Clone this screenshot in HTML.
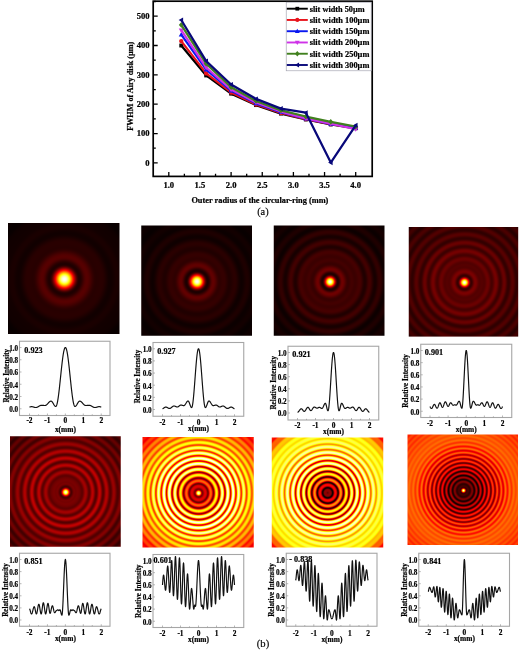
<!DOCTYPE html>
<html lang="en"><head><meta charset="utf-8"><title>Figure</title>
<style>html,body{margin:0;padding:0;background:#fff}svg{display:block}text{font-family:"Liberation Serif","DejaVu Serif",serif;fill:#000}.b{font-weight:bold}.s{stroke:#000;stroke-width:0.2px}.t{stroke:#000;stroke-width:0.22px}</style></head><body>
<svg width="520" height="650" viewBox="0 0 520 650">
<rect x="0" y="0" width="520" height="650" fill="#fff"/>
<defs>
<radialGradient id="g1" gradientUnits="userSpaceOnUse" cx="64.40" cy="279.10" r="81.21">
<stop offset="0.0000" stop-color="#fffffc"/><stop offset="0.0059" stop-color="#fffff9"/><stop offset="0.0118" stop-color="#fffff2"/><stop offset="0.0178" stop-color="#ffffe5"/><stop offset="0.0237" stop-color="#ffffd4"/><stop offset="0.0296" stop-color="#ffffbf"/><stop offset="0.0355" stop-color="#ffffa5"/><stop offset="0.0414" stop-color="#ffff87"/><stop offset="0.0473" stop-color="#ffff65"/><stop offset="0.0533" stop-color="#ffff40"/><stop offset="0.0592" stop-color="#ffff18"/><stop offset="0.0651" stop-color="#fff200"/><stop offset="0.0710" stop-color="#ffd400"/><stop offset="0.0769" stop-color="#ffb500"/><stop offset="0.0828" stop-color="#ff9500"/><stop offset="0.0888" stop-color="#ff7400"/><stop offset="0.0947" stop-color="#ff5400"/><stop offset="0.1006" stop-color="#ff3300"/><stop offset="0.1065" stop-color="#ff1300"/><stop offset="0.1124" stop-color="#f30000"/><stop offset="0.1183" stop-color="#d50000"/><stop offset="0.1243" stop-color="#b80000"/><stop offset="0.1302" stop-color="#9d0000"/><stop offset="0.1361" stop-color="#850000"/><stop offset="0.1420" stop-color="#6e0000"/><stop offset="0.1479" stop-color="#5a0000"/><stop offset="0.1538" stop-color="#480000"/><stop offset="0.1598" stop-color="#3a0000"/><stop offset="0.1657" stop-color="#2e0000"/><stop offset="0.1716" stop-color="#260000"/><stop offset="0.1775" stop-color="#210000"/><stop offset="0.1834" stop-color="#1f0000"/><stop offset="0.1893" stop-color="#1f0000"/><stop offset="0.1953" stop-color="#200000"/><stop offset="0.2012" stop-color="#230000"/><stop offset="0.2071" stop-color="#270000"/><stop offset="0.2130" stop-color="#2b0000"/><stop offset="0.2189" stop-color="#300000"/><stop offset="0.2249" stop-color="#360000"/><stop offset="0.2308" stop-color="#3c0000"/><stop offset="0.2367" stop-color="#420000"/><stop offset="0.2426" stop-color="#470000"/><stop offset="0.2485" stop-color="#4c0000"/><stop offset="0.2544" stop-color="#500000"/><stop offset="0.2604" stop-color="#530000"/><stop offset="0.2663" stop-color="#550000"/><stop offset="0.2722" stop-color="#560000"/><stop offset="0.2781" stop-color="#570000"/><stop offset="0.2840" stop-color="#560000"/><stop offset="0.2899" stop-color="#550000"/><stop offset="0.2959" stop-color="#530000"/><stop offset="0.3018" stop-color="#510000"/><stop offset="0.3077" stop-color="#4e0000"/><stop offset="0.3136" stop-color="#4b0000"/><stop offset="0.3195" stop-color="#470000"/><stop offset="0.3254" stop-color="#440000"/><stop offset="0.3314" stop-color="#400000"/><stop offset="0.3373" stop-color="#3c0000"/><stop offset="0.3432" stop-color="#380000"/><stop offset="0.3491" stop-color="#350000"/><stop offset="0.3550" stop-color="#310000"/><stop offset="0.3609" stop-color="#2f0000"/><stop offset="0.3669" stop-color="#2c0000"/><stop offset="0.3728" stop-color="#2a0000"/><stop offset="0.3787" stop-color="#290000"/><stop offset="0.3846" stop-color="#280000"/><stop offset="0.3905" stop-color="#270000"/><stop offset="0.3964" stop-color="#270000"/><stop offset="0.4024" stop-color="#270000"/><stop offset="0.4083" stop-color="#280000"/><stop offset="0.4142" stop-color="#280000"/><stop offset="0.4201" stop-color="#280000"/><stop offset="0.4260" stop-color="#280000"/><stop offset="0.4320" stop-color="#290000"/><stop offset="0.4379" stop-color="#290000"/><stop offset="0.4438" stop-color="#290000"/><stop offset="0.4497" stop-color="#290000"/><stop offset="0.4556" stop-color="#290000"/><stop offset="0.4615" stop-color="#290000"/><stop offset="0.4675" stop-color="#280000"/><stop offset="0.4734" stop-color="#280000"/><stop offset="0.4793" stop-color="#270000"/><stop offset="0.4852" stop-color="#250000"/><stop offset="0.4911" stop-color="#240000"/><stop offset="0.4970" stop-color="#220000"/><stop offset="0.5030" stop-color="#200000"/><stop offset="0.5089" stop-color="#1e0000"/><stop offset="0.5148" stop-color="#1c0000"/><stop offset="0.5207" stop-color="#1a0000"/><stop offset="0.5266" stop-color="#180000"/><stop offset="0.5325" stop-color="#160000"/><stop offset="0.5385" stop-color="#150000"/><stop offset="0.5444" stop-color="#130000"/><stop offset="0.5503" stop-color="#120000"/><stop offset="0.5562" stop-color="#120000"/><stop offset="0.5621" stop-color="#110000"/><stop offset="0.5680" stop-color="#110000"/><stop offset="0.5740" stop-color="#110000"/><stop offset="0.5799" stop-color="#120000"/><stop offset="0.5858" stop-color="#120000"/><stop offset="0.5917" stop-color="#130000"/><stop offset="0.5976" stop-color="#140000"/><stop offset="0.6036" stop-color="#150000"/><stop offset="0.6095" stop-color="#160000"/><stop offset="0.6154" stop-color="#170000"/><stop offset="0.6213" stop-color="#180000"/><stop offset="0.6272" stop-color="#190000"/><stop offset="0.6331" stop-color="#1a0000"/><stop offset="0.6391" stop-color="#1a0000"/><stop offset="0.6450" stop-color="#1a0000"/><stop offset="0.6509" stop-color="#1a0000"/><stop offset="0.6568" stop-color="#1a0000"/><stop offset="0.6627" stop-color="#190000"/><stop offset="0.6686" stop-color="#190000"/><stop offset="0.6746" stop-color="#180000"/><stop offset="0.6805" stop-color="#170000"/><stop offset="0.6864" stop-color="#160000"/><stop offset="0.6923" stop-color="#150000"/><stop offset="0.6982" stop-color="#140000"/><stop offset="0.7041" stop-color="#130000"/><stop offset="0.7101" stop-color="#130000"/><stop offset="0.7160" stop-color="#130000"/><stop offset="0.7219" stop-color="#120000"/><stop offset="0.7278" stop-color="#120000"/><stop offset="0.7337" stop-color="#120000"/><stop offset="0.7396" stop-color="#120000"/><stop offset="0.7456" stop-color="#120000"/><stop offset="0.7515" stop-color="#120000"/><stop offset="0.7574" stop-color="#120000"/><stop offset="0.7633" stop-color="#110000"/><stop offset="0.7692" stop-color="#110000"/><stop offset="0.7751" stop-color="#110000"/><stop offset="0.7811" stop-color="#110000"/><stop offset="0.7870" stop-color="#110000"/><stop offset="0.7929" stop-color="#110000"/><stop offset="0.7988" stop-color="#110000"/><stop offset="0.8047" stop-color="#110000"/><stop offset="0.8107" stop-color="#100000"/><stop offset="0.8166" stop-color="#100000"/><stop offset="0.8225" stop-color="#100000"/><stop offset="0.8284" stop-color="#0f0000"/><stop offset="0.8343" stop-color="#0f0000"/><stop offset="0.8402" stop-color="#0e0000"/><stop offset="0.8462" stop-color="#0d0000"/><stop offset="0.8521" stop-color="#0c0000"/><stop offset="0.8580" stop-color="#0b0000"/><stop offset="0.8639" stop-color="#0a0000"/><stop offset="0.8698" stop-color="#0a0000"/><stop offset="0.8757" stop-color="#090000"/><stop offset="0.8817" stop-color="#090000"/><stop offset="0.8876" stop-color="#080000"/><stop offset="0.8935" stop-color="#080000"/><stop offset="0.8994" stop-color="#080000"/><stop offset="0.9053" stop-color="#080000"/><stop offset="0.9112" stop-color="#090000"/><stop offset="0.9172" stop-color="#090000"/><stop offset="0.9231" stop-color="#090000"/><stop offset="0.9290" stop-color="#0a0000"/><stop offset="0.9349" stop-color="#0a0000"/><stop offset="0.9408" stop-color="#0b0000"/><stop offset="0.9467" stop-color="#0b0000"/><stop offset="0.9527" stop-color="#0c0000"/><stop offset="0.9586" stop-color="#0c0000"/><stop offset="0.9645" stop-color="#0c0000"/><stop offset="0.9704" stop-color="#0c0000"/><stop offset="0.9763" stop-color="#0c0000"/><stop offset="0.9822" stop-color="#0c0000"/><stop offset="0.9882" stop-color="#0c0000"/><stop offset="0.9941" stop-color="#0c0000"/><stop offset="1.0000" stop-color="#0c0000"/>
</radialGradient>
<radialGradient id="g2" gradientUnits="userSpaceOnUse" cx="197.00" cy="281.50" r="80.66">
<stop offset="0.0000" stop-color="#fffff8"/><stop offset="0.0059" stop-color="#fffff4"/><stop offset="0.0118" stop-color="#ffffe5"/><stop offset="0.0178" stop-color="#ffffcd"/><stop offset="0.0237" stop-color="#ffffad"/><stop offset="0.0296" stop-color="#ffff84"/><stop offset="0.0355" stop-color="#ffff54"/><stop offset="0.0414" stop-color="#ffff1e"/><stop offset="0.0473" stop-color="#ffeb00"/><stop offset="0.0533" stop-color="#ffc000"/><stop offset="0.0592" stop-color="#ff9400"/><stop offset="0.0651" stop-color="#ff6700"/><stop offset="0.0710" stop-color="#ff3900"/><stop offset="0.0769" stop-color="#ff0c00"/><stop offset="0.0828" stop-color="#e00000"/><stop offset="0.0888" stop-color="#b80000"/><stop offset="0.0947" stop-color="#920000"/><stop offset="0.1006" stop-color="#710000"/><stop offset="0.1065" stop-color="#550000"/><stop offset="0.1124" stop-color="#3e0000"/><stop offset="0.1183" stop-color="#2d0000"/><stop offset="0.1243" stop-color="#220000"/><stop offset="0.1302" stop-color="#1d0000"/><stop offset="0.1361" stop-color="#1c0000"/><stop offset="0.1420" stop-color="#1f0000"/><stop offset="0.1479" stop-color="#250000"/><stop offset="0.1538" stop-color="#2c0000"/><stop offset="0.1598" stop-color="#350000"/><stop offset="0.1657" stop-color="#3e0000"/><stop offset="0.1716" stop-color="#480000"/><stop offset="0.1775" stop-color="#500000"/><stop offset="0.1834" stop-color="#580000"/><stop offset="0.1893" stop-color="#5d0000"/><stop offset="0.1953" stop-color="#600000"/><stop offset="0.2012" stop-color="#610000"/><stop offset="0.2071" stop-color="#600000"/><stop offset="0.2130" stop-color="#5e0000"/><stop offset="0.2189" stop-color="#5a0000"/><stop offset="0.2249" stop-color="#560000"/><stop offset="0.2308" stop-color="#510000"/><stop offset="0.2367" stop-color="#4b0000"/><stop offset="0.2426" stop-color="#460000"/><stop offset="0.2485" stop-color="#400000"/><stop offset="0.2544" stop-color="#3b0000"/><stop offset="0.2604" stop-color="#370000"/><stop offset="0.2663" stop-color="#330000"/><stop offset="0.2722" stop-color="#310000"/><stop offset="0.2781" stop-color="#2f0000"/><stop offset="0.2840" stop-color="#2f0000"/><stop offset="0.2899" stop-color="#2f0000"/><stop offset="0.2959" stop-color="#300000"/><stop offset="0.3018" stop-color="#310000"/><stop offset="0.3077" stop-color="#320000"/><stop offset="0.3136" stop-color="#330000"/><stop offset="0.3195" stop-color="#340000"/><stop offset="0.3254" stop-color="#340000"/><stop offset="0.3314" stop-color="#340000"/><stop offset="0.3373" stop-color="#340000"/><stop offset="0.3432" stop-color="#340000"/><stop offset="0.3491" stop-color="#320000"/><stop offset="0.3550" stop-color="#300000"/><stop offset="0.3609" stop-color="#2e0000"/><stop offset="0.3669" stop-color="#2b0000"/><stop offset="0.3728" stop-color="#290000"/><stop offset="0.3787" stop-color="#260000"/><stop offset="0.3846" stop-color="#240000"/><stop offset="0.3905" stop-color="#220000"/><stop offset="0.3964" stop-color="#200000"/><stop offset="0.4024" stop-color="#200000"/><stop offset="0.4083" stop-color="#200000"/><stop offset="0.4142" stop-color="#200000"/><stop offset="0.4201" stop-color="#210000"/><stop offset="0.4260" stop-color="#220000"/><stop offset="0.4320" stop-color="#240000"/><stop offset="0.4379" stop-color="#250000"/><stop offset="0.4438" stop-color="#270000"/><stop offset="0.4497" stop-color="#280000"/><stop offset="0.4556" stop-color="#290000"/><stop offset="0.4615" stop-color="#2a0000"/><stop offset="0.4675" stop-color="#2a0000"/><stop offset="0.4734" stop-color="#2a0000"/><stop offset="0.4793" stop-color="#290000"/><stop offset="0.4852" stop-color="#270000"/><stop offset="0.4911" stop-color="#250000"/><stop offset="0.4970" stop-color="#230000"/><stop offset="0.5030" stop-color="#200000"/><stop offset="0.5089" stop-color="#1d0000"/><stop offset="0.5148" stop-color="#1a0000"/><stop offset="0.5207" stop-color="#180000"/><stop offset="0.5266" stop-color="#150000"/><stop offset="0.5325" stop-color="#130000"/><stop offset="0.5385" stop-color="#110000"/><stop offset="0.5444" stop-color="#100000"/><stop offset="0.5503" stop-color="#0f0000"/><stop offset="0.5562" stop-color="#0f0000"/><stop offset="0.5621" stop-color="#100000"/><stop offset="0.5680" stop-color="#110000"/><stop offset="0.5740" stop-color="#120000"/><stop offset="0.5799" stop-color="#140000"/><stop offset="0.5858" stop-color="#160000"/><stop offset="0.5917" stop-color="#180000"/><stop offset="0.5976" stop-color="#1a0000"/><stop offset="0.6036" stop-color="#1b0000"/><stop offset="0.6095" stop-color="#1d0000"/><stop offset="0.6154" stop-color="#1e0000"/><stop offset="0.6213" stop-color="#1e0000"/><stop offset="0.6272" stop-color="#1e0000"/><stop offset="0.6331" stop-color="#1d0000"/><stop offset="0.6391" stop-color="#1c0000"/><stop offset="0.6450" stop-color="#1a0000"/><stop offset="0.6509" stop-color="#180000"/><stop offset="0.6568" stop-color="#160000"/><stop offset="0.6627" stop-color="#130000"/><stop offset="0.6686" stop-color="#110000"/><stop offset="0.6746" stop-color="#0f0000"/><stop offset="0.6805" stop-color="#0d0000"/><stop offset="0.6864" stop-color="#0c0000"/><stop offset="0.6923" stop-color="#0c0000"/><stop offset="0.6982" stop-color="#0c0000"/><stop offset="0.7041" stop-color="#0c0000"/><stop offset="0.7101" stop-color="#0d0000"/><stop offset="0.7160" stop-color="#0d0000"/><stop offset="0.7219" stop-color="#0e0000"/><stop offset="0.7278" stop-color="#0f0000"/><stop offset="0.7337" stop-color="#100000"/><stop offset="0.7396" stop-color="#110000"/><stop offset="0.7456" stop-color="#120000"/><stop offset="0.7515" stop-color="#120000"/><stop offset="0.7574" stop-color="#130000"/><stop offset="0.7633" stop-color="#130000"/><stop offset="0.7692" stop-color="#130000"/><stop offset="0.7751" stop-color="#120000"/><stop offset="0.7811" stop-color="#120000"/><stop offset="0.7870" stop-color="#100000"/><stop offset="0.7929" stop-color="#0f0000"/><stop offset="0.7988" stop-color="#0e0000"/><stop offset="0.8047" stop-color="#0c0000"/><stop offset="0.8107" stop-color="#0b0000"/><stop offset="0.8166" stop-color="#0a0000"/><stop offset="0.8225" stop-color="#090000"/><stop offset="0.8284" stop-color="#080000"/><stop offset="0.8343" stop-color="#080000"/><stop offset="0.8402" stop-color="#080000"/><stop offset="0.8462" stop-color="#080000"/><stop offset="0.8521" stop-color="#080000"/><stop offset="0.8580" stop-color="#090000"/><stop offset="0.8639" stop-color="#090000"/><stop offset="0.8698" stop-color="#0a0000"/><stop offset="0.8757" stop-color="#0b0000"/><stop offset="0.8817" stop-color="#0c0000"/><stop offset="0.8876" stop-color="#0c0000"/><stop offset="0.8935" stop-color="#0d0000"/><stop offset="0.8994" stop-color="#0d0000"/><stop offset="0.9053" stop-color="#0e0000"/><stop offset="0.9112" stop-color="#0e0000"/><stop offset="0.9172" stop-color="#0e0000"/><stop offset="0.9231" stop-color="#0d0000"/><stop offset="0.9290" stop-color="#0d0000"/><stop offset="0.9349" stop-color="#0c0000"/><stop offset="0.9408" stop-color="#0b0000"/><stop offset="0.9467" stop-color="#0a0000"/><stop offset="0.9527" stop-color="#090000"/><stop offset="0.9586" stop-color="#080000"/><stop offset="0.9645" stop-color="#080000"/><stop offset="0.9704" stop-color="#070000"/><stop offset="0.9763" stop-color="#070000"/><stop offset="0.9822" stop-color="#070000"/><stop offset="0.9882" stop-color="#070000"/><stop offset="0.9941" stop-color="#070000"/><stop offset="1.0000" stop-color="#070000"/>
</radialGradient>
<radialGradient id="g3" gradientUnits="userSpaceOnUse" cx="330.10" cy="281.80" r="80.66">
<stop offset="0.0000" stop-color="#fffff3"/><stop offset="0.0059" stop-color="#ffffea"/><stop offset="0.0118" stop-color="#ffffcf"/><stop offset="0.0178" stop-color="#ffffa4"/><stop offset="0.0237" stop-color="#ffff6a"/><stop offset="0.0296" stop-color="#ffff23"/><stop offset="0.0355" stop-color="#ffe100"/><stop offset="0.0414" stop-color="#ffa600"/><stop offset="0.0473" stop-color="#ff6900"/><stop offset="0.0533" stop-color="#ff2b00"/><stop offset="0.0592" stop-color="#ef0000"/><stop offset="0.0651" stop-color="#b70000"/><stop offset="0.0710" stop-color="#860000"/><stop offset="0.0769" stop-color="#5d0000"/><stop offset="0.0828" stop-color="#3e0000"/><stop offset="0.0888" stop-color="#2a0000"/><stop offset="0.0947" stop-color="#1f0000"/><stop offset="0.1006" stop-color="#1e0000"/><stop offset="0.1065" stop-color="#230000"/><stop offset="0.1124" stop-color="#2c0000"/><stop offset="0.1183" stop-color="#380000"/><stop offset="0.1243" stop-color="#460000"/><stop offset="0.1302" stop-color="#530000"/><stop offset="0.1361" stop-color="#5f0000"/><stop offset="0.1420" stop-color="#680000"/><stop offset="0.1479" stop-color="#6d0000"/><stop offset="0.1538" stop-color="#6e0000"/><stop offset="0.1598" stop-color="#6d0000"/><stop offset="0.1657" stop-color="#690000"/><stop offset="0.1716" stop-color="#640000"/><stop offset="0.1775" stop-color="#5e0000"/><stop offset="0.1834" stop-color="#570000"/><stop offset="0.1893" stop-color="#500000"/><stop offset="0.1953" stop-color="#490000"/><stop offset="0.2012" stop-color="#430000"/><stop offset="0.2071" stop-color="#3e0000"/><stop offset="0.2130" stop-color="#3a0000"/><stop offset="0.2189" stop-color="#380000"/><stop offset="0.2249" stop-color="#380000"/><stop offset="0.2308" stop-color="#380000"/><stop offset="0.2367" stop-color="#3a0000"/><stop offset="0.2426" stop-color="#3c0000"/><stop offset="0.2485" stop-color="#3e0000"/><stop offset="0.2544" stop-color="#400000"/><stop offset="0.2604" stop-color="#420000"/><stop offset="0.2663" stop-color="#430000"/><stop offset="0.2722" stop-color="#430000"/><stop offset="0.2781" stop-color="#420000"/><stop offset="0.2840" stop-color="#410000"/><stop offset="0.2899" stop-color="#3f0000"/><stop offset="0.2959" stop-color="#3d0000"/><stop offset="0.3018" stop-color="#3c0000"/><stop offset="0.3077" stop-color="#3b0000"/><stop offset="0.3136" stop-color="#3b0000"/><stop offset="0.3195" stop-color="#3b0000"/><stop offset="0.3254" stop-color="#3c0000"/><stop offset="0.3314" stop-color="#3e0000"/><stop offset="0.3373" stop-color="#3f0000"/><stop offset="0.3432" stop-color="#410000"/><stop offset="0.3491" stop-color="#430000"/><stop offset="0.3550" stop-color="#450000"/><stop offset="0.3609" stop-color="#450000"/><stop offset="0.3669" stop-color="#460000"/><stop offset="0.3728" stop-color="#450000"/><stop offset="0.3787" stop-color="#430000"/><stop offset="0.3846" stop-color="#3f0000"/><stop offset="0.3905" stop-color="#3b0000"/><stop offset="0.3964" stop-color="#360000"/><stop offset="0.4024" stop-color="#310000"/><stop offset="0.4083" stop-color="#2b0000"/><stop offset="0.4142" stop-color="#270000"/><stop offset="0.4201" stop-color="#230000"/><stop offset="0.4260" stop-color="#210000"/><stop offset="0.4320" stop-color="#200000"/><stop offset="0.4379" stop-color="#210000"/><stop offset="0.4438" stop-color="#240000"/><stop offset="0.4497" stop-color="#280000"/><stop offset="0.4556" stop-color="#2d0000"/><stop offset="0.4615" stop-color="#330000"/><stop offset="0.4675" stop-color="#380000"/><stop offset="0.4734" stop-color="#3d0000"/><stop offset="0.4793" stop-color="#400000"/><stop offset="0.4852" stop-color="#420000"/><stop offset="0.4911" stop-color="#420000"/><stop offset="0.4970" stop-color="#410000"/><stop offset="0.5030" stop-color="#3e0000"/><stop offset="0.5089" stop-color="#390000"/><stop offset="0.5148" stop-color="#340000"/><stop offset="0.5207" stop-color="#2f0000"/><stop offset="0.5266" stop-color="#290000"/><stop offset="0.5325" stop-color="#240000"/><stop offset="0.5385" stop-color="#1f0000"/><stop offset="0.5444" stop-color="#1b0000"/><stop offset="0.5503" stop-color="#190000"/><stop offset="0.5562" stop-color="#170000"/><stop offset="0.5621" stop-color="#180000"/><stop offset="0.5680" stop-color="#190000"/><stop offset="0.5740" stop-color="#1c0000"/><stop offset="0.5799" stop-color="#200000"/><stop offset="0.5858" stop-color="#250000"/><stop offset="0.5917" stop-color="#290000"/><stop offset="0.5976" stop-color="#2d0000"/><stop offset="0.6036" stop-color="#300000"/><stop offset="0.6095" stop-color="#320000"/><stop offset="0.6154" stop-color="#320000"/><stop offset="0.6213" stop-color="#320000"/><stop offset="0.6272" stop-color="#300000"/><stop offset="0.6331" stop-color="#2d0000"/><stop offset="0.6391" stop-color="#290000"/><stop offset="0.6450" stop-color="#240000"/><stop offset="0.6509" stop-color="#1f0000"/><stop offset="0.6568" stop-color="#1b0000"/><stop offset="0.6627" stop-color="#160000"/><stop offset="0.6686" stop-color="#120000"/><stop offset="0.6746" stop-color="#100000"/><stop offset="0.6805" stop-color="#0e0000"/><stop offset="0.6864" stop-color="#0d0000"/><stop offset="0.6923" stop-color="#0d0000"/><stop offset="0.6982" stop-color="#0e0000"/><stop offset="0.7041" stop-color="#100000"/><stop offset="0.7101" stop-color="#120000"/><stop offset="0.7160" stop-color="#150000"/><stop offset="0.7219" stop-color="#180000"/><stop offset="0.7278" stop-color="#1a0000"/><stop offset="0.7337" stop-color="#1c0000"/><stop offset="0.7396" stop-color="#1e0000"/><stop offset="0.7456" stop-color="#1f0000"/><stop offset="0.7515" stop-color="#1f0000"/><stop offset="0.7574" stop-color="#1e0000"/><stop offset="0.7633" stop-color="#1d0000"/><stop offset="0.7692" stop-color="#1b0000"/><stop offset="0.7751" stop-color="#180000"/><stop offset="0.7811" stop-color="#160000"/><stop offset="0.7870" stop-color="#130000"/><stop offset="0.7929" stop-color="#100000"/><stop offset="0.7988" stop-color="#0e0000"/><stop offset="0.8047" stop-color="#0c0000"/><stop offset="0.8107" stop-color="#0b0000"/><stop offset="0.8166" stop-color="#0b0000"/><stop offset="0.8225" stop-color="#0c0000"/><stop offset="0.8284" stop-color="#0c0000"/><stop offset="0.8343" stop-color="#0e0000"/><stop offset="0.8402" stop-color="#0f0000"/><stop offset="0.8462" stop-color="#110000"/><stop offset="0.8521" stop-color="#120000"/><stop offset="0.8580" stop-color="#140000"/><stop offset="0.8639" stop-color="#150000"/><stop offset="0.8698" stop-color="#160000"/><stop offset="0.8757" stop-color="#160000"/><stop offset="0.8817" stop-color="#160000"/><stop offset="0.8876" stop-color="#150000"/><stop offset="0.8935" stop-color="#140000"/><stop offset="0.8994" stop-color="#130000"/><stop offset="0.9053" stop-color="#110000"/><stop offset="0.9112" stop-color="#0f0000"/><stop offset="0.9172" stop-color="#0d0000"/><stop offset="0.9231" stop-color="#0c0000"/><stop offset="0.9290" stop-color="#0b0000"/><stop offset="0.9349" stop-color="#0a0000"/><stop offset="0.9408" stop-color="#0a0000"/><stop offset="0.9467" stop-color="#0a0000"/><stop offset="0.9527" stop-color="#0a0000"/><stop offset="0.9586" stop-color="#0b0000"/><stop offset="0.9645" stop-color="#0c0000"/><stop offset="0.9704" stop-color="#0d0000"/><stop offset="0.9763" stop-color="#0e0000"/><stop offset="0.9822" stop-color="#0f0000"/><stop offset="0.9882" stop-color="#100000"/><stop offset="0.9941" stop-color="#110000"/><stop offset="1.0000" stop-color="#110000"/>
</radialGradient>
<radialGradient id="g4" gradientUnits="userSpaceOnUse" cx="464.50" cy="282.50" r="79.71">
<stop offset="0.0000" stop-color="#ffffef"/><stop offset="0.0059" stop-color="#ffffe4"/><stop offset="0.0118" stop-color="#ffffc3"/><stop offset="0.0178" stop-color="#ffff8d"/><stop offset="0.0237" stop-color="#ffff45"/><stop offset="0.0296" stop-color="#fff400"/><stop offset="0.0355" stop-color="#ffb400"/><stop offset="0.0414" stop-color="#ff7000"/><stop offset="0.0473" stop-color="#ff2d00"/><stop offset="0.0533" stop-color="#eb0000"/><stop offset="0.0592" stop-color="#b10000"/><stop offset="0.0651" stop-color="#810000"/><stop offset="0.0710" stop-color="#5b0000"/><stop offset="0.0769" stop-color="#430000"/><stop offset="0.0828" stop-color="#380000"/><stop offset="0.0888" stop-color="#360000"/><stop offset="0.0947" stop-color="#3c0000"/><stop offset="0.1006" stop-color="#460000"/><stop offset="0.1065" stop-color="#520000"/><stop offset="0.1124" stop-color="#5f0000"/><stop offset="0.1183" stop-color="#6a0000"/><stop offset="0.1243" stop-color="#730000"/><stop offset="0.1302" stop-color="#790000"/><stop offset="0.1361" stop-color="#7b0000"/><stop offset="0.1420" stop-color="#790000"/><stop offset="0.1479" stop-color="#760000"/><stop offset="0.1538" stop-color="#710000"/><stop offset="0.1598" stop-color="#6b0000"/><stop offset="0.1657" stop-color="#640000"/><stop offset="0.1716" stop-color="#5e0000"/><stop offset="0.1775" stop-color="#590000"/><stop offset="0.1834" stop-color="#550000"/><stop offset="0.1893" stop-color="#530000"/><stop offset="0.1953" stop-color="#520000"/><stop offset="0.2012" stop-color="#530000"/><stop offset="0.2071" stop-color="#540000"/><stop offset="0.2130" stop-color="#550000"/><stop offset="0.2189" stop-color="#550000"/><stop offset="0.2249" stop-color="#550000"/><stop offset="0.2308" stop-color="#540000"/><stop offset="0.2367" stop-color="#520000"/><stop offset="0.2426" stop-color="#510000"/><stop offset="0.2485" stop-color="#510000"/><stop offset="0.2544" stop-color="#530000"/><stop offset="0.2604" stop-color="#560000"/><stop offset="0.2663" stop-color="#5a0000"/><stop offset="0.2722" stop-color="#5f0000"/><stop offset="0.2781" stop-color="#640000"/><stop offset="0.2840" stop-color="#670000"/><stop offset="0.2899" stop-color="#6a0000"/><stop offset="0.2959" stop-color="#6a0000"/><stop offset="0.3018" stop-color="#690000"/><stop offset="0.3077" stop-color="#640000"/><stop offset="0.3136" stop-color="#5f0000"/><stop offset="0.3195" stop-color="#580000"/><stop offset="0.3254" stop-color="#510000"/><stop offset="0.3314" stop-color="#4b0000"/><stop offset="0.3373" stop-color="#470000"/><stop offset="0.3432" stop-color="#460000"/><stop offset="0.3491" stop-color="#480000"/><stop offset="0.3550" stop-color="#4c0000"/><stop offset="0.3609" stop-color="#520000"/><stop offset="0.3669" stop-color="#590000"/><stop offset="0.3728" stop-color="#610000"/><stop offset="0.3787" stop-color="#690000"/><stop offset="0.3846" stop-color="#6f0000"/><stop offset="0.3905" stop-color="#730000"/><stop offset="0.3964" stop-color="#740000"/><stop offset="0.4024" stop-color="#720000"/><stop offset="0.4083" stop-color="#6d0000"/><stop offset="0.4142" stop-color="#660000"/><stop offset="0.4201" stop-color="#5d0000"/><stop offset="0.4260" stop-color="#540000"/><stop offset="0.4320" stop-color="#4b0000"/><stop offset="0.4379" stop-color="#430000"/><stop offset="0.4438" stop-color="#3e0000"/><stop offset="0.4497" stop-color="#3c0000"/><stop offset="0.4556" stop-color="#3d0000"/><stop offset="0.4615" stop-color="#410000"/><stop offset="0.4675" stop-color="#480000"/><stop offset="0.4734" stop-color="#510000"/><stop offset="0.4793" stop-color="#5a0000"/><stop offset="0.4852" stop-color="#610000"/><stop offset="0.4911" stop-color="#670000"/><stop offset="0.4970" stop-color="#690000"/><stop offset="0.5030" stop-color="#690000"/><stop offset="0.5089" stop-color="#650000"/><stop offset="0.5148" stop-color="#5f0000"/><stop offset="0.5207" stop-color="#560000"/><stop offset="0.5266" stop-color="#4d0000"/><stop offset="0.5325" stop-color="#430000"/><stop offset="0.5385" stop-color="#3b0000"/><stop offset="0.5444" stop-color="#360000"/><stop offset="0.5503" stop-color="#330000"/><stop offset="0.5562" stop-color="#330000"/><stop offset="0.5621" stop-color="#350000"/><stop offset="0.5680" stop-color="#3a0000"/><stop offset="0.5740" stop-color="#400000"/><stop offset="0.5799" stop-color="#470000"/><stop offset="0.5858" stop-color="#4e0000"/><stop offset="0.5917" stop-color="#530000"/><stop offset="0.5976" stop-color="#570000"/><stop offset="0.6036" stop-color="#580000"/><stop offset="0.6095" stop-color="#570000"/><stop offset="0.6154" stop-color="#540000"/><stop offset="0.6213" stop-color="#4f0000"/><stop offset="0.6272" stop-color="#480000"/><stop offset="0.6331" stop-color="#410000"/><stop offset="0.6391" stop-color="#3a0000"/><stop offset="0.6450" stop-color="#350000"/><stop offset="0.6509" stop-color="#310000"/><stop offset="0.6568" stop-color="#2f0000"/><stop offset="0.6627" stop-color="#2f0000"/><stop offset="0.6686" stop-color="#320000"/><stop offset="0.6746" stop-color="#360000"/><stop offset="0.6805" stop-color="#3c0000"/><stop offset="0.6864" stop-color="#420000"/><stop offset="0.6923" stop-color="#480000"/><stop offset="0.6982" stop-color="#4d0000"/><stop offset="0.7041" stop-color="#500000"/><stop offset="0.7101" stop-color="#520000"/><stop offset="0.7160" stop-color="#510000"/><stop offset="0.7219" stop-color="#4e0000"/><stop offset="0.7278" stop-color="#4a0000"/><stop offset="0.7337" stop-color="#430000"/><stop offset="0.7396" stop-color="#3c0000"/><stop offset="0.7456" stop-color="#360000"/><stop offset="0.7515" stop-color="#300000"/><stop offset="0.7574" stop-color="#2c0000"/><stop offset="0.7633" stop-color="#2a0000"/><stop offset="0.7692" stop-color="#2b0000"/><stop offset="0.7751" stop-color="#2d0000"/><stop offset="0.7811" stop-color="#310000"/><stop offset="0.7870" stop-color="#360000"/><stop offset="0.7929" stop-color="#3c0000"/><stop offset="0.7988" stop-color="#410000"/><stop offset="0.8047" stop-color="#460000"/><stop offset="0.8107" stop-color="#490000"/><stop offset="0.8166" stop-color="#4a0000"/><stop offset="0.8225" stop-color="#4a0000"/><stop offset="0.8284" stop-color="#470000"/><stop offset="0.8343" stop-color="#420000"/><stop offset="0.8402" stop-color="#3d0000"/><stop offset="0.8462" stop-color="#370000"/><stop offset="0.8521" stop-color="#310000"/><stop offset="0.8580" stop-color="#2b0000"/><stop offset="0.8639" stop-color="#280000"/><stop offset="0.8698" stop-color="#260000"/><stop offset="0.8757" stop-color="#270000"/><stop offset="0.8817" stop-color="#290000"/><stop offset="0.8876" stop-color="#2c0000"/><stop offset="0.8935" stop-color="#310000"/><stop offset="0.8994" stop-color="#360000"/><stop offset="0.9053" stop-color="#3a0000"/><stop offset="0.9112" stop-color="#3e0000"/><stop offset="0.9172" stop-color="#410000"/><stop offset="0.9231" stop-color="#420000"/><stop offset="0.9290" stop-color="#420000"/><stop offset="0.9349" stop-color="#3f0000"/><stop offset="0.9408" stop-color="#3b0000"/><stop offset="0.9467" stop-color="#360000"/><stop offset="0.9527" stop-color="#310000"/><stop offset="0.9586" stop-color="#2b0000"/><stop offset="0.9645" stop-color="#270000"/><stop offset="0.9704" stop-color="#240000"/><stop offset="0.9763" stop-color="#220000"/><stop offset="0.9822" stop-color="#220000"/><stop offset="0.9882" stop-color="#240000"/><stop offset="0.9941" stop-color="#270000"/><stop offset="1.0000" stop-color="#2b0000"/>
</radialGradient>
<radialGradient id="g5" gradientUnits="userSpaceOnUse" cx="65.75" cy="492.20" r="80.66">
<stop offset="0.0000" stop-color="#ffffe7"/><stop offset="0.0059" stop-color="#ffffd7"/><stop offset="0.0118" stop-color="#ffffa5"/><stop offset="0.0178" stop-color="#ffff58"/><stop offset="0.0237" stop-color="#fff700"/><stop offset="0.0296" stop-color="#ffaa00"/><stop offset="0.0355" stop-color="#ff5900"/><stop offset="0.0414" stop-color="#ff0a00"/><stop offset="0.0473" stop-color="#c30000"/><stop offset="0.0533" stop-color="#8a0000"/><stop offset="0.0592" stop-color="#630000"/><stop offset="0.0651" stop-color="#4d0000"/><stop offset="0.0710" stop-color="#470000"/><stop offset="0.0769" stop-color="#4d0000"/><stop offset="0.0828" stop-color="#580000"/><stop offset="0.0888" stop-color="#640000"/><stop offset="0.0947" stop-color="#6f0000"/><stop offset="0.1006" stop-color="#760000"/><stop offset="0.1065" stop-color="#790000"/><stop offset="0.1124" stop-color="#780000"/><stop offset="0.1183" stop-color="#750000"/><stop offset="0.1243" stop-color="#740000"/><stop offset="0.1302" stop-color="#750000"/><stop offset="0.1361" stop-color="#770000"/><stop offset="0.1420" stop-color="#790000"/><stop offset="0.1479" stop-color="#790000"/><stop offset="0.1538" stop-color="#780000"/><stop offset="0.1598" stop-color="#760000"/><stop offset="0.1657" stop-color="#740000"/><stop offset="0.1716" stop-color="#710000"/><stop offset="0.1775" stop-color="#6e0000"/><stop offset="0.1834" stop-color="#6a0000"/><stop offset="0.1893" stop-color="#650000"/><stop offset="0.1953" stop-color="#600000"/><stop offset="0.2012" stop-color="#5e0000"/><stop offset="0.2071" stop-color="#5f0000"/><stop offset="0.2130" stop-color="#650000"/><stop offset="0.2189" stop-color="#700000"/><stop offset="0.2249" stop-color="#7d0000"/><stop offset="0.2308" stop-color="#8b0000"/><stop offset="0.2367" stop-color="#970000"/><stop offset="0.2426" stop-color="#a00000"/><stop offset="0.2485" stop-color="#a30000"/><stop offset="0.2544" stop-color="#a00000"/><stop offset="0.2604" stop-color="#970000"/><stop offset="0.2663" stop-color="#8a0000"/><stop offset="0.2722" stop-color="#7b0000"/><stop offset="0.2781" stop-color="#6c0000"/><stop offset="0.2840" stop-color="#600000"/><stop offset="0.2899" stop-color="#5a0000"/><stop offset="0.2959" stop-color="#5c0000"/><stop offset="0.3018" stop-color="#660000"/><stop offset="0.3077" stop-color="#780000"/><stop offset="0.3136" stop-color="#8d0000"/><stop offset="0.3195" stop-color="#a20000"/><stop offset="0.3254" stop-color="#b30000"/><stop offset="0.3314" stop-color="#bb0000"/><stop offset="0.3373" stop-color="#b90000"/><stop offset="0.3432" stop-color="#af0000"/><stop offset="0.3491" stop-color="#9e0000"/><stop offset="0.3550" stop-color="#890000"/><stop offset="0.3609" stop-color="#740000"/><stop offset="0.3669" stop-color="#620000"/><stop offset="0.3728" stop-color="#570000"/><stop offset="0.3787" stop-color="#540000"/><stop offset="0.3846" stop-color="#5b0000"/><stop offset="0.3905" stop-color="#6a0000"/><stop offset="0.3964" stop-color="#7f0000"/><stop offset="0.4024" stop-color="#960000"/><stop offset="0.4083" stop-color="#ab0000"/><stop offset="0.4142" stop-color="#bb0000"/><stop offset="0.4201" stop-color="#c10000"/><stop offset="0.4260" stop-color="#be0000"/><stop offset="0.4320" stop-color="#b10000"/><stop offset="0.4379" stop-color="#9d0000"/><stop offset="0.4438" stop-color="#860000"/><stop offset="0.4497" stop-color="#6f0000"/><stop offset="0.4556" stop-color="#5e0000"/><stop offset="0.4615" stop-color="#550000"/><stop offset="0.4675" stop-color="#550000"/><stop offset="0.4734" stop-color="#5e0000"/><stop offset="0.4793" stop-color="#6e0000"/><stop offset="0.4852" stop-color="#810000"/><stop offset="0.4911" stop-color="#940000"/><stop offset="0.4970" stop-color="#a50000"/><stop offset="0.5030" stop-color="#af0000"/><stop offset="0.5089" stop-color="#b20000"/><stop offset="0.5148" stop-color="#ae0000"/><stop offset="0.5207" stop-color="#a20000"/><stop offset="0.5266" stop-color="#910000"/><stop offset="0.5325" stop-color="#7e0000"/><stop offset="0.5385" stop-color="#6c0000"/><stop offset="0.5444" stop-color="#5d0000"/><stop offset="0.5503" stop-color="#550000"/><stop offset="0.5562" stop-color="#530000"/><stop offset="0.5621" stop-color="#580000"/><stop offset="0.5680" stop-color="#630000"/><stop offset="0.5740" stop-color="#720000"/><stop offset="0.5799" stop-color="#810000"/><stop offset="0.5858" stop-color="#8e0000"/><stop offset="0.5917" stop-color="#970000"/><stop offset="0.5976" stop-color="#990000"/><stop offset="0.6036" stop-color="#960000"/><stop offset="0.6095" stop-color="#8f0000"/><stop offset="0.6154" stop-color="#830000"/><stop offset="0.6213" stop-color="#770000"/><stop offset="0.6272" stop-color="#690000"/><stop offset="0.6331" stop-color="#5e0000"/><stop offset="0.6391" stop-color="#550000"/><stop offset="0.6450" stop-color="#510000"/><stop offset="0.6509" stop-color="#510000"/><stop offset="0.6568" stop-color="#560000"/><stop offset="0.6627" stop-color="#5f0000"/><stop offset="0.6686" stop-color="#6a0000"/><stop offset="0.6746" stop-color="#750000"/><stop offset="0.6805" stop-color="#7e0000"/><stop offset="0.6864" stop-color="#830000"/><stop offset="0.6923" stop-color="#840000"/><stop offset="0.6982" stop-color="#800000"/><stop offset="0.7041" stop-color="#770000"/><stop offset="0.7101" stop-color="#6b0000"/><stop offset="0.7160" stop-color="#5d0000"/><stop offset="0.7219" stop-color="#510000"/><stop offset="0.7278" stop-color="#470000"/><stop offset="0.7337" stop-color="#430000"/><stop offset="0.7396" stop-color="#440000"/><stop offset="0.7456" stop-color="#490000"/><stop offset="0.7515" stop-color="#520000"/><stop offset="0.7574" stop-color="#5c0000"/><stop offset="0.7633" stop-color="#660000"/><stop offset="0.7692" stop-color="#6f0000"/><stop offset="0.7751" stop-color="#730000"/><stop offset="0.7811" stop-color="#730000"/><stop offset="0.7870" stop-color="#6f0000"/><stop offset="0.7929" stop-color="#660000"/><stop offset="0.7988" stop-color="#5b0000"/><stop offset="0.8047" stop-color="#4f0000"/><stop offset="0.8107" stop-color="#440000"/><stop offset="0.8166" stop-color="#3d0000"/><stop offset="0.8225" stop-color="#3a0000"/><stop offset="0.8284" stop-color="#3c0000"/><stop offset="0.8343" stop-color="#410000"/><stop offset="0.8402" stop-color="#490000"/><stop offset="0.8462" stop-color="#520000"/><stop offset="0.8521" stop-color="#5b0000"/><stop offset="0.8580" stop-color="#610000"/><stop offset="0.8639" stop-color="#640000"/><stop offset="0.8698" stop-color="#630000"/><stop offset="0.8757" stop-color="#5f0000"/><stop offset="0.8817" stop-color="#560000"/><stop offset="0.8876" stop-color="#4c0000"/><stop offset="0.8935" stop-color="#420000"/><stop offset="0.8994" stop-color="#390000"/><stop offset="0.9053" stop-color="#340000"/><stop offset="0.9112" stop-color="#320000"/><stop offset="0.9172" stop-color="#340000"/><stop offset="0.9231" stop-color="#390000"/><stop offset="0.9290" stop-color="#400000"/><stop offset="0.9349" stop-color="#480000"/><stop offset="0.9408" stop-color="#4f0000"/><stop offset="0.9467" stop-color="#540000"/><stop offset="0.9527" stop-color="#560000"/><stop offset="0.9586" stop-color="#540000"/><stop offset="0.9645" stop-color="#4f0000"/><stop offset="0.9704" stop-color="#480000"/><stop offset="0.9763" stop-color="#3f0000"/><stop offset="0.9822" stop-color="#360000"/><stop offset="0.9882" stop-color="#2f0000"/><stop offset="0.9941" stop-color="#2b0000"/><stop offset="1.0000" stop-color="#2a0000"/>
</radialGradient>
<radialGradient id="g6" gradientUnits="userSpaceOnUse" cx="198.60" cy="493.10" r="81.03">
<stop offset="0.0000" stop-color="#ffffc2"/><stop offset="0.0059" stop-color="#ffffb5"/><stop offset="0.0118" stop-color="#ffff85"/><stop offset="0.0178" stop-color="#ffff24"/><stop offset="0.0237" stop-color="#ffb700"/><stop offset="0.0296" stop-color="#ff4600"/><stop offset="0.0355" stop-color="#db0000"/><stop offset="0.0414" stop-color="#940000"/><stop offset="0.0473" stop-color="#780000"/><stop offset="0.0533" stop-color="#7f0000"/><stop offset="0.0592" stop-color="#990000"/><stop offset="0.0651" stop-color="#b70000"/><stop offset="0.0710" stop-color="#d00000"/><stop offset="0.0769" stop-color="#df0000"/><stop offset="0.0828" stop-color="#e50000"/><stop offset="0.0888" stop-color="#e20000"/><stop offset="0.0947" stop-color="#d30000"/><stop offset="0.1006" stop-color="#b40000"/><stop offset="0.1065" stop-color="#8d0000"/><stop offset="0.1124" stop-color="#700000"/><stop offset="0.1183" stop-color="#730000"/><stop offset="0.1243" stop-color="#9b0000"/><stop offset="0.1302" stop-color="#dd0000"/><stop offset="0.1361" stop-color="#ff2100"/><stop offset="0.1420" stop-color="#ff4f00"/><stop offset="0.1479" stop-color="#ff6300"/><stop offset="0.1538" stop-color="#ff6300"/><stop offset="0.1598" stop-color="#ff4f00"/><stop offset="0.1657" stop-color="#ff2100"/><stop offset="0.1716" stop-color="#dc0000"/><stop offset="0.1775" stop-color="#990000"/><stop offset="0.1834" stop-color="#750000"/><stop offset="0.1893" stop-color="#850000"/><stop offset="0.1953" stop-color="#cb0000"/><stop offset="0.2012" stop-color="#ff3200"/><stop offset="0.2071" stop-color="#ff9400"/><stop offset="0.2130" stop-color="#ffd900"/><stop offset="0.2189" stop-color="#fff900"/><stop offset="0.2249" stop-color="#fffd00"/><stop offset="0.2308" stop-color="#ffe400"/><stop offset="0.2367" stop-color="#ffa600"/><stop offset="0.2426" stop-color="#ff4400"/><stop offset="0.2485" stop-color="#da0000"/><stop offset="0.2544" stop-color="#970000"/><stop offset="0.2604" stop-color="#9c0000"/><stop offset="0.2663" stop-color="#ee0000"/><stop offset="0.2722" stop-color="#ff7000"/><stop offset="0.2781" stop-color="#ffef00"/><stop offset="0.2840" stop-color="#ffff6a"/><stop offset="0.2899" stop-color="#ffffa3"/><stop offset="0.2959" stop-color="#ffffa4"/><stop offset="0.3018" stop-color="#ffff6c"/><stop offset="0.3077" stop-color="#fff000"/><stop offset="0.3136" stop-color="#ff7100"/><stop offset="0.3195" stop-color="#f40000"/><stop offset="0.3254" stop-color="#b00000"/><stop offset="0.3314" stop-color="#c30000"/><stop offset="0.3373" stop-color="#ff2600"/><stop offset="0.3432" stop-color="#ffaf00"/><stop offset="0.3491" stop-color="#ffff44"/><stop offset="0.3550" stop-color="#ffffba"/><stop offset="0.3609" stop-color="#ffffea"/><stop offset="0.3669" stop-color="#ffffe1"/><stop offset="0.3728" stop-color="#ffff9a"/><stop offset="0.3787" stop-color="#ffff06"/><stop offset="0.3846" stop-color="#ff7e00"/><stop offset="0.3905" stop-color="#ff0a00"/><stop offset="0.3964" stop-color="#dd0000"/><stop offset="0.4024" stop-color="#ff1600"/><stop offset="0.4083" stop-color="#ff9700"/><stop offset="0.4142" stop-color="#ffff35"/><stop offset="0.4201" stop-color="#ffffc1"/><stop offset="0.4260" stop-color="#fffff7"/><stop offset="0.4320" stop-color="#ffffed"/><stop offset="0.4379" stop-color="#ffffa5"/><stop offset="0.4438" stop-color="#ffff17"/><stop offset="0.4497" stop-color="#ff9400"/><stop offset="0.4556" stop-color="#ff2a00"/><stop offset="0.4615" stop-color="#fd0000"/><stop offset="0.4675" stop-color="#ff2500"/><stop offset="0.4734" stop-color="#ff8a00"/><stop offset="0.4793" stop-color="#fffd00"/><stop offset="0.4852" stop-color="#ffff7b"/><stop offset="0.4911" stop-color="#ffffb6"/><stop offset="0.4970" stop-color="#ffffb9"/><stop offset="0.5030" stop-color="#ffff88"/><stop offset="0.5089" stop-color="#ffff1a"/><stop offset="0.5148" stop-color="#ffa900"/><stop offset="0.5207" stop-color="#ff4b00"/><stop offset="0.5266" stop-color="#ff2100"/><stop offset="0.5325" stop-color="#ff3c00"/><stop offset="0.5385" stop-color="#ff8a00"/><stop offset="0.5444" stop-color="#ffe500"/><stop offset="0.5503" stop-color="#ffff3d"/><stop offset="0.5562" stop-color="#ffff6c"/><stop offset="0.5621" stop-color="#ffff6f"/><stop offset="0.5680" stop-color="#ffff4c"/><stop offset="0.5740" stop-color="#fffc00"/><stop offset="0.5799" stop-color="#ffad00"/><stop offset="0.5858" stop-color="#ff6200"/><stop offset="0.5917" stop-color="#ff3c00"/><stop offset="0.5976" stop-color="#ff4900"/><stop offset="0.6036" stop-color="#ff7e00"/><stop offset="0.6095" stop-color="#ffbf00"/><stop offset="0.6154" stop-color="#fff100"/><stop offset="0.6213" stop-color="#ffff0e"/><stop offset="0.6272" stop-color="#ffff12"/><stop offset="0.6331" stop-color="#fffb00"/><stop offset="0.6391" stop-color="#ffd600"/><stop offset="0.6450" stop-color="#ff9f00"/><stop offset="0.6509" stop-color="#ff6b00"/><stop offset="0.6568" stop-color="#ff5000"/><stop offset="0.6627" stop-color="#ff5900"/><stop offset="0.6686" stop-color="#ff7f00"/><stop offset="0.6746" stop-color="#ffae00"/><stop offset="0.6805" stop-color="#ffd200"/><stop offset="0.6864" stop-color="#ffe400"/><stop offset="0.6923" stop-color="#ffe500"/><stop offset="0.6982" stop-color="#ffd800"/><stop offset="0.7041" stop-color="#ffb800"/><stop offset="0.7101" stop-color="#ff8a00"/><stop offset="0.7160" stop-color="#ff5d00"/><stop offset="0.7219" stop-color="#ff4400"/><stop offset="0.7278" stop-color="#ff4900"/><stop offset="0.7337" stop-color="#ff6500"/><stop offset="0.7396" stop-color="#ff8a00"/><stop offset="0.7456" stop-color="#ffa700"/><stop offset="0.7515" stop-color="#ffb700"/><stop offset="0.7574" stop-color="#ffbb00"/><stop offset="0.7633" stop-color="#ffb300"/><stop offset="0.7692" stop-color="#ff9d00"/><stop offset="0.7751" stop-color="#ff7700"/><stop offset="0.7811" stop-color="#ff4f00"/><stop offset="0.7870" stop-color="#ff3500"/><stop offset="0.7929" stop-color="#ff3100"/><stop offset="0.7988" stop-color="#ff4200"/><stop offset="0.8047" stop-color="#ff5c00"/><stop offset="0.8107" stop-color="#ff7300"/><stop offset="0.8166" stop-color="#ff8100"/><stop offset="0.8225" stop-color="#ff8600"/><stop offset="0.8284" stop-color="#ff8100"/><stop offset="0.8343" stop-color="#ff7100"/><stop offset="0.8402" stop-color="#ff5400"/><stop offset="0.8462" stop-color="#ff3100"/><stop offset="0.8521" stop-color="#ff1600"/><stop offset="0.8580" stop-color="#ff0c00"/><stop offset="0.8639" stop-color="#ff1400"/><stop offset="0.8698" stop-color="#ff2400"/><stop offset="0.8757" stop-color="#ff3400"/><stop offset="0.8817" stop-color="#ff3f00"/><stop offset="0.8876" stop-color="#ff4300"/><stop offset="0.8935" stop-color="#ff4200"/><stop offset="0.8994" stop-color="#ff3900"/><stop offset="0.9053" stop-color="#ff2600"/><stop offset="0.9112" stop-color="#ff0d00"/><stop offset="0.9172" stop-color="#f70000"/><stop offset="0.9231" stop-color="#ed0000"/><stop offset="0.9290" stop-color="#f10000"/><stop offset="0.9349" stop-color="#fd0000"/><stop offset="0.9408" stop-color="#ff0b00"/><stop offset="0.9467" stop-color="#ff1500"/><stop offset="0.9527" stop-color="#ff1a00"/><stop offset="0.9586" stop-color="#ff1a00"/><stop offset="0.9645" stop-color="#ff1500"/><stop offset="0.9704" stop-color="#ff0800"/><stop offset="0.9763" stop-color="#f40000"/><stop offset="0.9822" stop-color="#e10000"/><stop offset="0.9882" stop-color="#d70000"/><stop offset="0.9941" stop-color="#d90000"/><stop offset="1.0000" stop-color="#e40000"/>
</radialGradient>
<radialGradient id="g7" gradientUnits="userSpaceOnUse" cx="327.70" cy="492.80" r="81.21">
<stop offset="0.0000" stop-color="#600000"/><stop offset="0.0059" stop-color="#6a0000"/><stop offset="0.0118" stop-color="#7c0000"/><stop offset="0.0178" stop-color="#880000"/><stop offset="0.0237" stop-color="#8e0000"/><stop offset="0.0296" stop-color="#910000"/><stop offset="0.0355" stop-color="#900000"/><stop offset="0.0414" stop-color="#860000"/><stop offset="0.0473" stop-color="#650000"/><stop offset="0.0533" stop-color="#330000"/><stop offset="0.0592" stop-color="#0d0000"/><stop offset="0.0651" stop-color="#130000"/><stop offset="0.0710" stop-color="#470000"/><stop offset="0.0769" stop-color="#940000"/><stop offset="0.0828" stop-color="#d60000"/><stop offset="0.0888" stop-color="#fc0000"/><stop offset="0.0947" stop-color="#ff0800"/><stop offset="0.1006" stop-color="#ff0400"/><stop offset="0.1065" stop-color="#ea0000"/><stop offset="0.1124" stop-color="#b10000"/><stop offset="0.1183" stop-color="#650000"/><stop offset="0.1243" stop-color="#280000"/><stop offset="0.1302" stop-color="#1f0000"/><stop offset="0.1361" stop-color="#5e0000"/><stop offset="0.1420" stop-color="#ce0000"/><stop offset="0.1479" stop-color="#ff3b00"/><stop offset="0.1538" stop-color="#ff7c00"/><stop offset="0.1598" stop-color="#ff9100"/><stop offset="0.1657" stop-color="#ff8e00"/><stop offset="0.1716" stop-color="#ff7000"/><stop offset="0.1775" stop-color="#ff2800"/><stop offset="0.1834" stop-color="#be0000"/><stop offset="0.1893" stop-color="#5e0000"/><stop offset="0.1953" stop-color="#340000"/><stop offset="0.2012" stop-color="#5c0000"/><stop offset="0.2071" stop-color="#c90000"/><stop offset="0.2130" stop-color="#ff4e00"/><stop offset="0.2189" stop-color="#ffb600"/><stop offset="0.2249" stop-color="#ffed00"/><stop offset="0.2308" stop-color="#fffc00"/><stop offset="0.2367" stop-color="#fff100"/><stop offset="0.2426" stop-color="#ffba00"/><stop offset="0.2485" stop-color="#ff4a00"/><stop offset="0.2544" stop-color="#c20000"/><stop offset="0.2604" stop-color="#6b0000"/><stop offset="0.2663" stop-color="#780000"/><stop offset="0.2722" stop-color="#e30000"/><stop offset="0.2781" stop-color="#ff7a00"/><stop offset="0.2840" stop-color="#fff900"/><stop offset="0.2899" stop-color="#ffff5d"/><stop offset="0.2959" stop-color="#ffff7b"/><stop offset="0.3018" stop-color="#ffff6d"/><stop offset="0.3077" stop-color="#ffff23"/><stop offset="0.3136" stop-color="#ffab00"/><stop offset="0.3195" stop-color="#ff1f00"/><stop offset="0.3254" stop-color="#b10000"/><stop offset="0.3314" stop-color="#9d0000"/><stop offset="0.3373" stop-color="#f10000"/><stop offset="0.3432" stop-color="#ff8300"/><stop offset="0.3491" stop-color="#ffff18"/><stop offset="0.3550" stop-color="#ffff9a"/><stop offset="0.3609" stop-color="#ffffc7"/><stop offset="0.3669" stop-color="#ffffc5"/><stop offset="0.3728" stop-color="#ffff8f"/><stop offset="0.3787" stop-color="#ffff06"/><stop offset="0.3846" stop-color="#ff7c00"/><stop offset="0.3905" stop-color="#ff0000"/><stop offset="0.3964" stop-color="#cc0000"/><stop offset="0.4024" stop-color="#ff0000"/><stop offset="0.4083" stop-color="#ff7e00"/><stop offset="0.4142" stop-color="#ffff0d"/><stop offset="0.4201" stop-color="#ffff98"/><stop offset="0.4260" stop-color="#ffffce"/><stop offset="0.4320" stop-color="#ffffd3"/><stop offset="0.4379" stop-color="#ffffb2"/><stop offset="0.4438" stop-color="#ffff53"/><stop offset="0.4497" stop-color="#ffd000"/><stop offset="0.4556" stop-color="#ff6600"/><stop offset="0.4615" stop-color="#ff2900"/><stop offset="0.4675" stop-color="#ff3b00"/><stop offset="0.4734" stop-color="#ff9300"/><stop offset="0.4793" stop-color="#ffff05"/><stop offset="0.4852" stop-color="#ffff82"/><stop offset="0.4911" stop-color="#ffffb9"/><stop offset="0.4970" stop-color="#ffffc1"/><stop offset="0.5030" stop-color="#ffffb1"/><stop offset="0.5089" stop-color="#ffff7a"/><stop offset="0.5148" stop-color="#ffff15"/><stop offset="0.5207" stop-color="#ffbb00"/><stop offset="0.5266" stop-color="#ff7900"/><stop offset="0.5325" stop-color="#ff6300"/><stop offset="0.5385" stop-color="#ff8700"/><stop offset="0.5444" stop-color="#ffd300"/><stop offset="0.5503" stop-color="#ffff33"/><stop offset="0.5562" stop-color="#ffff7e"/><stop offset="0.5621" stop-color="#ffff98"/><stop offset="0.5680" stop-color="#ffff98"/><stop offset="0.5740" stop-color="#ffff82"/><stop offset="0.5799" stop-color="#ffff47"/><stop offset="0.5858" stop-color="#fff200"/><stop offset="0.5917" stop-color="#ffb600"/><stop offset="0.5976" stop-color="#ff9600"/><stop offset="0.6036" stop-color="#ffa000"/><stop offset="0.6095" stop-color="#ffca00"/><stop offset="0.6154" stop-color="#ffff01"/><stop offset="0.6213" stop-color="#ffff41"/><stop offset="0.6272" stop-color="#ffff62"/><stop offset="0.6331" stop-color="#ffff6a"/><stop offset="0.6391" stop-color="#ffff65"/><stop offset="0.6450" stop-color="#ffff4f"/><stop offset="0.6509" stop-color="#ffff23"/><stop offset="0.6568" stop-color="#fff200"/><stop offset="0.6627" stop-color="#ffd700"/><stop offset="0.6686" stop-color="#ffd100"/><stop offset="0.6746" stop-color="#ffe100"/><stop offset="0.6805" stop-color="#fffd00"/><stop offset="0.6864" stop-color="#ffff23"/><stop offset="0.6923" stop-color="#ffff39"/><stop offset="0.6982" stop-color="#ffff40"/><stop offset="0.7041" stop-color="#ffff3e"/><stop offset="0.7101" stop-color="#ffff33"/><stop offset="0.7160" stop-color="#ffff19"/><stop offset="0.7219" stop-color="#fff700"/><stop offset="0.7278" stop-color="#ffe100"/><stop offset="0.7337" stop-color="#ffd900"/><stop offset="0.7396" stop-color="#ffe100"/><stop offset="0.7456" stop-color="#fff200"/><stop offset="0.7515" stop-color="#ffff08"/><stop offset="0.7574" stop-color="#ffff1a"/><stop offset="0.7633" stop-color="#ffff21"/><stop offset="0.7692" stop-color="#ffff21"/><stop offset="0.7751" stop-color="#ffff17"/><stop offset="0.7811" stop-color="#fffd00"/><stop offset="0.7870" stop-color="#ffe200"/><stop offset="0.7929" stop-color="#ffc700"/><stop offset="0.7988" stop-color="#ffb900"/><stop offset="0.8047" stop-color="#ffb800"/><stop offset="0.8107" stop-color="#ffbd00"/><stop offset="0.8166" stop-color="#ffc400"/><stop offset="0.8225" stop-color="#ffc800"/><stop offset="0.8284" stop-color="#ffca00"/><stop offset="0.8343" stop-color="#ffca00"/><stop offset="0.8402" stop-color="#ffc500"/><stop offset="0.8462" stop-color="#ffb500"/><stop offset="0.8521" stop-color="#ff9800"/><stop offset="0.8580" stop-color="#ff7700"/><stop offset="0.8639" stop-color="#ff6200"/><stop offset="0.8698" stop-color="#ff5c00"/><stop offset="0.8757" stop-color="#ff5e00"/><stop offset="0.8817" stop-color="#ff6000"/><stop offset="0.8876" stop-color="#ff6200"/><stop offset="0.8935" stop-color="#ff6300"/><stop offset="0.8994" stop-color="#ff6400"/><stop offset="0.9053" stop-color="#ff6100"/><stop offset="0.9112" stop-color="#ff5500"/><stop offset="0.9172" stop-color="#ff3d00"/><stop offset="0.9231" stop-color="#ff1f00"/><stop offset="0.9290" stop-color="#ff0800"/><stop offset="0.9349" stop-color="#ff0100"/><stop offset="0.9408" stop-color="#ff0700"/><stop offset="0.9467" stop-color="#ff1100"/><stop offset="0.9527" stop-color="#ff1a00"/><stop offset="0.9586" stop-color="#ff2000"/><stop offset="0.9645" stop-color="#ff2200"/><stop offset="0.9704" stop-color="#ff2100"/><stop offset="0.9763" stop-color="#ff1c00"/><stop offset="0.9822" stop-color="#ff1100"/><stop offset="0.9882" stop-color="#ff0200"/><stop offset="0.9941" stop-color="#f30000"/><stop offset="1.0000" stop-color="#ee0000"/>
</radialGradient>
<radialGradient id="g8" gradientUnits="userSpaceOnUse" cx="463.50" cy="490.50" r="80.48">
<stop offset="0.0000" stop-color="#ffffdd"/><stop offset="0.0059" stop-color="#ffffa9"/><stop offset="0.0118" stop-color="#ffff18"/><stop offset="0.0178" stop-color="#ff8800"/><stop offset="0.0237" stop-color="#fa0000"/><stop offset="0.0296" stop-color="#870000"/><stop offset="0.0355" stop-color="#480000"/><stop offset="0.0414" stop-color="#370000"/><stop offset="0.0473" stop-color="#3f0000"/><stop offset="0.0533" stop-color="#470000"/><stop offset="0.0592" stop-color="#460000"/><stop offset="0.0651" stop-color="#3e0000"/><stop offset="0.0710" stop-color="#340000"/><stop offset="0.0769" stop-color="#2d0000"/><stop offset="0.0828" stop-color="#2f0000"/><stop offset="0.0888" stop-color="#3d0000"/><stop offset="0.0947" stop-color="#560000"/><stop offset="0.1006" stop-color="#6f0000"/><stop offset="0.1065" stop-color="#7f0000"/><stop offset="0.1124" stop-color="#7d0000"/><stop offset="0.1183" stop-color="#650000"/><stop offset="0.1243" stop-color="#410000"/><stop offset="0.1302" stop-color="#210000"/><stop offset="0.1361" stop-color="#190000"/><stop offset="0.1420" stop-color="#300000"/><stop offset="0.1479" stop-color="#5f0000"/><stop offset="0.1538" stop-color="#910000"/><stop offset="0.1598" stop-color="#ac0000"/><stop offset="0.1657" stop-color="#a20000"/><stop offset="0.1716" stop-color="#770000"/><stop offset="0.1775" stop-color="#3f0000"/><stop offset="0.1834" stop-color="#170000"/><stop offset="0.1893" stop-color="#160000"/><stop offset="0.1953" stop-color="#400000"/><stop offset="0.2012" stop-color="#840000"/><stop offset="0.2071" stop-color="#c00000"/><stop offset="0.2130" stop-color="#d80000"/><stop offset="0.2189" stop-color="#c00000"/><stop offset="0.2249" stop-color="#870000"/><stop offset="0.2308" stop-color="#480000"/><stop offset="0.2367" stop-color="#250000"/><stop offset="0.2426" stop-color="#320000"/><stop offset="0.2485" stop-color="#6d0000"/><stop offset="0.2544" stop-color="#ba0000"/><stop offset="0.2604" stop-color="#f40000"/><stop offset="0.2663" stop-color="#ff0000"/><stop offset="0.2722" stop-color="#d90000"/><stop offset="0.2781" stop-color="#960000"/><stop offset="0.2840" stop-color="#590000"/><stop offset="0.2899" stop-color="#410000"/><stop offset="0.2959" stop-color="#5d0000"/><stop offset="0.3018" stop-color="#a20000"/><stop offset="0.3077" stop-color="#ef0000"/><stop offset="0.3136" stop-color="#ff1f00"/><stop offset="0.3195" stop-color="#ff1a00"/><stop offset="0.3254" stop-color="#e60000"/><stop offset="0.3314" stop-color="#9f0000"/><stop offset="0.3373" stop-color="#690000"/><stop offset="0.3432" stop-color="#5f0000"/><stop offset="0.3491" stop-color="#8a0000"/><stop offset="0.3550" stop-color="#d50000"/><stop offset="0.3609" stop-color="#ff1d00"/><stop offset="0.3669" stop-color="#ff3d00"/><stop offset="0.3728" stop-color="#ff2900"/><stop offset="0.3787" stop-color="#ed0000"/><stop offset="0.3846" stop-color="#a90000"/><stop offset="0.3905" stop-color="#7f0000"/><stop offset="0.3964" stop-color="#840000"/><stop offset="0.4024" stop-color="#ba0000"/><stop offset="0.4083" stop-color="#ff0600"/><stop offset="0.4142" stop-color="#ff4300"/><stop offset="0.4201" stop-color="#ff5400"/><stop offset="0.4260" stop-color="#ff3600"/><stop offset="0.4320" stop-color="#fa0000"/><stop offset="0.4379" stop-color="#c10000"/><stop offset="0.4438" stop-color="#a60000"/><stop offset="0.4497" stop-color="#b80000"/><stop offset="0.4556" stop-color="#ef0000"/><stop offset="0.4615" stop-color="#ff3100"/><stop offset="0.4675" stop-color="#ff5c00"/><stop offset="0.4734" stop-color="#ff5f00"/><stop offset="0.4793" stop-color="#ff3f00"/><stop offset="0.4852" stop-color="#ff0e00"/><stop offset="0.4911" stop-color="#e60000"/><stop offset="0.4970" stop-color="#db0000"/><stop offset="0.5030" stop-color="#f30000"/><stop offset="0.5089" stop-color="#ff2400"/><stop offset="0.5148" stop-color="#ff5500"/><stop offset="0.5207" stop-color="#ff6e00"/><stop offset="0.5266" stop-color="#ff6800"/><stop offset="0.5325" stop-color="#ff4a00"/><stop offset="0.5385" stop-color="#ff2500"/><stop offset="0.5444" stop-color="#ff0c00"/><stop offset="0.5503" stop-color="#ff0b00"/><stop offset="0.5562" stop-color="#ff2200"/><stop offset="0.5621" stop-color="#ff4600"/><stop offset="0.5680" stop-color="#ff6500"/><stop offset="0.5740" stop-color="#ff7000"/><stop offset="0.5799" stop-color="#ff6700"/><stop offset="0.5858" stop-color="#ff5200"/><stop offset="0.5917" stop-color="#ff3c00"/><stop offset="0.5976" stop-color="#ff3000"/><stop offset="0.6036" stop-color="#ff3400"/><stop offset="0.6095" stop-color="#ff4600"/><stop offset="0.6154" stop-color="#ff5c00"/><stop offset="0.6213" stop-color="#ff6b00"/><stop offset="0.6272" stop-color="#ff6f00"/><stop offset="0.6331" stop-color="#ff6600"/><stop offset="0.6391" stop-color="#ff5700"/><stop offset="0.6450" stop-color="#ff4a00"/><stop offset="0.6509" stop-color="#ff4600"/><stop offset="0.6568" stop-color="#ff4b00"/><stop offset="0.6627" stop-color="#ff5700"/><stop offset="0.6686" stop-color="#ff6400"/><stop offset="0.6746" stop-color="#ff6b00"/><stop offset="0.6805" stop-color="#ff6a00"/><stop offset="0.6864" stop-color="#ff6100"/><stop offset="0.6923" stop-color="#ff5700"/><stop offset="0.6982" stop-color="#ff4f00"/><stop offset="0.7041" stop-color="#ff4d00"/><stop offset="0.7101" stop-color="#ff5200"/><stop offset="0.7160" stop-color="#ff5b00"/><stop offset="0.7219" stop-color="#ff6200"/><stop offset="0.7278" stop-color="#ff6500"/><stop offset="0.7337" stop-color="#ff6000"/><stop offset="0.7396" stop-color="#ff5500"/><stop offset="0.7456" stop-color="#ff4900"/><stop offset="0.7515" stop-color="#ff4200"/><stop offset="0.7574" stop-color="#ff4200"/><stop offset="0.7633" stop-color="#ff4a00"/><stop offset="0.7692" stop-color="#ff5400"/><stop offset="0.7751" stop-color="#ff5c00"/><stop offset="0.7811" stop-color="#ff5c00"/><stop offset="0.7870" stop-color="#ff5400"/><stop offset="0.7929" stop-color="#ff4700"/><stop offset="0.7988" stop-color="#ff3b00"/><stop offset="0.8047" stop-color="#ff3500"/><stop offset="0.8107" stop-color="#ff3900"/><stop offset="0.8166" stop-color="#ff4300"/><stop offset="0.8225" stop-color="#ff4e00"/><stop offset="0.8284" stop-color="#ff5500"/><stop offset="0.8343" stop-color="#ff5300"/><stop offset="0.8402" stop-color="#ff4800"/><stop offset="0.8462" stop-color="#ff3900"/><stop offset="0.8521" stop-color="#ff2d00"/><stop offset="0.8580" stop-color="#ff2a00"/><stop offset="0.8639" stop-color="#ff3000"/><stop offset="0.8698" stop-color="#ff3d00"/><stop offset="0.8757" stop-color="#ff4900"/><stop offset="0.8817" stop-color="#ff4e00"/><stop offset="0.8876" stop-color="#ff4900"/><stop offset="0.8935" stop-color="#ff3c00"/><stop offset="0.8994" stop-color="#ff2d00"/><stop offset="0.9053" stop-color="#ff2300"/><stop offset="0.9112" stop-color="#ff2300"/><stop offset="0.9172" stop-color="#ff2c00"/><stop offset="0.9231" stop-color="#ff3a00"/><stop offset="0.9290" stop-color="#ff4400"/><stop offset="0.9349" stop-color="#ff4600"/><stop offset="0.9408" stop-color="#ff3f00"/><stop offset="0.9467" stop-color="#ff3000"/><stop offset="0.9527" stop-color="#ff2200"/><stop offset="0.9586" stop-color="#ff1b00"/><stop offset="0.9645" stop-color="#ff1e00"/><stop offset="0.9704" stop-color="#ff2900"/><stop offset="0.9763" stop-color="#ff3600"/><stop offset="0.9822" stop-color="#ff3f00"/><stop offset="0.9882" stop-color="#ff3e00"/><stop offset="0.9941" stop-color="#ff3300"/><stop offset="1.0000" stop-color="#ff2400"/>
</radialGradient>
</defs>
<rect x="8" y="223" width="111.50" height="111.00" fill="url(#g1)"/>
<rect x="141.25" y="225.5" width="110.75" height="110.25" fill="url(#g2)"/>
<rect x="273.75" y="225.5" width="110.75" height="110.25" fill="url(#g3)"/>
<rect x="408.75" y="227" width="109.45" height="109.60" fill="url(#g4)"/>
<rect x="10" y="436.25" width="110.75" height="110.50" fill="url(#g5)"/>
<rect x="142.5" y="437" width="111.25" height="110.50" fill="url(#g6)"/>
<rect x="271.75" y="437.5" width="111.50" height="110.00" fill="url(#g7)"/>
<rect x="407.5" y="434.5" width="110.50" height="110.50" fill="url(#g8)"/>
<g id="plot1">
<rect x="19.5" y="341.25" width="90.5" height="74.25" fill="#fff" stroke="#a6a6a6" stroke-width="1.1"/>
<path d="M29.50 415.5v-2 M47.44 415.5v-2 M65.38 415.5v-2 M83.31 415.5v-2 M101.25 415.5v-2 M38.47 415.5v-1.2 M56.41 415.5v-1.2 M74.34 415.5v-1.2 M92.28 415.5v-1.2 M19.5 408.75h2 M19.5 396.50h2 M19.5 384.25h2 M19.5 372.00h2 M19.5 359.75h2 M19.5 347.50h2" stroke="#999" stroke-width="0.7" fill="none"/>
<text class="b s" x="18.20" y="412.05" font-size="7.2" text-anchor="end">0.0</text>
<text class="b s" x="18.20" y="399.80" font-size="7.2" text-anchor="end">0.2</text>
<text class="b s" x="18.20" y="387.55" font-size="7.2" text-anchor="end">0.4</text>
<text class="b s" x="18.20" y="375.30" font-size="7.2" text-anchor="end">0.6</text>
<text class="b s" x="18.20" y="363.05" font-size="7.2" text-anchor="end">0.8</text>
<text class="b s" x="18.20" y="350.80" font-size="7.2" text-anchor="end">1.0</text>
<text class="b s" x="29.50" y="422.90" font-size="7.4" text-anchor="middle">-2</text>
<text class="b s" x="47.44" y="422.90" font-size="7.4" text-anchor="middle">-1</text>
<text class="b s" x="65.38" y="422.90" font-size="7.4" text-anchor="middle">0</text>
<text class="b s" x="83.31" y="422.90" font-size="7.4" text-anchor="middle">1</text>
<text class="b s" x="101.25" y="422.90" font-size="7.4" text-anchor="middle">2</text>
<text class="b s" x="65.38" y="431.90" font-size="7.4" text-anchor="middle">x(mm)</text>
<text class="b s" transform="translate(8.60 402.53) rotate(-90)" x="0" y="0" font-size="7.7" textLength="53.6" lengthAdjust="spacingAndGlyphs">Relative Intensity</text>
<path d="M29.50 407.09 L29.60 407.06 L29.70 407.03 L29.80 407.00 L29.90 406.97 L30.00 406.94 L30.10 406.91 L30.20 406.89 L30.30 406.86 L30.40 406.84 L30.50 406.81 L30.60 406.79 L30.70 406.77 L30.80 406.75 L30.90 406.73 L30.99 406.72 L31.09 406.70 L31.19 406.69 L31.29 406.68 L31.39 406.68 L31.49 406.67 L31.59 406.67 L31.69 406.67 L31.79 406.67 L31.89 406.67 L31.99 406.68 L32.09 406.69 L32.19 406.70 L32.29 406.72 L32.39 406.73 L32.49 406.75 L32.59 406.77 L32.69 406.79 L32.79 406.82 L32.89 406.84 L32.99 406.87 L33.09 406.90 L33.19 406.93 L33.29 406.96 L33.39 406.99 L33.49 407.02 L33.59 407.05 L33.69 407.09 L33.79 407.12 L33.88 407.15 L33.98 407.18 L34.08 407.22 L34.18 407.25 L34.28 407.28 L34.38 407.30 L34.48 407.33 L34.58 407.36 L34.68 407.38 L34.78 407.41 L34.88 407.43 L34.98 407.45 L35.08 407.47 L35.18 407.48 L35.28 407.49 L35.38 407.51 L35.48 407.51 L35.58 407.52 L35.68 407.52 L35.78 407.52 L35.88 407.52 L35.98 407.52 L36.08 407.51 L36.18 407.50 L36.28 407.48 L36.38 407.47 L36.48 407.45 L36.58 407.42 L36.67 407.39 L36.77 407.37 L36.87 407.33 L36.97 407.30 L37.07 407.26 L37.17 407.22 L37.27 407.18 L37.37 407.13 L37.47 407.08 L37.57 407.04 L37.67 406.98 L37.77 406.93 L37.87 406.88 L37.97 406.82 L38.07 406.77 L38.17 406.71 L38.27 406.65 L38.37 406.59 L38.47 406.53 L38.57 406.47 L38.67 406.41 L38.77 406.35 L38.87 406.29 L38.97 406.23 L39.07 406.17 L39.17 406.11 L39.27 406.06 L39.37 406.00 L39.47 405.95 L39.56 405.89 L39.66 405.84 L39.76 405.79 L39.86 405.74 L39.96 405.70 L40.06 405.65 L40.16 405.61 L40.26 405.57 L40.36 405.53 L40.46 405.50 L40.56 405.47 L40.66 405.44 L40.76 405.41 L40.86 405.39 L40.96 405.37 L41.06 405.35 L41.16 405.34 L41.26 405.33 L41.36 405.32 L41.46 405.32 L41.56 405.32 L41.66 405.32 L41.76 405.32 L41.86 405.32 L41.96 405.33 L42.06 405.33 L42.16 405.33 L42.26 405.34 L42.36 405.34 L42.45 405.35 L42.55 405.36 L42.65 405.36 L42.75 405.37 L42.85 405.38 L42.95 405.39 L43.05 405.39 L43.15 405.40 L43.25 405.41 L43.35 405.42 L43.45 405.43 L43.55 405.44 L43.65 405.44 L43.75 405.45 L43.85 405.46 L43.95 405.46 L44.05 405.47 L44.15 405.48 L44.25 405.48 L44.35 405.49 L44.45 405.49 L44.55 405.50 L44.65 405.50 L44.75 405.50 L44.85 405.50 L44.95 405.50 L45.05 405.50 L45.15 405.50 L45.25 405.49 L45.34 405.47 L45.44 405.45 L45.54 405.42 L45.64 405.39 L45.74 405.35 L45.84 405.30 L45.94 405.25 L46.04 405.20 L46.14 405.14 L46.24 405.07 L46.34 405.00 L46.44 404.93 L46.54 404.85 L46.64 404.77 L46.74 404.68 L46.84 404.59 L46.94 404.49 L47.04 404.40 L47.14 404.30 L47.24 404.19 L47.34 404.09 L47.44 403.98 L47.54 403.87 L47.64 403.76 L47.74 403.65 L47.84 403.54 L47.94 403.43 L48.04 403.31 L48.14 403.20 L48.23 403.09 L48.33 402.97 L48.43 402.86 L48.53 402.75 L48.63 402.64 L48.73 402.54 L48.83 402.43 L48.93 402.33 L49.03 402.23 L49.13 402.14 L49.23 402.04 L49.33 401.95 L49.43 401.87 L49.53 401.79 L49.63 401.71 L49.73 401.63 L49.83 401.57 L49.93 401.50 L50.03 401.44 L50.13 401.39 L50.23 401.34 L50.33 401.30 L50.43 401.26 L50.53 401.23 L50.63 401.20 L50.73 401.18 L50.83 401.17 L50.93 401.16 L51.02 401.15 L51.12 401.16 L51.22 401.18 L51.32 401.21 L51.42 401.25 L51.52 401.30 L51.62 401.36 L51.72 401.43 L51.82 401.51 L51.92 401.60 L52.02 401.71 L52.12 401.82 L52.22 401.94 L52.32 402.06 L52.42 402.20 L52.52 402.34 L52.62 402.49 L52.72 402.64 L52.82 402.80 L52.92 402.96 L53.02 403.13 L53.12 403.30 L53.22 403.47 L53.32 403.64 L53.42 403.81 L53.52 403.99 L53.62 404.16 L53.72 404.33 L53.82 404.50 L53.91 404.67 L54.01 404.83 L54.11 404.98 L54.21 405.14 L54.31 405.28 L54.41 405.42 L54.51 405.55 L54.61 405.68 L54.71 405.80 L54.81 405.90 L54.91 406.00 L55.01 406.09 L55.11 406.17 L55.21 406.24 L55.31 406.30 L55.41 406.34 L55.51 406.38 L55.61 406.41 L55.71 406.42 L55.81 406.42 L55.91 406.40 L56.01 406.34 L56.11 406.25 L56.21 406.13 L56.31 405.98 L56.41 405.80 L56.51 405.59 L56.61 405.35 L56.71 405.08 L56.80 404.77 L56.90 404.44 L57.00 404.08 L57.10 403.69 L57.20 403.27 L57.30 402.83 L57.40 402.35 L57.50 401.85 L57.60 401.33 L57.70 400.77 L57.80 400.19 L57.90 399.59 L58.00 398.96 L58.10 398.31 L58.20 397.64 L58.30 396.94 L58.40 396.23 L58.50 395.49 L58.60 394.73 L58.70 393.96 L58.80 393.16 L58.90 392.35 L59.00 391.53 L59.10 390.68 L59.20 389.82 L59.30 388.95 L59.40 388.07 L59.50 387.17 L59.60 386.27 L59.69 385.35 L59.79 384.42 L59.89 383.49 L59.99 382.55 L60.09 381.60 L60.19 380.65 L60.29 379.70 L60.39 378.74 L60.49 377.78 L60.59 376.82 L60.69 375.86 L60.79 374.90 L60.89 373.94 L60.99 372.98 L61.09 372.03 L61.19 371.09 L61.29 370.15 L61.39 369.22 L61.49 368.30 L61.59 367.38 L61.69 366.48 L61.79 365.59 L61.89 364.71 L61.99 363.84 L62.09 362.99 L62.19 362.15 L62.29 361.32 L62.39 360.52 L62.49 359.73 L62.58 358.96 L62.68 358.21 L62.78 357.48 L62.88 356.77 L62.98 356.08 L63.08 355.41 L63.18 354.77 L63.28 354.15 L63.38 353.55 L63.48 352.98 L63.58 352.44 L63.68 351.92 L63.78 351.42 L63.88 350.96 L63.98 350.52 L64.08 350.11 L64.18 349.73 L64.28 349.38 L64.38 349.05 L64.48 348.76 L64.58 348.50 L64.68 348.26 L64.78 348.06 L64.88 347.89 L64.98 347.75 L65.08 347.64 L65.18 347.56 L65.28 347.52 L65.38 347.50 L65.47 347.52 L65.57 347.56 L65.67 347.64 L65.77 347.75 L65.87 347.89 L65.97 348.06 L66.07 348.26 L66.17 348.50 L66.27 348.76 L66.37 349.05 L66.47 349.38 L66.57 349.73 L66.67 350.11 L66.77 350.52 L66.87 350.96 L66.97 351.42 L67.07 351.92 L67.17 352.44 L67.27 352.98 L67.37 353.55 L67.47 354.15 L67.57 354.77 L67.67 355.41 L67.77 356.08 L67.87 356.77 L67.97 357.48 L68.07 358.21 L68.17 358.96 L68.26 359.73 L68.36 360.52 L68.46 361.32 L68.56 362.15 L68.66 362.99 L68.76 363.84 L68.86 364.71 L68.96 365.59 L69.06 366.48 L69.16 367.38 L69.26 368.30 L69.36 369.22 L69.46 370.15 L69.56 371.09 L69.66 372.03 L69.76 372.98 L69.86 373.94 L69.96 374.90 L70.06 375.86 L70.16 376.82 L70.26 377.78 L70.36 378.74 L70.46 379.70 L70.56 380.65 L70.66 381.60 L70.76 382.55 L70.86 383.49 L70.96 384.42 L71.06 385.35 L71.15 386.27 L71.25 387.17 L71.35 388.07 L71.45 388.95 L71.55 389.82 L71.65 390.68 L71.75 391.53 L71.85 392.35 L71.95 393.16 L72.05 393.96 L72.15 394.73 L72.25 395.49 L72.35 396.23 L72.45 396.94 L72.55 397.64 L72.65 398.31 L72.75 398.96 L72.85 399.59 L72.95 400.19 L73.05 400.77 L73.15 401.33 L73.25 401.85 L73.35 402.35 L73.45 402.83 L73.55 403.27 L73.65 403.69 L73.75 404.08 L73.85 404.44 L73.95 404.77 L74.04 405.08 L74.14 405.35 L74.24 405.59 L74.34 405.80 L74.44 405.98 L74.54 406.13 L74.64 406.25 L74.74 406.34 L74.84 406.40 L74.94 406.42 L75.04 406.42 L75.14 406.41 L75.24 406.38 L75.34 406.34 L75.44 406.30 L75.54 406.24 L75.64 406.17 L75.74 406.09 L75.84 406.00 L75.94 405.90 L76.04 405.80 L76.14 405.68 L76.24 405.55 L76.34 405.42 L76.44 405.28 L76.54 405.14 L76.64 404.98 L76.74 404.83 L76.84 404.67 L76.93 404.50 L77.03 404.33 L77.13 404.16 L77.23 403.99 L77.33 403.81 L77.43 403.64 L77.53 403.47 L77.63 403.30 L77.73 403.13 L77.83 402.96 L77.93 402.80 L78.03 402.64 L78.13 402.49 L78.23 402.34 L78.33 402.20 L78.43 402.06 L78.53 401.94 L78.63 401.82 L78.73 401.71 L78.83 401.60 L78.93 401.51 L79.03 401.43 L79.13 401.36 L79.23 401.30 L79.33 401.25 L79.43 401.21 L79.53 401.18 L79.63 401.16 L79.73 401.15 L79.82 401.16 L79.92 401.17 L80.02 401.18 L80.12 401.20 L80.22 401.23 L80.32 401.26 L80.42 401.30 L80.52 401.34 L80.62 401.39 L80.72 401.44 L80.82 401.50 L80.92 401.57 L81.02 401.63 L81.12 401.71 L81.22 401.79 L81.32 401.87 L81.42 401.95 L81.52 402.04 L81.62 402.14 L81.72 402.23 L81.82 402.33 L81.92 402.43 L82.02 402.54 L82.12 402.64 L82.22 402.75 L82.32 402.86 L82.42 402.97 L82.52 403.09 L82.61 403.20 L82.71 403.31 L82.81 403.43 L82.91 403.54 L83.01 403.65 L83.11 403.76 L83.21 403.87 L83.31 403.98 L83.41 404.09 L83.51 404.19 L83.61 404.30 L83.71 404.40 L83.81 404.49 L83.91 404.59 L84.01 404.68 L84.11 404.77 L84.21 404.85 L84.31 404.93 L84.41 405.00 L84.51 405.07 L84.61 405.14 L84.71 405.20 L84.81 405.25 L84.91 405.30 L85.01 405.35 L85.11 405.39 L85.21 405.42 L85.31 405.45 L85.41 405.47 L85.50 405.49 L85.60 405.50 L85.70 405.50 L85.80 405.50 L85.90 405.50 L86.00 405.50 L86.10 405.50 L86.20 405.50 L86.30 405.49 L86.40 405.49 L86.50 405.48 L86.60 405.48 L86.70 405.47 L86.80 405.46 L86.90 405.46 L87.00 405.45 L87.10 405.44 L87.20 405.44 L87.30 405.43 L87.40 405.42 L87.50 405.41 L87.60 405.40 L87.70 405.39 L87.80 405.39 L87.90 405.38 L88.00 405.37 L88.10 405.36 L88.20 405.36 L88.30 405.35 L88.39 405.34 L88.49 405.34 L88.59 405.33 L88.69 405.33 L88.79 405.33 L88.89 405.32 L88.99 405.32 L89.09 405.32 L89.19 405.32 L89.29 405.32 L89.39 405.32 L89.49 405.33 L89.59 405.34 L89.69 405.35 L89.79 405.37 L89.89 405.39 L89.99 405.41 L90.09 405.44 L90.19 405.47 L90.29 405.50 L90.39 405.53 L90.49 405.57 L90.59 405.61 L90.69 405.65 L90.79 405.70 L90.89 405.74 L90.99 405.79 L91.09 405.84 L91.19 405.89 L91.28 405.95 L91.38 406.00 L91.48 406.06 L91.58 406.11 L91.68 406.17 L91.78 406.23 L91.88 406.29 L91.98 406.35 L92.08 406.41 L92.18 406.47 L92.28 406.53 L92.38 406.59 L92.48 406.65 L92.58 406.71 L92.68 406.77 L92.78 406.82 L92.88 406.88 L92.98 406.93 L93.08 406.98 L93.18 407.04 L93.28 407.08 L93.38 407.13 L93.48 407.18 L93.58 407.22 L93.68 407.26 L93.78 407.30 L93.88 407.33 L93.98 407.37 L94.08 407.39 L94.17 407.42 L94.27 407.45 L94.37 407.47 L94.47 407.48 L94.57 407.50 L94.67 407.51 L94.77 407.52 L94.87 407.52 L94.97 407.52 L95.07 407.52 L95.17 407.52 L95.27 407.51 L95.37 407.51 L95.47 407.49 L95.57 407.48 L95.67 407.47 L95.77 407.45 L95.87 407.43 L95.97 407.41 L96.07 407.38 L96.17 407.36 L96.27 407.33 L96.37 407.30 L96.47 407.28 L96.57 407.25 L96.67 407.22 L96.77 407.18 L96.87 407.15 L96.96 407.12 L97.06 407.09 L97.16 407.05 L97.26 407.02 L97.36 406.99 L97.46 406.96 L97.56 406.93 L97.66 406.90 L97.76 406.87 L97.86 406.84 L97.96 406.82 L98.06 406.79 L98.16 406.77 L98.26 406.75 L98.36 406.73 L98.46 406.72 L98.56 406.70 L98.66 406.69 L98.76 406.68 L98.86 406.67 L98.96 406.67 L99.06 406.67 L99.16 406.67 L99.26 406.67 L99.36 406.68 L99.46 406.68 L99.56 406.69 L99.66 406.70 L99.76 406.72 L99.85 406.73 L99.95 406.75 L100.05 406.77 L100.15 406.79 L100.25 406.81 L100.35 406.84 L100.45 406.86 L100.55 406.89 L100.65 406.91 L100.75 406.94 L100.85 406.97 L100.95 407.00 L101.05 407.03 L101.15 407.06 L101.25 407.09" stroke="#111" stroke-width="1.18" fill="none" stroke-linejoin="round"/>
<text class="b s" x="24.25" y="353.30" font-size="8.2">0.923</text>
</g>
<g id="plot2">
<rect x="153" y="342.5" width="90.75" height="73.75" fill="#fff" stroke="#a6a6a6" stroke-width="1.1"/>
<path d="M162.50 416.25v-2 M180.50 416.25v-2 M198.50 416.25v-2 M216.50 416.25v-2 M234.50 416.25v-2 M171.50 416.25v-1.2 M189.50 416.25v-1.2 M207.50 416.25v-1.2 M225.50 416.25v-1.2 M153 409.50h2 M153 397.35h2 M153 385.20h2 M153 373.05h2 M153 360.90h2 M153 348.75h2" stroke="#999" stroke-width="0.7" fill="none"/>
<text class="b s" x="151.70" y="412.80" font-size="7.2" text-anchor="end">0.0</text>
<text class="b s" x="151.70" y="400.65" font-size="7.2" text-anchor="end">0.2</text>
<text class="b s" x="151.70" y="388.50" font-size="7.2" text-anchor="end">0.4</text>
<text class="b s" x="151.70" y="376.35" font-size="7.2" text-anchor="end">0.6</text>
<text class="b s" x="151.70" y="364.20" font-size="7.2" text-anchor="end">0.8</text>
<text class="b s" x="151.70" y="352.05" font-size="7.2" text-anchor="end">1.0</text>
<text class="b s" x="162.50" y="424.65" font-size="7.4" text-anchor="middle">-2</text>
<text class="b s" x="180.50" y="424.65" font-size="7.4" text-anchor="middle">-1</text>
<text class="b s" x="198.50" y="424.65" font-size="7.4" text-anchor="middle">0</text>
<text class="b s" x="216.50" y="424.65" font-size="7.4" text-anchor="middle">1</text>
<text class="b s" x="234.50" y="424.65" font-size="7.4" text-anchor="middle">2</text>
<text class="b s" x="198.50" y="430.90" font-size="7.4" text-anchor="middle">x(mm)</text>
<text class="b s" transform="translate(140.10 403.32) rotate(-90)" x="0" y="0" font-size="7.7" textLength="53.6" lengthAdjust="spacingAndGlyphs">Relative Intensity</text>
<path d="M162.50 408.73 L162.60 408.71 L162.70 408.68 L162.80 408.64 L162.90 408.60 L163.00 408.55 L163.10 408.50 L163.20 408.44 L163.30 408.39 L163.40 408.32 L163.50 408.26 L163.60 408.19 L163.70 408.12 L163.80 408.05 L163.90 407.98 L164.00 407.90 L164.10 407.83 L164.20 407.76 L164.30 407.69 L164.40 407.62 L164.50 407.55 L164.60 407.49 L164.70 407.43 L164.80 407.37 L164.90 407.32 L165.00 407.27 L165.10 407.22 L165.20 407.18 L165.30 407.15 L165.40 407.12 L165.50 407.10 L165.60 407.08 L165.70 407.07 L165.80 407.07 L165.90 407.07 L166.00 407.08 L166.10 407.09 L166.20 407.11 L166.30 407.13 L166.40 407.15 L166.50 407.19 L166.60 407.22 L166.70 407.26 L166.80 407.30 L166.90 407.35 L167.00 407.40 L167.10 407.45 L167.20 407.50 L167.30 407.56 L167.40 407.61 L167.50 407.67 L167.60 407.73 L167.70 407.79 L167.80 407.85 L167.90 407.91 L168.00 407.96 L168.10 408.02 L168.20 408.07 L168.30 408.13 L168.40 408.18 L168.50 408.22 L168.60 408.27 L168.70 408.31 L168.80 408.34 L168.90 408.37 L169.00 408.40 L169.10 408.42 L169.20 408.44 L169.30 408.46 L169.40 408.46 L169.50 408.47 L169.60 408.47 L169.70 408.46 L169.80 408.44 L169.90 408.42 L170.00 408.40 L170.10 408.37 L170.20 408.33 L170.30 408.29 L170.40 408.24 L170.50 408.19 L170.60 408.13 L170.70 408.07 L170.80 408.00 L170.90 407.93 L171.00 407.86 L171.10 407.78 L171.20 407.70 L171.30 407.62 L171.40 407.54 L171.50 407.46 L171.60 407.37 L171.70 407.28 L171.80 407.20 L171.90 407.11 L172.00 407.02 L172.10 406.94 L172.20 406.85 L172.30 406.77 L172.40 406.69 L172.50 406.61 L172.60 406.54 L172.70 406.47 L172.80 406.40 L172.90 406.34 L173.00 406.28 L173.10 406.22 L173.20 406.18 L173.30 406.13 L173.40 406.09 L173.50 406.06 L173.60 406.03 L173.70 406.01 L173.80 405.99 L173.90 405.98 L174.00 405.98 L174.10 405.98 L174.20 405.98 L174.30 406.00 L174.40 406.01 L174.50 406.03 L174.60 406.06 L174.70 406.08 L174.80 406.12 L174.90 406.15 L175.00 406.19 L175.10 406.23 L175.20 406.28 L175.30 406.33 L175.40 406.37 L175.50 406.42 L175.60 406.47 L175.70 406.52 L175.80 406.57 L175.90 406.62 L176.00 406.67 L176.10 406.72 L176.20 406.76 L176.30 406.80 L176.40 406.84 L176.50 406.88 L176.60 406.91 L176.70 406.93 L176.80 406.96 L176.90 406.98 L177.00 406.99 L177.10 407.00 L177.20 407.01 L177.30 407.01 L177.40 407.00 L177.50 406.99 L177.60 406.97 L177.70 406.94 L177.80 406.91 L177.90 406.87 L178.00 406.82 L178.10 406.77 L178.20 406.71 L178.30 406.65 L178.40 406.58 L178.50 406.51 L178.60 406.44 L178.70 406.36 L178.80 406.28 L178.90 406.20 L179.00 406.12 L179.10 406.03 L179.20 405.95 L179.30 405.87 L179.40 405.79 L179.50 405.71 L179.60 405.63 L179.70 405.56 L179.80 405.49 L179.90 405.42 L180.00 405.36 L180.10 405.30 L180.20 405.25 L180.30 405.20 L180.40 405.16 L180.50 405.13 L180.60 405.10 L180.70 405.08 L180.80 405.07 L180.90 405.07 L181.00 405.07 L181.10 405.07 L181.20 405.08 L181.30 405.09 L181.40 405.10 L181.50 405.12 L181.60 405.13 L181.70 405.16 L181.80 405.18 L181.90 405.20 L182.00 405.23 L182.10 405.26 L182.20 405.29 L182.30 405.32 L182.40 405.35 L182.50 405.38 L182.60 405.41 L182.70 405.43 L182.80 405.46 L182.90 405.49 L183.00 405.51 L183.10 405.53 L183.20 405.55 L183.30 405.57 L183.40 405.58 L183.50 405.60 L183.60 405.60 L183.70 405.61 L183.80 405.61 L183.90 405.61 L184.00 405.59 L184.10 405.56 L184.20 405.52 L184.30 405.46 L184.40 405.40 L184.50 405.32 L184.60 405.23 L184.70 405.13 L184.80 405.02 L184.90 404.90 L185.00 404.78 L185.10 404.64 L185.20 404.50 L185.30 404.35 L185.40 404.19 L185.50 404.04 L185.60 403.87 L185.70 403.70 L185.80 403.54 L185.90 403.36 L186.00 403.19 L186.10 403.02 L186.20 402.86 L186.30 402.69 L186.40 402.53 L186.50 402.37 L186.60 402.21 L186.70 402.07 L186.80 401.93 L186.90 401.79 L187.00 401.67 L187.10 401.55 L187.20 401.45 L187.30 401.35 L187.40 401.26 L187.50 401.19 L187.60 401.13 L187.70 401.08 L187.80 401.04 L187.90 401.01 L188.00 401.00 L188.10 401.00 L188.20 401.02 L188.30 401.07 L188.40 401.14 L188.50 401.24 L188.60 401.36 L188.70 401.51 L188.80 401.68 L188.90 401.86 L189.00 402.07 L189.10 402.29 L189.20 402.53 L189.30 402.78 L189.40 403.05 L189.50 403.32 L189.60 403.60 L189.70 403.89 L189.80 404.18 L189.90 404.47 L190.00 404.76 L190.10 405.04 L190.20 405.32 L190.30 405.59 L190.40 405.85 L190.50 406.10 L190.60 406.34 L190.70 406.55 L190.80 406.75 L190.90 406.93 L191.00 407.09 L191.10 407.23 L191.20 407.35 L191.30 407.44 L191.40 407.50 L191.50 407.54 L191.60 407.56 L191.70 407.53 L191.80 407.44 L191.90 407.29 L192.00 407.08 L192.10 406.81 L192.20 406.49 L192.30 406.10 L192.40 405.65 L192.50 405.15 L192.60 404.59 L192.70 403.98 L192.80 403.31 L192.90 402.59 L193.00 401.82 L193.10 401.00 L193.20 400.13 L193.30 399.22 L193.40 398.27 L193.50 397.27 L193.60 396.23 L193.70 395.15 L193.80 394.04 L193.90 392.90 L194.00 391.73 L194.10 390.52 L194.20 389.30 L194.30 388.05 L194.40 386.77 L194.50 385.48 L194.60 384.18 L194.70 382.86 L194.80 381.54 L194.90 380.20 L195.00 378.86 L195.10 377.52 L195.20 376.18 L195.30 374.85 L195.40 373.52 L195.50 372.21 L195.60 370.90 L195.70 369.61 L195.80 368.34 L195.90 367.08 L196.00 365.85 L196.10 364.65 L196.20 363.47 L196.30 362.33 L196.40 361.22 L196.50 360.14 L196.60 359.10 L196.70 358.10 L196.80 357.14 L196.90 356.23 L197.00 355.36 L197.10 354.53 L197.20 353.76 L197.30 353.04 L197.40 352.37 L197.50 351.75 L197.60 351.19 L197.70 350.68 L197.80 350.23 L197.90 349.84 L198.00 349.51 L198.10 349.24 L198.20 349.02 L198.30 348.87 L198.40 348.78 L198.50 348.75 L198.60 348.78 L198.70 348.87 L198.80 349.02 L198.90 349.24 L199.00 349.51 L199.10 349.84 L199.20 350.23 L199.30 350.68 L199.40 351.19 L199.50 351.75 L199.60 352.37 L199.70 353.04 L199.80 353.76 L199.90 354.53 L200.00 355.36 L200.10 356.23 L200.20 357.14 L200.30 358.10 L200.40 359.10 L200.50 360.14 L200.60 361.22 L200.70 362.33 L200.80 363.47 L200.90 364.65 L201.00 365.85 L201.10 367.08 L201.20 368.34 L201.30 369.61 L201.40 370.90 L201.50 372.21 L201.60 373.52 L201.70 374.85 L201.80 376.18 L201.90 377.52 L202.00 378.86 L202.10 380.20 L202.20 381.54 L202.30 382.86 L202.40 384.18 L202.50 385.48 L202.60 386.77 L202.70 388.05 L202.80 389.30 L202.90 390.52 L203.00 391.73 L203.10 392.90 L203.20 394.04 L203.30 395.15 L203.40 396.23 L203.50 397.27 L203.60 398.27 L203.70 399.22 L203.80 400.13 L203.90 401.00 L204.00 401.82 L204.10 402.59 L204.20 403.31 L204.30 403.98 L204.40 404.59 L204.50 405.15 L204.60 405.65 L204.70 406.10 L204.80 406.49 L204.90 406.81 L205.00 407.08 L205.10 407.29 L205.20 407.44 L205.30 407.53 L205.40 407.56 L205.50 407.54 L205.60 407.50 L205.70 407.44 L205.80 407.35 L205.90 407.23 L206.00 407.09 L206.10 406.93 L206.20 406.75 L206.30 406.55 L206.40 406.34 L206.50 406.10 L206.60 405.85 L206.70 405.59 L206.80 405.32 L206.90 405.04 L207.00 404.76 L207.10 404.47 L207.20 404.18 L207.30 403.89 L207.40 403.60 L207.50 403.32 L207.60 403.05 L207.70 402.78 L207.80 402.53 L207.90 402.29 L208.00 402.07 L208.10 401.86 L208.20 401.68 L208.30 401.51 L208.40 401.36 L208.50 401.24 L208.60 401.14 L208.70 401.07 L208.80 401.02 L208.90 401.00 L209.00 401.00 L209.10 401.01 L209.20 401.04 L209.30 401.08 L209.40 401.13 L209.50 401.19 L209.60 401.26 L209.70 401.35 L209.80 401.45 L209.90 401.55 L210.00 401.67 L210.10 401.79 L210.20 401.93 L210.30 402.07 L210.40 402.21 L210.50 402.37 L210.60 402.53 L210.70 402.69 L210.80 402.86 L210.90 403.02 L211.00 403.19 L211.10 403.36 L211.20 403.54 L211.30 403.70 L211.40 403.87 L211.50 404.04 L211.60 404.19 L211.70 404.35 L211.80 404.50 L211.90 404.64 L212.00 404.78 L212.10 404.90 L212.20 405.02 L212.30 405.13 L212.40 405.23 L212.50 405.32 L212.60 405.40 L212.70 405.46 L212.80 405.52 L212.90 405.56 L213.00 405.59 L213.10 405.61 L213.20 405.61 L213.30 405.61 L213.40 405.60 L213.50 405.60 L213.60 405.58 L213.70 405.57 L213.80 405.55 L213.90 405.53 L214.00 405.51 L214.10 405.49 L214.20 405.46 L214.30 405.43 L214.40 405.41 L214.50 405.38 L214.60 405.35 L214.70 405.32 L214.80 405.29 L214.90 405.26 L215.00 405.23 L215.10 405.20 L215.20 405.18 L215.30 405.16 L215.40 405.13 L215.50 405.12 L215.60 405.10 L215.70 405.09 L215.80 405.08 L215.90 405.07 L216.00 405.07 L216.10 405.07 L216.20 405.07 L216.30 405.08 L216.40 405.10 L216.50 405.13 L216.60 405.16 L216.70 405.20 L216.80 405.25 L216.90 405.30 L217.00 405.36 L217.10 405.42 L217.20 405.49 L217.30 405.56 L217.40 405.63 L217.50 405.71 L217.60 405.79 L217.70 405.87 L217.80 405.95 L217.90 406.03 L218.00 406.12 L218.10 406.20 L218.20 406.28 L218.30 406.36 L218.40 406.44 L218.50 406.51 L218.60 406.58 L218.70 406.65 L218.80 406.71 L218.90 406.77 L219.00 406.82 L219.10 406.87 L219.20 406.91 L219.30 406.94 L219.40 406.97 L219.50 406.99 L219.60 407.00 L219.70 407.01 L219.80 407.01 L219.90 407.00 L220.00 406.99 L220.10 406.98 L220.20 406.96 L220.30 406.93 L220.40 406.91 L220.50 406.88 L220.60 406.84 L220.70 406.80 L220.80 406.76 L220.90 406.72 L221.00 406.67 L221.10 406.62 L221.20 406.57 L221.30 406.52 L221.40 406.47 L221.50 406.42 L221.60 406.37 L221.70 406.33 L221.80 406.28 L221.90 406.23 L222.00 406.19 L222.10 406.15 L222.20 406.12 L222.30 406.08 L222.40 406.06 L222.50 406.03 L222.60 406.01 L222.70 406.00 L222.80 405.98 L222.90 405.98 L223.00 405.98 L223.10 405.98 L223.20 405.99 L223.30 406.01 L223.40 406.03 L223.50 406.06 L223.60 406.09 L223.70 406.13 L223.80 406.18 L223.90 406.22 L224.00 406.28 L224.10 406.34 L224.20 406.40 L224.30 406.47 L224.40 406.54 L224.50 406.61 L224.60 406.69 L224.70 406.77 L224.80 406.85 L224.90 406.94 L225.00 407.02 L225.10 407.11 L225.20 407.20 L225.30 407.28 L225.40 407.37 L225.50 407.46 L225.60 407.54 L225.70 407.62 L225.80 407.70 L225.90 407.78 L226.00 407.86 L226.10 407.93 L226.20 408.00 L226.30 408.07 L226.40 408.13 L226.50 408.19 L226.60 408.24 L226.70 408.29 L226.80 408.33 L226.90 408.37 L227.00 408.40 L227.10 408.42 L227.20 408.44 L227.30 408.46 L227.40 408.47 L227.50 408.47 L227.60 408.46 L227.70 408.46 L227.80 408.44 L227.90 408.42 L228.00 408.40 L228.10 408.37 L228.20 408.34 L228.30 408.31 L228.40 408.27 L228.50 408.22 L228.60 408.18 L228.70 408.13 L228.80 408.07 L228.90 408.02 L229.00 407.96 L229.10 407.91 L229.20 407.85 L229.30 407.79 L229.40 407.73 L229.50 407.67 L229.60 407.61 L229.70 407.56 L229.80 407.50 L229.90 407.45 L230.00 407.40 L230.10 407.35 L230.20 407.30 L230.30 407.26 L230.40 407.22 L230.50 407.19 L230.60 407.15 L230.70 407.13 L230.80 407.11 L230.90 407.09 L231.00 407.08 L231.10 407.07 L231.20 407.07 L231.30 407.07 L231.40 407.08 L231.50 407.10 L231.60 407.12 L231.70 407.15 L231.80 407.18 L231.90 407.22 L232.00 407.27 L232.10 407.32 L232.20 407.37 L232.30 407.43 L232.40 407.49 L232.50 407.55 L232.60 407.62 L232.70 407.69 L232.80 407.76 L232.90 407.83 L233.00 407.90 L233.10 407.98 L233.20 408.05 L233.30 408.12 L233.40 408.19 L233.50 408.26 L233.60 408.32 L233.70 408.39 L233.80 408.44 L233.90 408.50 L234.00 408.55 L234.10 408.60 L234.20 408.64 L234.30 408.68 L234.40 408.71 L234.50 408.73" stroke="#111" stroke-width="1.18" fill="none" stroke-linejoin="round"/>
<text class="b s" x="157.25" y="354.05" font-size="8.2">0.927</text>
</g>
<g id="plot3">
<rect x="288" y="346.25" width="90.75" height="73.75" fill="#fff" stroke="#a6a6a6" stroke-width="1.1"/>
<path d="M297.50 420v-2 M315.50 420v-2 M333.50 420v-2 M351.50 420v-2 M369.50 420v-2 M306.50 420v-1.2 M324.50 420v-1.2 M342.50 420v-1.2 M360.50 420v-1.2 M288 413.00h2 M288 400.90h2 M288 388.80h2 M288 376.70h2 M288 364.60h2 M288 352.50h2" stroke="#999" stroke-width="0.7" fill="none"/>
<text class="b s" x="286.70" y="416.30" font-size="7.2" text-anchor="end">0.0</text>
<text class="b s" x="286.70" y="404.20" font-size="7.2" text-anchor="end">0.2</text>
<text class="b s" x="286.70" y="392.10" font-size="7.2" text-anchor="end">0.4</text>
<text class="b s" x="286.70" y="380.00" font-size="7.2" text-anchor="end">0.6</text>
<text class="b s" x="286.70" y="367.90" font-size="7.2" text-anchor="end">0.8</text>
<text class="b s" x="286.70" y="355.80" font-size="7.2" text-anchor="end">1.0</text>
<text class="b s" x="297.50" y="427.90" font-size="7.4" text-anchor="middle">-2</text>
<text class="b s" x="315.50" y="427.90" font-size="7.4" text-anchor="middle">-1</text>
<text class="b s" x="333.50" y="427.90" font-size="7.4" text-anchor="middle">0</text>
<text class="b s" x="351.50" y="427.90" font-size="7.4" text-anchor="middle">1</text>
<text class="b s" x="369.50" y="427.90" font-size="7.4" text-anchor="middle">2</text>
<text class="b s" x="333.50" y="433.90" font-size="7.4" text-anchor="middle">x(mm)</text>
<text class="b s" transform="translate(275.70 409.55) rotate(-90)" x="0" y="0" font-size="7.7" textLength="53.6" lengthAdjust="spacingAndGlyphs">Relative Intensity</text>
<path d="M297.50 412.27 L297.60 412.27 L297.70 412.25 L297.80 412.22 L297.90 412.18 L298.00 412.12 L298.10 412.06 L298.20 411.99 L298.30 411.90 L298.40 411.81 L298.50 411.70 L298.60 411.59 L298.70 411.47 L298.80 411.35 L298.90 411.21 L299.00 411.08 L299.10 410.94 L299.20 410.80 L299.30 410.65 L299.40 410.50 L299.50 410.36 L299.60 410.21 L299.70 410.07 L299.80 409.93 L299.90 409.80 L300.00 409.67 L300.10 409.54 L300.20 409.43 L300.30 409.32 L300.40 409.21 L300.50 409.12 L300.60 409.04 L300.70 408.96 L300.80 408.90 L300.90 408.85 L301.00 408.81 L301.10 408.78 L301.20 408.77 L301.30 408.77 L301.40 408.78 L301.50 408.80 L301.60 408.84 L301.70 408.89 L301.80 408.96 L301.90 409.03 L302.00 409.12 L302.10 409.22 L302.20 409.33 L302.30 409.45 L302.40 409.58 L302.50 409.71 L302.60 409.84 L302.70 409.98 L302.80 410.11 L302.90 410.25 L303.00 410.39 L303.10 410.52 L303.20 410.64 L303.30 410.76 L303.40 410.88 L303.50 410.98 L303.60 411.07 L303.70 411.15 L303.80 411.22 L303.90 411.28 L304.00 411.32 L304.10 411.35 L304.20 411.36 L304.30 411.36 L304.40 411.35 L304.50 411.32 L304.60 411.28 L304.70 411.22 L304.80 411.15 L304.90 411.06 L305.00 410.97 L305.10 410.86 L305.20 410.74 L305.30 410.61 L305.40 410.47 L305.50 410.32 L305.60 410.17 L305.70 410.01 L305.80 409.84 L305.90 409.67 L306.00 409.50 L306.10 409.33 L306.20 409.16 L306.30 408.99 L306.40 408.82 L306.50 408.65 L306.60 408.49 L306.70 408.34 L306.80 408.19 L306.90 408.06 L307.00 407.93 L307.10 407.81 L307.20 407.70 L307.30 407.61 L307.40 407.52 L307.50 407.45 L307.60 407.40 L307.70 407.36 L307.80 407.33 L307.90 407.31 L308.00 407.32 L308.10 407.34 L308.20 407.38 L308.30 407.44 L308.40 407.51 L308.50 407.61 L308.60 407.72 L308.70 407.84 L308.80 407.98 L308.90 408.13 L309.00 408.29 L309.10 408.46 L309.20 408.63 L309.30 408.80 L309.40 408.98 L309.50 409.16 L309.60 409.33 L309.70 409.51 L309.80 409.67 L309.90 409.82 L310.00 409.97 L310.10 410.10 L310.20 410.22 L310.30 410.32 L310.40 410.41 L310.50 410.48 L310.60 410.53 L310.70 410.57 L310.80 410.58 L310.90 410.58 L311.00 410.56 L311.10 410.52 L311.20 410.47 L311.30 410.41 L311.40 410.34 L311.50 410.25 L311.60 410.15 L311.70 410.04 L311.80 409.92 L311.90 409.79 L312.00 409.65 L312.10 409.50 L312.20 409.35 L312.30 409.19 L312.40 409.03 L312.50 408.87 L312.60 408.71 L312.70 408.55 L312.80 408.39 L312.90 408.24 L313.00 408.09 L313.10 407.95 L313.20 407.81 L313.30 407.69 L313.40 407.57 L313.50 407.46 L313.60 407.37 L313.70 407.28 L313.80 407.21 L313.90 407.16 L314.00 407.11 L314.10 407.09 L314.20 407.07 L314.30 407.07 L314.40 407.08 L314.50 407.09 L314.60 407.11 L314.70 407.14 L314.80 407.17 L314.90 407.21 L315.00 407.25 L315.10 407.29 L315.20 407.34 L315.30 407.40 L315.40 407.45 L315.50 407.51 L315.60 407.57 L315.70 407.63 L315.80 407.69 L315.90 407.74 L316.00 407.80 L316.10 407.86 L316.20 407.91 L316.30 407.96 L316.40 408.00 L316.50 408.04 L316.60 408.07 L316.70 408.10 L316.80 408.13 L316.90 408.14 L317.00 408.16 L317.10 408.16 L317.20 408.16 L317.30 408.15 L317.40 408.13 L317.50 408.10 L317.60 408.07 L317.70 408.03 L317.80 407.98 L317.90 407.93 L318.00 407.88 L318.10 407.82 L318.20 407.76 L318.30 407.70 L318.40 407.65 L318.50 407.59 L318.60 407.54 L318.70 407.49 L318.80 407.44 L318.90 407.40 L319.00 407.37 L319.10 407.34 L319.20 407.32 L319.30 407.32 L319.40 407.31 L319.50 407.32 L319.60 407.34 L319.70 407.36 L319.80 407.39 L319.90 407.43 L320.00 407.48 L320.10 407.54 L320.20 407.59 L320.30 407.66 L320.40 407.73 L320.50 407.80 L320.60 407.87 L320.70 407.94 L320.80 408.01 L320.90 408.08 L321.00 408.14 L321.10 408.21 L321.20 408.26 L321.30 408.31 L321.40 408.36 L321.50 408.40 L321.60 408.43 L321.70 408.45 L321.80 408.46 L321.90 408.46 L322.00 408.45 L322.10 408.42 L322.20 408.36 L322.30 408.29 L322.40 408.19 L322.50 408.08 L322.60 407.95 L322.70 407.80 L322.80 407.63 L322.90 407.45 L323.00 407.26 L323.10 407.06 L323.20 406.84 L323.30 406.62 L323.40 406.40 L323.50 406.17 L323.60 405.93 L323.70 405.70 L323.80 405.47 L323.90 405.24 L324.00 405.02 L324.10 404.80 L324.20 404.59 L324.30 404.40 L324.40 404.21 L324.50 404.04 L324.60 403.89 L324.70 403.75 L324.80 403.63 L324.90 403.53 L325.00 403.45 L325.10 403.38 L325.20 403.34 L325.30 403.32 L325.40 403.33 L325.50 403.38 L325.60 403.49 L325.70 403.65 L325.80 403.85 L325.90 404.11 L326.00 404.40 L326.10 404.73 L326.20 405.10 L326.30 405.49 L326.40 405.90 L326.50 406.33 L326.60 406.77 L326.70 407.22 L326.80 407.66 L326.90 408.09 L327.00 408.51 L327.10 408.91 L327.20 409.28 L327.30 409.62 L327.40 409.92 L327.50 410.18 L327.60 410.40 L327.70 410.56 L327.80 410.68 L327.90 410.75 L328.00 410.76 L328.10 410.69 L328.20 410.52 L328.30 410.26 L328.40 409.91 L328.50 409.47 L328.60 408.94 L328.70 408.32 L328.80 407.61 L328.90 406.82 L329.00 405.94 L329.10 404.99 L329.20 403.97 L329.30 402.87 L329.40 401.70 L329.50 400.47 L329.60 399.18 L329.70 397.83 L329.80 396.42 L329.90 394.98 L330.00 393.48 L330.10 391.95 L330.20 390.39 L330.30 388.79 L330.40 387.18 L330.50 385.54 L330.60 383.90 L330.70 382.24 L330.80 380.59 L330.90 378.94 L331.00 377.29 L331.10 375.66 L331.20 374.05 L331.30 372.47 L331.40 370.91 L331.50 369.39 L331.60 367.90 L331.70 366.47 L331.80 365.08 L331.90 363.74 L332.00 362.47 L332.10 361.25 L332.20 360.10 L332.30 359.02 L332.40 358.01 L332.50 357.08 L332.60 356.23 L332.70 355.46 L332.80 354.78 L332.90 354.18 L333.00 353.67 L333.10 353.25 L333.20 352.92 L333.30 352.69 L333.40 352.55 L333.50 352.50 L333.60 352.55 L333.70 352.69 L333.80 352.92 L333.90 353.25 L334.00 353.67 L334.10 354.18 L334.20 354.78 L334.30 355.46 L334.40 356.23 L334.50 357.08 L334.60 358.01 L334.70 359.02 L334.80 360.10 L334.90 361.25 L335.00 362.47 L335.10 363.74 L335.20 365.08 L335.30 366.47 L335.40 367.90 L335.50 369.39 L335.60 370.91 L335.70 372.47 L335.80 374.05 L335.90 375.66 L336.00 377.29 L336.10 378.94 L336.20 380.59 L336.30 382.24 L336.40 383.90 L336.50 385.54 L336.60 387.18 L336.70 388.79 L336.80 390.39 L336.90 391.95 L337.00 393.48 L337.10 394.98 L337.20 396.42 L337.30 397.83 L337.40 399.18 L337.50 400.47 L337.60 401.70 L337.70 402.87 L337.80 403.97 L337.90 404.99 L338.00 405.94 L338.10 406.82 L338.20 407.61 L338.30 408.32 L338.40 408.94 L338.50 409.47 L338.60 409.91 L338.70 410.26 L338.80 410.52 L338.90 410.69 L339.00 410.76 L339.10 410.75 L339.20 410.68 L339.30 410.56 L339.40 410.40 L339.50 410.18 L339.60 409.92 L339.70 409.62 L339.80 409.28 L339.90 408.91 L340.00 408.51 L340.10 408.09 L340.20 407.66 L340.30 407.22 L340.40 406.77 L340.50 406.33 L340.60 405.90 L340.70 405.49 L340.80 405.10 L340.90 404.73 L341.00 404.40 L341.10 404.11 L341.20 403.85 L341.30 403.65 L341.40 403.49 L341.50 403.38 L341.60 403.33 L341.70 403.32 L341.80 403.34 L341.90 403.38 L342.00 403.45 L342.10 403.53 L342.20 403.63 L342.30 403.75 L342.40 403.89 L342.50 404.04 L342.60 404.21 L342.70 404.40 L342.80 404.59 L342.90 404.80 L343.00 405.02 L343.10 405.24 L343.20 405.47 L343.30 405.70 L343.40 405.93 L343.50 406.17 L343.60 406.40 L343.70 406.62 L343.80 406.84 L343.90 407.06 L344.00 407.26 L344.10 407.45 L344.20 407.63 L344.30 407.80 L344.40 407.95 L344.50 408.08 L344.60 408.19 L344.70 408.29 L344.80 408.36 L344.90 408.42 L345.00 408.45 L345.10 408.46 L345.20 408.46 L345.30 408.45 L345.40 408.43 L345.50 408.40 L345.60 408.36 L345.70 408.31 L345.80 408.26 L345.90 408.21 L346.00 408.14 L346.10 408.08 L346.20 408.01 L346.30 407.94 L346.40 407.87 L346.50 407.80 L346.60 407.73 L346.70 407.66 L346.80 407.59 L346.90 407.54 L347.00 407.48 L347.10 407.43 L347.20 407.39 L347.30 407.36 L347.40 407.34 L347.50 407.32 L347.60 407.31 L347.70 407.32 L347.80 407.32 L347.90 407.34 L348.00 407.37 L348.10 407.40 L348.20 407.44 L348.30 407.49 L348.40 407.54 L348.50 407.59 L348.60 407.65 L348.70 407.70 L348.80 407.76 L348.90 407.82 L349.00 407.88 L349.10 407.93 L349.20 407.98 L349.30 408.03 L349.40 408.07 L349.50 408.10 L349.60 408.13 L349.70 408.15 L349.80 408.16 L349.90 408.16 L350.00 408.16 L350.10 408.14 L350.20 408.13 L350.30 408.10 L350.40 408.07 L350.50 408.04 L350.60 408.00 L350.70 407.96 L350.80 407.91 L350.90 407.86 L351.00 407.80 L351.10 407.74 L351.20 407.69 L351.30 407.63 L351.40 407.57 L351.50 407.51 L351.60 407.45 L351.70 407.40 L351.80 407.34 L351.90 407.29 L352.00 407.25 L352.10 407.21 L352.20 407.17 L352.30 407.14 L352.40 407.11 L352.50 407.09 L352.60 407.08 L352.70 407.07 L352.80 407.07 L352.90 407.09 L353.00 407.11 L353.10 407.16 L353.20 407.21 L353.30 407.28 L353.40 407.37 L353.50 407.46 L353.60 407.57 L353.70 407.69 L353.80 407.81 L353.90 407.95 L354.00 408.09 L354.10 408.24 L354.20 408.39 L354.30 408.55 L354.40 408.71 L354.50 408.87 L354.60 409.03 L354.70 409.19 L354.80 409.35 L354.90 409.50 L355.00 409.65 L355.10 409.79 L355.20 409.92 L355.30 410.04 L355.40 410.15 L355.50 410.25 L355.60 410.34 L355.70 410.41 L355.80 410.47 L355.90 410.52 L356.00 410.56 L356.10 410.58 L356.20 410.58 L356.30 410.57 L356.40 410.53 L356.50 410.48 L356.60 410.41 L356.70 410.32 L356.80 410.22 L356.90 410.10 L357.00 409.97 L357.10 409.82 L357.20 409.67 L357.30 409.51 L357.40 409.33 L357.50 409.16 L357.60 408.98 L357.70 408.80 L357.80 408.63 L357.90 408.46 L358.00 408.29 L358.10 408.13 L358.20 407.98 L358.30 407.84 L358.40 407.72 L358.50 407.61 L358.60 407.51 L358.70 407.44 L358.80 407.38 L358.90 407.34 L359.00 407.32 L359.10 407.31 L359.20 407.33 L359.30 407.36 L359.40 407.40 L359.50 407.45 L359.60 407.52 L359.70 407.61 L359.80 407.70 L359.90 407.81 L360.00 407.93 L360.10 408.06 L360.20 408.19 L360.30 408.34 L360.40 408.49 L360.50 408.65 L360.60 408.82 L360.70 408.99 L360.80 409.16 L360.90 409.33 L361.00 409.50 L361.10 409.67 L361.20 409.84 L361.30 410.01 L361.40 410.17 L361.50 410.32 L361.60 410.47 L361.70 410.61 L361.80 410.74 L361.90 410.86 L362.00 410.97 L362.10 411.06 L362.20 411.15 L362.30 411.22 L362.40 411.28 L362.50 411.32 L362.60 411.35 L362.70 411.36 L362.80 411.36 L362.90 411.35 L363.00 411.32 L363.10 411.28 L363.20 411.22 L363.30 411.15 L363.40 411.07 L363.50 410.98 L363.60 410.88 L363.70 410.76 L363.80 410.64 L363.90 410.52 L364.00 410.39 L364.10 410.25 L364.20 410.11 L364.30 409.98 L364.40 409.84 L364.50 409.71 L364.60 409.58 L364.70 409.45 L364.80 409.33 L364.90 409.22 L365.00 409.12 L365.10 409.03 L365.20 408.96 L365.30 408.89 L365.40 408.84 L365.50 408.80 L365.60 408.78 L365.70 408.77 L365.80 408.77 L365.90 408.78 L366.00 408.81 L366.10 408.85 L366.20 408.90 L366.30 408.96 L366.40 409.04 L366.50 409.12 L366.60 409.21 L366.70 409.32 L366.80 409.43 L366.90 409.54 L367.00 409.67 L367.10 409.80 L367.20 409.93 L367.30 410.07 L367.40 410.21 L367.50 410.36 L367.60 410.50 L367.70 410.65 L367.80 410.80 L367.90 410.94 L368.00 411.08 L368.10 411.21 L368.20 411.35 L368.30 411.47 L368.40 411.59 L368.50 411.70 L368.60 411.81 L368.70 411.90 L368.80 411.99 L368.90 412.06 L369.00 412.12 L369.10 412.18 L369.20 412.22 L369.30 412.25 L369.40 412.27 L369.50 412.27" stroke="#111" stroke-width="1.18" fill="none" stroke-linejoin="round"/>
<text class="b s" x="292.25" y="356.55" font-size="8.2">0.921</text>
</g>
<g id="plot4">
<rect x="420.75" y="344.25" width="91.0" height="73.25" fill="#fff" stroke="#a6a6a6" stroke-width="1.1"/>
<path d="M430.00 417.5v-2 M448.12 417.5v-2 M466.25 417.5v-2 M484.38 417.5v-2 M502.50 417.5v-2 M439.06 417.5v-1.2 M457.19 417.5v-1.2 M475.31 417.5v-1.2 M493.44 417.5v-1.2 M420.75 411.25h2 M420.75 399.10h2 M420.75 386.95h2 M420.75 374.80h2 M420.75 362.65h2 M420.75 350.50h2" stroke="#999" stroke-width="0.7" fill="none"/>
<text class="b s" x="419.45" y="414.55" font-size="7.2" text-anchor="end">0.0</text>
<text class="b s" x="419.45" y="402.40" font-size="7.2" text-anchor="end">0.2</text>
<text class="b s" x="419.45" y="390.25" font-size="7.2" text-anchor="end">0.4</text>
<text class="b s" x="419.45" y="378.10" font-size="7.2" text-anchor="end">0.6</text>
<text class="b s" x="419.45" y="365.95" font-size="7.2" text-anchor="end">0.8</text>
<text class="b s" x="419.45" y="353.80" font-size="7.2" text-anchor="end">1.0</text>
<text class="b s" x="430.00" y="425.90" font-size="7.4" text-anchor="middle">-2</text>
<text class="b s" x="448.12" y="425.90" font-size="7.4" text-anchor="middle">-1</text>
<text class="b s" x="466.25" y="425.90" font-size="7.4" text-anchor="middle">0</text>
<text class="b s" x="484.38" y="425.90" font-size="7.4" text-anchor="middle">1</text>
<text class="b s" x="502.50" y="425.90" font-size="7.4" text-anchor="middle">2</text>
<text class="b s" x="466.25" y="431.90" font-size="7.4" text-anchor="middle">x(mm)</text>
<text class="b s" transform="translate(408.35 407.68) rotate(-90)" x="0" y="0" font-size="7.7" textLength="53.6" lengthAdjust="spacingAndGlyphs">Relative Intensity</text>
<path d="M430.00 406.58 L430.10 406.78 L430.20 406.98 L430.30 407.18 L430.40 407.37 L430.50 407.55 L430.60 407.72 L430.70 407.88 L430.81 408.03 L430.91 408.16 L431.01 408.27 L431.11 408.36 L431.21 408.43 L431.31 408.48 L431.41 408.51 L431.51 408.52 L431.61 408.50 L431.71 408.45 L431.81 408.39 L431.91 408.29 L432.01 408.18 L432.11 408.04 L432.22 407.89 L432.32 407.72 L432.42 407.53 L432.52 407.33 L432.62 407.12 L432.72 406.90 L432.82 406.67 L432.92 406.45 L433.02 406.22 L433.12 405.99 L433.22 405.77 L433.32 405.56 L433.42 405.36 L433.52 405.18 L433.62 405.00 L433.73 404.85 L433.83 404.72 L433.93 404.60 L434.03 404.51 L434.13 404.45 L434.23 404.40 L434.33 404.39 L434.43 404.39 L434.53 404.43 L434.63 404.49 L434.73 404.57 L434.83 404.68 L434.93 404.80 L435.03 404.95 L435.14 405.12 L435.24 405.30 L435.34 405.50 L435.44 405.71 L435.54 405.92 L435.64 406.14 L435.74 406.37 L435.84 406.59 L435.94 406.80 L436.04 407.02 L436.14 407.22 L436.24 407.41 L436.34 407.58 L436.44 407.74 L436.55 407.87 L436.65 407.99 L436.75 408.08 L436.85 408.15 L436.95 408.19 L437.05 408.21 L437.15 408.20 L437.25 408.16 L437.35 408.08 L437.45 407.97 L437.55 407.83 L437.65 407.66 L437.75 407.47 L437.85 407.25 L437.95 407.01 L438.06 406.74 L438.16 406.47 L438.26 406.18 L438.36 405.88 L438.46 405.58 L438.56 405.28 L438.66 404.97 L438.76 404.68 L438.86 404.39 L438.96 404.12 L439.06 403.87 L439.16 403.63 L439.26 403.42 L439.36 403.23 L439.47 403.07 L439.57 402.94 L439.67 402.85 L439.77 402.78 L439.87 402.75 L439.97 402.75 L440.07 402.79 L440.17 402.86 L440.27 402.97 L440.37 403.10 L440.47 403.27 L440.57 403.47 L440.67 403.69 L440.77 403.93 L440.88 404.19 L440.98 404.47 L441.08 404.75 L441.18 405.04 L441.28 405.32 L441.38 405.61 L441.48 405.88 L441.58 406.14 L441.68 406.39 L441.78 406.61 L441.88 406.81 L441.98 406.98 L442.08 407.13 L442.18 407.24 L442.28 407.31 L442.39 407.35 L442.49 407.36 L442.59 407.33 L442.69 407.27 L442.79 407.18 L442.89 407.05 L442.99 406.90 L443.09 406.72 L443.19 406.51 L443.29 406.28 L443.39 406.03 L443.49 405.76 L443.59 405.48 L443.69 405.19 L443.80 404.89 L443.90 404.59 L444.00 404.29 L444.10 403.99 L444.20 403.70 L444.30 403.41 L444.40 403.15 L444.50 402.90 L444.60 402.67 L444.70 402.46 L444.80 402.29 L444.90 402.13 L445.00 402.01 L445.10 401.92 L445.20 401.86 L445.31 401.84 L445.41 401.84 L445.51 401.88 L445.61 401.94 L445.71 402.03 L445.81 402.15 L445.91 402.30 L446.01 402.46 L446.11 402.65 L446.21 402.86 L446.31 403.08 L446.41 403.32 L446.51 403.56 L446.61 403.82 L446.72 404.08 L446.82 404.33 L446.92 404.59 L447.02 404.84 L447.12 405.08 L447.22 405.30 L447.32 405.52 L447.42 405.71 L447.52 405.88 L447.62 406.03 L447.72 406.16 L447.82 406.26 L447.92 406.33 L448.02 406.38 L448.12 406.39 L448.23 406.38 L448.33 406.33 L448.43 406.26 L448.53 406.17 L448.63 406.05 L448.73 405.90 L448.83 405.74 L448.93 405.56 L449.03 405.36 L449.13 405.15 L449.23 404.93 L449.33 404.70 L449.43 404.48 L449.53 404.25 L449.64 404.03 L449.74 403.82 L449.84 403.62 L449.94 403.43 L450.04 403.26 L450.14 403.11 L450.24 402.99 L450.34 402.89 L450.44 402.81 L450.54 402.77 L450.64 402.75 L450.74 402.75 L450.84 402.78 L450.94 402.82 L451.05 402.89 L451.15 402.97 L451.25 403.06 L451.35 403.18 L451.45 403.30 L451.55 403.44 L451.65 403.58 L451.75 403.74 L451.85 403.89 L451.95 404.05 L452.05 404.21 L452.15 404.37 L452.25 404.52 L452.35 404.66 L452.45 404.79 L452.56 404.91 L452.66 405.02 L452.76 405.11 L452.86 405.18 L452.96 405.24 L453.06 405.28 L453.16 405.29 L453.26 405.29 L453.36 405.28 L453.46 405.25 L453.56 405.22 L453.66 405.17 L453.76 405.12 L453.86 405.06 L453.97 405.00 L454.07 404.94 L454.17 404.89 L454.27 404.84 L454.37 404.80 L454.47 404.77 L454.57 404.75 L454.67 404.75 L454.77 404.76 L454.87 404.77 L454.97 404.80 L455.07 404.83 L455.17 404.87 L455.27 404.92 L455.38 404.96 L455.48 405.01 L455.58 405.05 L455.68 405.09 L455.78 405.13 L455.88 405.15 L455.98 405.17 L456.08 405.17 L456.18 405.17 L456.28 405.14 L456.38 405.09 L456.48 405.03 L456.58 404.94 L456.68 404.84 L456.78 404.71 L456.89 404.58 L456.99 404.42 L457.09 404.26 L457.19 404.08 L457.29 403.89 L457.39 403.70 L457.49 403.50 L457.59 403.30 L457.69 403.10 L457.79 402.90 L457.89 402.70 L457.99 402.51 L458.09 402.32 L458.19 402.14 L458.30 401.98 L458.40 401.83 L458.50 401.69 L458.60 401.57 L458.70 401.46 L458.80 401.37 L458.90 401.31 L459.00 401.26 L459.10 401.23 L459.20 401.23 L459.30 401.26 L459.40 401.34 L459.50 401.48 L459.60 401.65 L459.70 401.87 L459.81 402.13 L459.91 402.43 L460.01 402.76 L460.11 403.11 L460.21 403.49 L460.31 403.89 L460.41 404.29 L460.51 404.71 L460.61 405.12 L460.71 405.53 L460.81 405.93 L460.91 406.31 L461.01 406.66 L461.11 406.99 L461.22 407.29 L461.32 407.55 L461.42 407.78 L461.52 407.95 L461.62 408.09 L461.72 408.17 L461.82 408.21 L461.92 408.17 L462.02 407.99 L462.12 407.66 L462.22 407.18 L462.32 406.56 L462.42 405.79 L462.52 404.90 L462.62 403.87 L462.73 402.71 L462.83 401.43 L462.93 400.04 L463.03 398.55 L463.13 396.95 L463.23 395.26 L463.33 393.50 L463.43 391.65 L463.53 389.75 L463.63 387.79 L463.73 385.79 L463.83 383.75 L463.93 381.70 L464.03 379.63 L464.14 377.55 L464.24 375.49 L464.34 373.45 L464.44 371.44 L464.54 369.47 L464.64 367.55 L464.74 365.69 L464.84 363.90 L464.94 362.19 L465.04 360.57 L465.14 359.05 L465.24 357.63 L465.34 356.32 L465.44 355.13 L465.55 354.07 L465.65 353.14 L465.75 352.34 L465.85 351.68 L465.95 351.17 L466.05 350.80 L466.15 350.57 L466.25 350.50 L466.35 350.57 L466.45 350.80 L466.55 351.17 L466.65 351.68 L466.75 352.34 L466.85 353.14 L466.95 354.07 L467.06 355.13 L467.16 356.32 L467.26 357.63 L467.36 359.05 L467.46 360.57 L467.56 362.19 L467.66 363.90 L467.76 365.69 L467.86 367.55 L467.96 369.47 L468.06 371.44 L468.16 373.45 L468.26 375.49 L468.36 377.55 L468.47 379.63 L468.57 381.70 L468.67 383.75 L468.77 385.79 L468.87 387.79 L468.97 389.75 L469.07 391.65 L469.17 393.50 L469.27 395.26 L469.37 396.95 L469.47 398.55 L469.57 400.04 L469.67 401.43 L469.77 402.71 L469.88 403.87 L469.98 404.90 L470.08 405.79 L470.18 406.56 L470.28 407.18 L470.38 407.66 L470.48 407.99 L470.58 408.17 L470.68 408.21 L470.78 408.17 L470.88 408.09 L470.98 407.95 L471.08 407.78 L471.18 407.55 L471.28 407.29 L471.39 406.99 L471.49 406.66 L471.59 406.31 L471.69 405.93 L471.79 405.53 L471.89 405.12 L471.99 404.71 L472.09 404.29 L472.19 403.89 L472.29 403.49 L472.39 403.11 L472.49 402.76 L472.59 402.43 L472.69 402.13 L472.80 401.87 L472.90 401.65 L473.00 401.48 L473.10 401.34 L473.20 401.26 L473.30 401.23 L473.40 401.23 L473.50 401.26 L473.60 401.31 L473.70 401.37 L473.80 401.46 L473.90 401.57 L474.00 401.69 L474.10 401.83 L474.20 401.98 L474.31 402.14 L474.41 402.32 L474.51 402.51 L474.61 402.70 L474.71 402.90 L474.81 403.10 L474.91 403.30 L475.01 403.50 L475.11 403.70 L475.21 403.89 L475.31 404.08 L475.41 404.26 L475.51 404.42 L475.61 404.58 L475.72 404.71 L475.82 404.84 L475.92 404.94 L476.02 405.03 L476.12 405.09 L476.22 405.14 L476.32 405.17 L476.42 405.17 L476.52 405.17 L476.62 405.15 L476.72 405.13 L476.82 405.09 L476.92 405.05 L477.02 405.01 L477.12 404.96 L477.23 404.92 L477.33 404.87 L477.43 404.83 L477.53 404.80 L477.63 404.77 L477.73 404.76 L477.83 404.75 L477.93 404.75 L478.03 404.77 L478.13 404.80 L478.23 404.84 L478.33 404.89 L478.43 404.94 L478.53 405.00 L478.64 405.06 L478.74 405.12 L478.84 405.17 L478.94 405.22 L479.04 405.25 L479.14 405.28 L479.24 405.29 L479.34 405.29 L479.44 405.28 L479.54 405.24 L479.64 405.18 L479.74 405.11 L479.84 405.02 L479.94 404.91 L480.05 404.79 L480.15 404.66 L480.25 404.52 L480.35 404.37 L480.45 404.21 L480.55 404.05 L480.65 403.89 L480.75 403.74 L480.85 403.58 L480.95 403.44 L481.05 403.30 L481.15 403.18 L481.25 403.06 L481.35 402.97 L481.45 402.89 L481.56 402.82 L481.66 402.78 L481.76 402.75 L481.86 402.75 L481.96 402.77 L482.06 402.81 L482.16 402.89 L482.26 402.99 L482.36 403.11 L482.46 403.26 L482.56 403.43 L482.66 403.62 L482.76 403.82 L482.86 404.03 L482.97 404.25 L483.07 404.48 L483.17 404.70 L483.27 404.93 L483.37 405.15 L483.47 405.36 L483.57 405.56 L483.67 405.74 L483.77 405.90 L483.87 406.05 L483.97 406.17 L484.07 406.26 L484.17 406.33 L484.27 406.38 L484.38 406.39 L484.48 406.38 L484.58 406.33 L484.68 406.26 L484.78 406.16 L484.88 406.03 L484.98 405.88 L485.08 405.71 L485.18 405.52 L485.28 405.30 L485.38 405.08 L485.48 404.84 L485.58 404.59 L485.68 404.33 L485.78 404.08 L485.89 403.82 L485.99 403.56 L486.09 403.32 L486.19 403.08 L486.29 402.86 L486.39 402.65 L486.49 402.46 L486.59 402.30 L486.69 402.15 L486.79 402.03 L486.89 401.94 L486.99 401.88 L487.09 401.84 L487.19 401.84 L487.30 401.86 L487.40 401.92 L487.50 402.01 L487.60 402.13 L487.70 402.29 L487.80 402.46 L487.90 402.67 L488.00 402.90 L488.10 403.15 L488.20 403.41 L488.30 403.70 L488.40 403.99 L488.50 404.29 L488.60 404.59 L488.70 404.89 L488.81 405.19 L488.91 405.48 L489.01 405.76 L489.11 406.03 L489.21 406.28 L489.31 406.51 L489.41 406.72 L489.51 406.90 L489.61 407.05 L489.71 407.18 L489.81 407.27 L489.91 407.33 L490.01 407.36 L490.11 407.35 L490.22 407.31 L490.32 407.24 L490.42 407.13 L490.52 406.98 L490.62 406.81 L490.72 406.61 L490.82 406.39 L490.92 406.14 L491.02 405.88 L491.12 405.61 L491.22 405.32 L491.32 405.04 L491.42 404.75 L491.52 404.47 L491.62 404.19 L491.73 403.93 L491.83 403.69 L491.93 403.47 L492.03 403.27 L492.13 403.10 L492.23 402.97 L492.33 402.86 L492.43 402.79 L492.53 402.75 L492.63 402.75 L492.73 402.78 L492.83 402.85 L492.93 402.94 L493.03 403.07 L493.14 403.23 L493.24 403.42 L493.34 403.63 L493.44 403.87 L493.54 404.12 L493.64 404.39 L493.74 404.68 L493.84 404.97 L493.94 405.28 L494.04 405.58 L494.14 405.88 L494.24 406.18 L494.34 406.47 L494.44 406.74 L494.55 407.01 L494.65 407.25 L494.75 407.47 L494.85 407.66 L494.95 407.83 L495.05 407.97 L495.15 408.08 L495.25 408.16 L495.35 408.20 L495.45 408.21 L495.55 408.19 L495.65 408.15 L495.75 408.08 L495.85 407.99 L495.95 407.87 L496.06 407.74 L496.16 407.58 L496.26 407.41 L496.36 407.22 L496.46 407.02 L496.56 406.80 L496.66 406.59 L496.76 406.37 L496.86 406.14 L496.96 405.92 L497.06 405.71 L497.16 405.50 L497.26 405.30 L497.36 405.12 L497.47 404.95 L497.57 404.80 L497.67 404.68 L497.77 404.57 L497.87 404.49 L497.97 404.43 L498.07 404.39 L498.17 404.39 L498.27 404.40 L498.37 404.45 L498.47 404.51 L498.57 404.60 L498.67 404.72 L498.77 404.85 L498.88 405.00 L498.98 405.18 L499.08 405.36 L499.18 405.56 L499.28 405.77 L499.38 405.99 L499.48 406.22 L499.58 406.45 L499.68 406.67 L499.78 406.90 L499.88 407.12 L499.98 407.33 L500.08 407.53 L500.18 407.72 L500.28 407.89 L500.39 408.04 L500.49 408.18 L500.59 408.29 L500.69 408.39 L500.79 408.45 L500.89 408.50 L500.99 408.52 L501.09 408.51 L501.19 408.48 L501.29 408.43 L501.39 408.36 L501.49 408.27 L501.59 408.16 L501.69 408.03 L501.80 407.88 L501.90 407.72 L502.00 407.55 L502.10 407.37 L502.20 407.18 L502.30 406.98 L502.40 406.78 L502.50 406.58" stroke="#111" stroke-width="1.18" fill="none" stroke-linejoin="round"/>
<text class="b s" x="424.75" y="354.80" font-size="8.2">0.901</text>
</g>
<g id="plot5">
<rect x="19.5" y="553.25" width="90.5" height="73.0" fill="#fff" stroke="#a6a6a6" stroke-width="1.1"/>
<path d="M29.50 626.25v-2 M47.44 626.25v-2 M65.38 626.25v-2 M83.31 626.25v-2 M101.25 626.25v-2 M38.47 626.25v-1.2 M56.41 626.25v-1.2 M74.34 626.25v-1.2 M92.28 626.25v-1.2 M19.5 620.00h2 M19.5 607.90h2 M19.5 595.80h2 M19.5 583.70h2 M19.5 571.60h2 M19.5 559.50h2" stroke="#999" stroke-width="0.7" fill="none"/>
<text class="b s" x="18.20" y="623.30" font-size="7.2" text-anchor="end">0.0</text>
<text class="b s" x="18.20" y="611.20" font-size="7.2" text-anchor="end">0.2</text>
<text class="b s" x="18.20" y="599.10" font-size="7.2" text-anchor="end">0.4</text>
<text class="b s" x="18.20" y="587.00" font-size="7.2" text-anchor="end">0.6</text>
<text class="b s" x="18.20" y="574.90" font-size="7.2" text-anchor="end">0.8</text>
<text class="b s" x="18.20" y="562.80" font-size="7.2" text-anchor="end">1.0</text>
<text class="b s" x="29.50" y="634.65" font-size="7.4" text-anchor="middle">-2</text>
<text class="b s" x="47.44" y="634.65" font-size="7.4" text-anchor="middle">-1</text>
<text class="b s" x="65.38" y="634.65" font-size="7.4" text-anchor="middle">0</text>
<text class="b s" x="83.31" y="634.65" font-size="7.4" text-anchor="middle">1</text>
<text class="b s" x="101.25" y="634.65" font-size="7.4" text-anchor="middle">2</text>
<text class="b s" x="65.38" y="641.15" font-size="7.4" text-anchor="middle">x(mm)</text>
<text class="b s" transform="translate(7.60 616.80) rotate(-90)" x="0" y="0" font-size="7.7" textLength="53.6" lengthAdjust="spacingAndGlyphs">Relative Intensity</text>
<path d="M29.50 608.73 L29.60 608.88 L29.70 609.06 L29.80 609.29 L29.90 609.56 L30.00 609.86 L30.10 610.18 L30.20 610.53 L30.30 610.89 L30.40 611.25 L30.50 611.62 L30.60 611.98 L30.70 612.32 L30.80 612.65 L30.90 612.95 L30.99 613.22 L31.09 613.45 L31.19 613.64 L31.29 613.79 L31.39 613.89 L31.49 613.94 L31.59 613.94 L31.69 613.90 L31.79 613.80 L31.89 613.65 L31.99 613.46 L32.09 613.23 L32.19 612.95 L32.29 612.64 L32.39 612.30 L32.49 611.93 L32.59 611.54 L32.69 611.13 L32.79 610.71 L32.89 610.29 L32.99 609.87 L33.09 609.45 L33.19 609.04 L33.29 608.65 L33.39 608.29 L33.49 607.95 L33.59 607.65 L33.69 607.38 L33.79 607.15 L33.88 606.96 L33.98 606.83 L34.08 606.73 L34.18 606.69 L34.28 606.71 L34.38 606.79 L34.48 606.95 L34.58 607.18 L34.68 607.47 L34.78 607.82 L34.88 608.22 L34.98 608.66 L35.08 609.14 L35.18 609.64 L35.28 610.15 L35.38 610.67 L35.48 611.18 L35.58 611.68 L35.68 612.14 L35.78 612.57 L35.88 612.96 L35.98 613.28 L36.08 613.55 L36.18 613.76 L36.28 613.89 L36.38 613.95 L36.48 613.93 L36.58 613.83 L36.67 613.66 L36.77 613.41 L36.87 613.08 L36.97 612.69 L37.07 612.24 L37.17 611.74 L37.27 611.20 L37.37 610.62 L37.47 610.01 L37.57 609.39 L37.67 608.77 L37.77 608.15 L37.87 607.54 L37.97 606.97 L38.07 606.42 L38.17 605.93 L38.27 605.48 L38.37 605.10 L38.47 604.78 L38.57 604.54 L38.67 604.37 L38.77 604.28 L38.87 604.28 L38.97 604.36 L39.07 604.52 L39.17 604.77 L39.27 605.09 L39.37 605.49 L39.47 605.95 L39.56 606.47 L39.66 607.04 L39.76 607.64 L39.86 608.27 L39.96 608.92 L40.06 609.56 L40.16 610.21 L40.26 610.83 L40.36 611.42 L40.46 611.97 L40.56 612.46 L40.66 612.90 L40.76 613.27 L40.86 613.56 L40.96 613.78 L41.06 613.91 L41.16 613.95 L41.26 613.89 L41.36 613.72 L41.46 613.44 L41.56 613.06 L41.66 612.58 L41.76 612.01 L41.86 611.37 L41.96 610.67 L42.06 609.92 L42.16 609.14 L42.26 608.34 L42.36 607.54 L42.45 606.76 L42.55 606.01 L42.65 605.31 L42.75 604.67 L42.85 604.11 L42.95 603.63 L43.05 603.25 L43.15 602.98 L43.25 602.81 L43.35 602.76 L43.45 602.81 L43.55 602.97 L43.65 603.23 L43.75 603.59 L43.85 604.03 L43.95 604.55 L44.05 605.14 L44.15 605.80 L44.25 606.50 L44.35 607.23 L44.45 607.99 L44.55 608.75 L44.65 609.51 L44.75 610.24 L44.85 610.94 L44.95 611.59 L45.05 612.18 L45.15 612.70 L45.25 613.14 L45.34 613.49 L45.44 613.74 L45.54 613.90 L45.64 613.95 L45.74 613.90 L45.84 613.76 L45.94 613.53 L46.04 613.20 L46.14 612.80 L46.24 612.32 L46.34 611.78 L46.44 611.18 L46.54 610.53 L46.64 609.85 L46.74 609.15 L46.84 608.44 L46.94 607.74 L47.04 607.05 L47.14 606.39 L47.24 605.77 L47.34 605.20 L47.44 604.69 L47.54 604.26 L47.64 603.90 L47.74 603.63 L47.84 603.46 L47.94 603.37 L48.04 603.38 L48.14 603.51 L48.23 603.74 L48.33 604.08 L48.43 604.51 L48.53 605.03 L48.63 605.63 L48.73 606.29 L48.83 606.99 L48.93 607.72 L49.03 608.47 L49.13 609.22 L49.23 609.95 L49.33 610.64 L49.43 611.28 L49.53 611.85 L49.63 612.35 L49.73 612.75 L49.83 613.05 L49.93 613.25 L50.03 613.34 L50.13 613.33 L50.23 613.24 L50.33 613.09 L50.43 612.88 L50.53 612.60 L50.63 612.27 L50.73 611.89 L50.83 611.46 L50.93 611.00 L51.02 610.52 L51.12 610.02 L51.22 609.51 L51.32 609.00 L51.42 608.50 L51.52 608.02 L51.62 607.57 L51.72 607.15 L51.82 606.78 L51.92 606.46 L52.02 606.20 L52.12 606.00 L52.22 605.86 L52.32 605.79 L52.42 605.79 L52.52 605.85 L52.62 605.98 L52.72 606.16 L52.82 606.40 L52.92 606.69 L53.02 607.03 L53.12 607.40 L53.22 607.81 L53.32 608.25 L53.42 608.70 L53.52 609.17 L53.62 609.63 L53.72 610.09 L53.82 610.54 L53.91 610.96 L54.01 611.35 L54.11 611.70 L54.21 612.01 L54.31 612.27 L54.41 612.48 L54.51 612.63 L54.61 612.71 L54.71 612.74 L54.81 612.72 L54.91 612.66 L55.01 612.57 L55.11 612.45 L55.21 612.31 L55.31 612.14 L55.41 611.96 L55.51 611.77 L55.61 611.57 L55.71 611.38 L55.81 611.20 L55.91 611.04 L56.01 610.90 L56.11 610.78 L56.21 610.69 L56.31 610.64 L56.41 610.62 L56.51 610.61 L56.61 610.59 L56.71 610.54 L56.80 610.48 L56.90 610.41 L57.00 610.33 L57.10 610.25 L57.20 610.16 L57.30 610.08 L57.40 610.00 L57.50 609.94 L57.60 609.89 L57.70 609.85 L57.80 609.84 L57.90 609.84 L58.00 609.88 L58.10 609.94 L58.20 610.03 L58.30 610.14 L58.40 610.25 L58.50 610.36 L58.60 610.46 L58.70 610.54 L58.80 610.60 L58.90 610.62 L59.00 610.61 L59.10 610.55 L59.20 610.45 L59.30 610.33 L59.40 610.19 L59.50 610.05 L59.60 609.92 L59.69 609.81 L59.79 609.74 L59.89 609.72 L59.99 609.74 L60.09 609.84 L60.19 610.00 L60.29 610.22 L60.39 610.50 L60.49 610.82 L60.59 611.19 L60.69 611.59 L60.79 612.01 L60.89 612.44 L60.99 612.87 L61.09 613.29 L61.19 613.69 L61.29 614.05 L61.39 614.38 L61.49 614.66 L61.59 614.88 L61.69 615.04 L61.79 615.13 L61.89 615.16 L61.99 615.03 L62.09 614.67 L62.19 614.10 L62.29 613.31 L62.39 612.31 L62.49 611.11 L62.58 609.73 L62.68 608.16 L62.78 606.43 L62.88 604.54 L62.98 602.52 L63.08 600.37 L63.18 598.12 L63.28 595.79 L63.38 593.38 L63.48 590.93 L63.58 588.45 L63.68 585.96 L63.78 583.48 L63.88 581.03 L63.98 578.64 L64.08 576.31 L64.18 574.07 L64.28 571.93 L64.38 569.92 L64.48 568.05 L64.58 566.33 L64.68 564.79 L64.78 563.42 L64.88 562.24 L64.98 561.26 L65.08 560.50 L65.18 559.94 L65.28 559.61 L65.38 559.50 L65.47 559.61 L65.57 559.94 L65.67 560.50 L65.77 561.26 L65.87 562.24 L65.97 563.42 L66.07 564.79 L66.17 566.33 L66.27 568.05 L66.37 569.92 L66.47 571.93 L66.57 574.07 L66.67 576.31 L66.77 578.64 L66.87 581.03 L66.97 583.48 L67.07 585.96 L67.17 588.45 L67.27 590.93 L67.37 593.38 L67.47 595.79 L67.57 598.12 L67.67 600.37 L67.77 602.52 L67.87 604.54 L67.97 606.43 L68.07 608.16 L68.17 609.73 L68.26 611.11 L68.36 612.31 L68.46 613.31 L68.56 614.10 L68.66 614.67 L68.76 615.03 L68.86 615.16 L68.96 615.13 L69.06 615.04 L69.16 614.88 L69.26 614.66 L69.36 614.38 L69.46 614.05 L69.56 613.69 L69.66 613.29 L69.76 612.87 L69.86 612.44 L69.96 612.01 L70.06 611.59 L70.16 611.19 L70.26 610.82 L70.36 610.50 L70.46 610.22 L70.56 610.00 L70.66 609.84 L70.76 609.74 L70.86 609.72 L70.96 609.74 L71.06 609.81 L71.15 609.92 L71.25 610.05 L71.35 610.19 L71.45 610.33 L71.55 610.45 L71.65 610.55 L71.75 610.61 L71.85 610.62 L71.95 610.60 L72.05 610.54 L72.15 610.46 L72.25 610.36 L72.35 610.25 L72.45 610.14 L72.55 610.03 L72.65 609.94 L72.75 609.88 L72.85 609.84 L72.95 609.84 L73.05 609.85 L73.15 609.89 L73.25 609.94 L73.35 610.00 L73.45 610.08 L73.55 610.16 L73.65 610.25 L73.75 610.33 L73.85 610.41 L73.95 610.48 L74.04 610.54 L74.14 610.59 L74.24 610.61 L74.34 610.62 L74.44 610.64 L74.54 610.69 L74.64 610.78 L74.74 610.90 L74.84 611.04 L74.94 611.20 L75.04 611.38 L75.14 611.57 L75.24 611.77 L75.34 611.96 L75.44 612.14 L75.54 612.31 L75.64 612.45 L75.74 612.57 L75.84 612.66 L75.94 612.72 L76.04 612.74 L76.14 612.71 L76.24 612.63 L76.34 612.48 L76.44 612.27 L76.54 612.01 L76.64 611.70 L76.74 611.35 L76.84 610.96 L76.93 610.54 L77.03 610.09 L77.13 609.63 L77.23 609.17 L77.33 608.70 L77.43 608.25 L77.53 607.81 L77.63 607.40 L77.73 607.03 L77.83 606.69 L77.93 606.40 L78.03 606.16 L78.13 605.98 L78.23 605.85 L78.33 605.79 L78.43 605.79 L78.53 605.86 L78.63 606.00 L78.73 606.20 L78.83 606.46 L78.93 606.78 L79.03 607.15 L79.13 607.57 L79.23 608.02 L79.33 608.50 L79.43 609.00 L79.53 609.51 L79.63 610.02 L79.73 610.52 L79.82 611.00 L79.92 611.46 L80.02 611.89 L80.12 612.27 L80.22 612.60 L80.32 612.88 L80.42 613.09 L80.52 613.24 L80.62 613.33 L80.72 613.34 L80.82 613.25 L80.92 613.05 L81.02 612.75 L81.12 612.35 L81.22 611.85 L81.32 611.28 L81.42 610.64 L81.52 609.95 L81.62 609.22 L81.72 608.47 L81.82 607.72 L81.92 606.99 L82.02 606.29 L82.12 605.63 L82.22 605.03 L82.32 604.51 L82.42 604.08 L82.52 603.74 L82.61 603.51 L82.71 603.38 L82.81 603.37 L82.91 603.46 L83.01 603.63 L83.11 603.90 L83.21 604.26 L83.31 604.69 L83.41 605.20 L83.51 605.77 L83.61 606.39 L83.71 607.05 L83.81 607.74 L83.91 608.44 L84.01 609.15 L84.11 609.85 L84.21 610.53 L84.31 611.18 L84.41 611.78 L84.51 612.32 L84.61 612.80 L84.71 613.20 L84.81 613.53 L84.91 613.76 L85.01 613.90 L85.11 613.95 L85.21 613.90 L85.31 613.74 L85.41 613.49 L85.50 613.14 L85.60 612.70 L85.70 612.18 L85.80 611.59 L85.90 610.94 L86.00 610.24 L86.10 609.51 L86.20 608.75 L86.30 607.99 L86.40 607.23 L86.50 606.50 L86.60 605.80 L86.70 605.14 L86.80 604.55 L86.90 604.03 L87.00 603.59 L87.10 603.23 L87.20 602.97 L87.30 602.81 L87.40 602.76 L87.50 602.81 L87.60 602.98 L87.70 603.25 L87.80 603.63 L87.90 604.11 L88.00 604.67 L88.10 605.31 L88.20 606.01 L88.30 606.76 L88.39 607.54 L88.49 608.34 L88.59 609.14 L88.69 609.92 L88.79 610.67 L88.89 611.37 L88.99 612.01 L89.09 612.58 L89.19 613.06 L89.29 613.44 L89.39 613.72 L89.49 613.89 L89.59 613.95 L89.69 613.91 L89.79 613.78 L89.89 613.56 L89.99 613.27 L90.09 612.90 L90.19 612.46 L90.29 611.97 L90.39 611.42 L90.49 610.83 L90.59 610.21 L90.69 609.56 L90.79 608.92 L90.89 608.27 L90.99 607.64 L91.09 607.04 L91.19 606.47 L91.28 605.95 L91.38 605.49 L91.48 605.09 L91.58 604.77 L91.68 604.52 L91.78 604.36 L91.88 604.28 L91.98 604.28 L92.08 604.37 L92.18 604.54 L92.28 604.78 L92.38 605.10 L92.48 605.48 L92.58 605.93 L92.68 606.42 L92.78 606.97 L92.88 607.54 L92.98 608.15 L93.08 608.77 L93.18 609.39 L93.28 610.01 L93.38 610.62 L93.48 611.20 L93.58 611.74 L93.68 612.24 L93.78 612.69 L93.88 613.08 L93.98 613.41 L94.08 613.66 L94.17 613.83 L94.27 613.93 L94.37 613.95 L94.47 613.89 L94.57 613.76 L94.67 613.55 L94.77 613.28 L94.87 612.96 L94.97 612.57 L95.07 612.14 L95.17 611.68 L95.27 611.18 L95.37 610.67 L95.47 610.15 L95.57 609.64 L95.67 609.14 L95.77 608.66 L95.87 608.22 L95.97 607.82 L96.07 607.47 L96.17 607.18 L96.27 606.95 L96.37 606.79 L96.47 606.71 L96.57 606.69 L96.67 606.73 L96.77 606.83 L96.87 606.96 L96.96 607.15 L97.06 607.38 L97.16 607.65 L97.26 607.95 L97.36 608.29 L97.46 608.65 L97.56 609.04 L97.66 609.45 L97.76 609.87 L97.86 610.29 L97.96 610.71 L98.06 611.13 L98.16 611.54 L98.26 611.93 L98.36 612.30 L98.46 612.64 L98.56 612.95 L98.66 613.23 L98.76 613.46 L98.86 613.65 L98.96 613.80 L99.06 613.90 L99.16 613.94 L99.26 613.94 L99.36 613.89 L99.46 613.79 L99.56 613.64 L99.66 613.45 L99.76 613.22 L99.85 612.95 L99.95 612.65 L100.05 612.32 L100.15 611.98 L100.25 611.62 L100.35 611.25 L100.45 610.89 L100.55 610.53 L100.65 610.18 L100.75 609.86 L100.85 609.56 L100.95 609.29 L101.05 609.06 L101.15 608.88 L101.25 608.73" stroke="#111" stroke-width="1.18" fill="none" stroke-linejoin="round"/>
<text class="b s" x="24.25" y="564.05" font-size="8.2">0.851</text>
</g>
<g id="plot6">
<rect x="153" y="554.5" width="90.75" height="73.0" fill="#fff" stroke="#a6a6a6" stroke-width="1.1"/>
<path d="M162.50 627.5v-2 M180.50 627.5v-2 M198.50 627.5v-2 M216.50 627.5v-2 M234.50 627.5v-2 M171.50 627.5v-1.2 M189.50 627.5v-1.2 M207.50 627.5v-1.2 M225.50 627.5v-1.2 M153 621.25h2 M153 609.10h2 M153 596.95h2 M153 584.80h2 M153 572.65h2 M153 560.50h2" stroke="#999" stroke-width="0.7" fill="none"/>
<text class="b s" x="151.70" y="624.55" font-size="7.2" text-anchor="end">0.0</text>
<text class="b s" x="151.70" y="612.40" font-size="7.2" text-anchor="end">0.2</text>
<text class="b s" x="151.70" y="600.25" font-size="7.2" text-anchor="end">0.4</text>
<text class="b s" x="151.70" y="588.10" font-size="7.2" text-anchor="end">0.6</text>
<text class="b s" x="151.70" y="575.95" font-size="7.2" text-anchor="end">0.8</text>
<text class="b s" x="151.70" y="563.80" font-size="7.2" text-anchor="end">1.0</text>
<text class="b s" x="162.50" y="635.90" font-size="7.4" text-anchor="middle">-2</text>
<text class="b s" x="180.50" y="635.90" font-size="7.4" text-anchor="middle">-1</text>
<text class="b s" x="198.50" y="635.90" font-size="7.4" text-anchor="middle">0</text>
<text class="b s" x="216.50" y="635.90" font-size="7.4" text-anchor="middle">1</text>
<text class="b s" x="234.50" y="635.90" font-size="7.4" text-anchor="middle">2</text>
<text class="b s" x="198.50" y="641.90" font-size="7.4" text-anchor="middle">x(mm)</text>
<text class="b s" transform="translate(140.80 617.92) rotate(-90)" x="0" y="0" font-size="7.7" textLength="53.6" lengthAdjust="spacingAndGlyphs">Relative Intensity</text>
<path d="M162.50 585.01 L162.60 583.63 L162.70 582.26 L162.80 580.92 L162.90 579.66 L163.00 578.50 L163.10 577.47 L163.20 576.61 L163.30 575.92 L163.40 575.43 L163.50 575.15 L163.60 575.08 L163.70 575.22 L163.80 575.54 L163.90 576.04 L164.00 576.70 L164.10 577.52 L164.20 578.47 L164.30 579.52 L164.40 580.65 L164.50 581.83 L164.60 583.04 L164.70 584.23 L164.80 585.38 L164.90 586.47 L165.00 587.46 L165.10 588.33 L165.20 589.06 L165.30 589.63 L165.40 590.02 L165.50 590.23 L165.60 590.25 L165.70 590.02 L165.80 589.53 L165.90 588.81 L166.00 587.86 L166.10 586.71 L166.20 585.37 L166.30 583.88 L166.40 582.27 L166.50 580.57 L166.60 578.82 L166.70 577.06 L166.80 575.32 L166.90 573.63 L167.00 572.04 L167.10 570.58 L167.20 569.28 L167.30 568.16 L167.40 567.26 L167.50 566.58 L167.60 566.15 L167.70 565.97 L167.80 566.07 L167.90 566.50 L168.00 567.25 L168.10 568.30 L168.20 569.62 L168.30 571.18 L168.40 572.94 L168.50 574.86 L168.60 576.89 L168.70 578.97 L168.80 581.06 L168.90 583.10 L169.00 585.05 L169.10 586.84 L169.20 588.45 L169.30 589.82 L169.40 590.92 L169.50 591.73 L169.60 592.23 L169.70 592.39 L169.80 592.19 L169.90 591.60 L170.00 590.62 L170.10 589.29 L170.20 587.63 L170.30 585.70 L170.40 583.53 L170.50 581.18 L170.60 578.72 L170.70 576.19 L170.80 573.68 L170.90 571.23 L171.00 568.92 L171.10 566.79 L171.20 564.91 L171.30 563.31 L171.40 562.05 L171.50 561.15 L171.60 560.63 L171.70 560.51 L171.80 560.88 L171.90 561.78 L172.00 563.18 L172.10 565.03 L172.20 567.27 L172.30 569.85 L172.40 572.67 L172.50 575.67 L172.60 578.73 L172.70 581.78 L172.80 584.72 L172.90 587.45 L173.00 589.91 L173.10 592.00 L173.20 593.67 L173.30 594.87 L173.40 595.56 L173.50 595.73 L173.60 595.38 L173.70 594.55 L173.80 593.26 L173.90 591.54 L174.00 589.44 L174.10 587.00 L174.20 584.28 L174.30 581.36 L174.40 578.31 L174.50 575.21 L174.60 572.13 L174.70 569.15 L174.80 566.35 L174.90 563.79 L175.00 561.54 L175.10 559.66 L175.20 558.19 L175.30 557.18 L175.40 556.64 L175.50 556.59 L175.60 557.08 L175.70 558.09 L175.80 559.59 L175.90 561.56 L176.00 563.94 L176.10 566.68 L176.20 569.69 L176.30 572.92 L176.40 576.27 L176.50 579.66 L176.60 583.01 L176.70 586.24 L176.80 589.26 L176.90 591.99 L177.00 594.37 L177.10 596.34 L177.20 597.85 L177.30 598.85 L177.40 599.34 L177.50 599.29 L177.60 598.74 L177.70 597.70 L177.80 596.19 L177.90 594.26 L178.00 591.95 L178.10 589.31 L178.20 586.42 L178.30 583.33 L178.40 580.13 L178.50 576.89 L178.60 573.69 L178.70 570.61 L178.80 567.72 L178.90 565.10 L179.00 562.80 L179.10 560.89 L179.20 559.40 L179.30 558.38 L179.40 557.85 L179.50 557.82 L179.60 558.33 L179.70 559.39 L179.80 560.95 L179.90 562.99 L180.00 565.45 L180.10 568.28 L180.20 571.40 L180.30 574.76 L180.40 578.25 L180.50 581.81 L180.60 585.35 L180.70 588.78 L180.80 592.02 L180.90 595.00 L181.00 597.63 L181.10 599.87 L181.20 601.66 L181.30 602.95 L181.40 603.71 L181.50 603.93 L181.60 603.64 L181.70 602.85 L181.80 601.59 L181.90 599.89 L182.00 597.79 L182.10 595.35 L182.20 592.62 L182.30 589.66 L182.40 586.55 L182.50 583.37 L182.60 580.19 L182.70 577.09 L182.80 574.14 L182.90 571.41 L183.00 568.98 L183.10 566.90 L183.20 565.22 L183.30 563.98 L183.40 563.21 L183.50 562.93 L183.60 563.16 L183.70 563.90 L183.80 565.15 L183.90 566.86 L184.00 568.99 L184.10 571.51 L184.20 574.34 L184.30 577.42 L184.40 580.67 L184.50 584.02 L184.60 587.39 L184.70 590.70 L184.80 593.87 L184.90 596.83 L185.00 599.49 L185.10 601.81 L185.20 603.72 L185.30 605.18 L185.40 606.16 L185.50 606.63 L185.60 606.60 L185.70 606.15 L185.80 605.32 L185.90 604.11 L186.00 602.56 L186.10 600.71 L186.20 598.60 L186.30 596.29 L186.40 593.82 L186.50 591.27 L186.60 588.70 L186.70 586.16 L186.80 583.72 L186.90 581.45 L187.00 579.39 L187.10 577.60 L187.20 576.13 L187.30 575.00 L187.40 574.25 L187.50 573.89 L187.60 573.94 L187.70 574.40 L187.80 575.26 L187.90 576.50 L188.00 578.09 L188.10 579.99 L188.20 582.16 L188.30 584.55 L188.40 587.11 L188.50 589.76 L188.60 592.45 L188.70 595.12 L188.80 597.71 L188.90 600.15 L189.00 602.39 L189.10 604.37 L189.20 606.05 L189.30 607.39 L189.40 608.36 L189.50 608.93 L189.60 609.10 L189.70 608.94 L189.80 608.53 L189.90 607.88 L190.00 606.99 L190.10 605.90 L190.20 604.63 L190.30 603.21 L190.40 601.68 L190.50 600.08 L190.60 598.44 L190.70 596.82 L190.80 595.24 L190.90 593.75 L191.00 592.39 L191.10 591.19 L191.20 590.17 L191.30 589.38 L191.40 588.82 L191.50 588.51 L191.60 588.45 L191.70 588.61 L191.80 588.97 L191.90 589.52 L192.00 590.25 L192.10 591.15 L192.20 592.19 L192.30 593.36 L192.40 594.64 L192.50 596.00 L192.60 597.41 L192.70 598.84 L192.80 600.28 L192.90 601.69 L193.00 603.04 L193.10 604.31 L193.20 605.47 L193.30 606.50 L193.40 607.37 L193.50 608.09 L193.60 608.62 L193.70 608.96 L193.80 609.10 L193.90 609.02 L194.00 608.72 L194.10 608.23 L194.20 607.60 L194.30 606.92 L194.40 606.26 L194.50 605.71 L194.60 605.32 L194.70 605.16 L194.80 605.19 L194.90 605.33 L195.00 605.55 L195.10 605.81 L195.20 606.06 L195.30 606.26 L195.40 606.36 L195.50 606.32 L195.60 606.06 L195.70 605.55 L195.80 604.82 L195.90 603.86 L196.00 602.68 L196.10 601.30 L196.20 599.73 L196.30 597.99 L196.40 596.10 L196.50 594.07 L196.60 591.94 L196.70 589.71 L196.80 587.42 L196.90 585.08 L197.00 582.73 L197.10 580.38 L197.20 578.07 L197.30 575.81 L197.40 573.63 L197.50 571.56 L197.60 569.61 L197.70 567.81 L197.80 566.17 L197.90 564.72 L198.00 563.46 L198.10 562.41 L198.20 561.58 L198.30 560.98 L198.40 560.62 L198.50 560.50 L198.60 560.62 L198.70 560.98 L198.80 561.58 L198.90 562.41 L199.00 563.46 L199.10 564.72 L199.20 566.17 L199.30 567.81 L199.40 569.61 L199.50 571.56 L199.60 573.63 L199.70 575.81 L199.80 578.07 L199.90 580.38 L200.00 582.73 L200.10 585.08 L200.20 587.42 L200.30 589.71 L200.40 591.94 L200.50 594.07 L200.60 596.10 L200.70 597.99 L200.80 599.73 L200.90 601.30 L201.00 602.68 L201.10 603.86 L201.20 604.82 L201.30 605.55 L201.40 606.06 L201.50 606.32 L201.60 606.36 L201.70 606.26 L201.80 606.06 L201.90 605.81 L202.00 605.55 L202.10 605.33 L202.20 605.19 L202.30 605.16 L202.40 605.32 L202.50 605.71 L202.60 606.26 L202.70 606.92 L202.80 607.60 L202.90 608.23 L203.00 608.72 L203.10 609.02 L203.20 609.10 L203.30 608.96 L203.40 608.62 L203.50 608.09 L203.60 607.37 L203.70 606.50 L203.80 605.47 L203.90 604.31 L204.00 603.04 L204.10 601.69 L204.20 600.28 L204.30 598.84 L204.40 597.41 L204.50 596.00 L204.60 594.64 L204.70 593.36 L204.80 592.19 L204.90 591.15 L205.00 590.25 L205.10 589.52 L205.20 588.97 L205.30 588.61 L205.40 588.45 L205.50 588.51 L205.60 588.82 L205.70 589.38 L205.80 590.17 L205.90 591.19 L206.00 592.39 L206.10 593.75 L206.20 595.24 L206.30 596.82 L206.40 598.44 L206.50 600.08 L206.60 601.68 L206.70 603.21 L206.80 604.63 L206.90 605.90 L207.00 606.99 L207.10 607.88 L207.20 608.53 L207.30 608.94 L207.40 609.10 L207.50 608.93 L207.60 608.36 L207.70 607.39 L207.80 606.05 L207.90 604.37 L208.00 602.39 L208.10 600.15 L208.20 597.71 L208.30 595.12 L208.40 592.45 L208.50 589.76 L208.60 587.11 L208.70 584.55 L208.80 582.16 L208.90 579.99 L209.00 578.09 L209.10 576.50 L209.20 575.26 L209.30 574.40 L209.40 573.94 L209.50 573.89 L209.60 574.25 L209.70 575.00 L209.80 576.13 L209.90 577.60 L210.00 579.39 L210.10 581.45 L210.20 583.72 L210.30 586.16 L210.40 588.70 L210.50 591.27 L210.60 593.82 L210.70 596.29 L210.80 598.60 L210.90 600.71 L211.00 602.56 L211.10 604.11 L211.20 605.32 L211.30 606.15 L211.40 606.60 L211.50 606.63 L211.60 606.16 L211.70 605.18 L211.80 603.72 L211.90 601.81 L212.00 599.49 L212.10 596.83 L212.20 593.87 L212.30 590.70 L212.40 587.39 L212.50 584.02 L212.60 580.67 L212.70 577.42 L212.80 574.34 L212.90 571.51 L213.00 568.99 L213.10 566.86 L213.20 565.15 L213.30 563.90 L213.40 563.16 L213.50 562.93 L213.60 563.21 L213.70 563.98 L213.80 565.22 L213.90 566.90 L214.00 568.98 L214.10 571.41 L214.20 574.14 L214.30 577.09 L214.40 580.19 L214.50 583.37 L214.60 586.55 L214.70 589.66 L214.80 592.62 L214.90 595.35 L215.00 597.79 L215.10 599.89 L215.20 601.59 L215.30 602.85 L215.40 603.64 L215.50 603.93 L215.60 603.71 L215.70 602.95 L215.80 601.66 L215.90 599.87 L216.00 597.63 L216.10 595.00 L216.20 592.02 L216.30 588.78 L216.40 585.35 L216.50 581.81 L216.60 578.25 L216.70 574.76 L216.80 571.40 L216.90 568.28 L217.00 565.45 L217.10 562.99 L217.20 560.95 L217.30 559.39 L217.40 558.33 L217.50 557.82 L217.60 557.85 L217.70 558.38 L217.80 559.40 L217.90 560.89 L218.00 562.80 L218.10 565.10 L218.20 567.72 L218.30 570.61 L218.40 573.69 L218.50 576.89 L218.60 580.13 L218.70 583.33 L218.80 586.42 L218.90 589.31 L219.00 591.95 L219.10 594.26 L219.20 596.19 L219.30 597.70 L219.40 598.74 L219.50 599.29 L219.60 599.34 L219.70 598.85 L219.80 597.85 L219.90 596.34 L220.00 594.37 L220.10 591.99 L220.20 589.26 L220.30 586.24 L220.40 583.01 L220.50 579.66 L220.60 576.27 L220.70 572.92 L220.80 569.69 L220.90 566.68 L221.00 563.94 L221.10 561.56 L221.20 559.59 L221.30 558.09 L221.40 557.08 L221.50 556.59 L221.60 556.64 L221.70 557.18 L221.80 558.19 L221.90 559.66 L222.00 561.54 L222.10 563.79 L222.20 566.35 L222.30 569.15 L222.40 572.13 L222.50 575.21 L222.60 578.31 L222.70 581.36 L222.80 584.28 L222.90 587.00 L223.00 589.44 L223.10 591.54 L223.20 593.26 L223.30 594.55 L223.40 595.38 L223.50 595.73 L223.60 595.56 L223.70 594.87 L223.80 593.67 L223.90 592.00 L224.00 589.91 L224.10 587.45 L224.20 584.72 L224.30 581.78 L224.40 578.73 L224.50 575.67 L224.60 572.67 L224.70 569.85 L224.80 567.27 L224.90 565.03 L225.00 563.18 L225.10 561.78 L225.20 560.88 L225.30 560.51 L225.40 560.63 L225.50 561.15 L225.60 562.05 L225.70 563.31 L225.80 564.91 L225.90 566.79 L226.00 568.92 L226.10 571.23 L226.20 573.68 L226.30 576.19 L226.40 578.72 L226.50 581.18 L226.60 583.53 L226.70 585.70 L226.80 587.63 L226.90 589.29 L227.00 590.62 L227.10 591.60 L227.20 592.19 L227.30 592.39 L227.40 592.23 L227.50 591.73 L227.60 590.92 L227.70 589.82 L227.80 588.45 L227.90 586.84 L228.00 585.05 L228.10 583.10 L228.20 581.06 L228.30 578.97 L228.40 576.89 L228.50 574.86 L228.60 572.94 L228.70 571.18 L228.80 569.62 L228.90 568.30 L229.00 567.25 L229.10 566.50 L229.20 566.07 L229.30 565.97 L229.40 566.15 L229.50 566.58 L229.60 567.26 L229.70 568.16 L229.80 569.28 L229.90 570.58 L230.00 572.04 L230.10 573.63 L230.20 575.32 L230.30 577.06 L230.40 578.82 L230.50 580.57 L230.60 582.27 L230.70 583.88 L230.80 585.37 L230.90 586.71 L231.00 587.86 L231.10 588.81 L231.20 589.53 L231.30 590.02 L231.40 590.25 L231.50 590.23 L231.60 590.02 L231.70 589.63 L231.80 589.06 L231.90 588.33 L232.00 587.46 L232.10 586.47 L232.20 585.38 L232.30 584.23 L232.40 583.04 L232.50 581.83 L232.60 580.65 L232.70 579.52 L232.80 578.47 L232.90 577.52 L233.00 576.70 L233.10 576.04 L233.20 575.54 L233.30 575.22 L233.40 575.08 L233.50 575.15 L233.60 575.43 L233.70 575.92 L233.80 576.61 L233.90 577.47 L234.00 578.50 L234.10 579.66 L234.20 580.92 L234.30 582.26 L234.40 583.63 L234.50 585.01" stroke="#111" stroke-width="1.18" fill="none" stroke-linejoin="round"/>
<text class="b s" x="153.50" y="563.30" font-size="8.2">0.601</text>
</g>
<g id="plot7">
<rect x="286.25" y="553.25" width="90.75" height="73.0" fill="#fff" stroke="#a6a6a6" stroke-width="1.1"/>
<path d="M295.75 626.25v-2 M313.81 626.25v-2 M331.88 626.25v-2 M349.94 626.25v-2 M368.00 626.25v-2 M304.78 626.25v-1.2 M322.84 626.25v-1.2 M340.91 626.25v-1.2 M358.97 626.25v-1.2 M286.25 620.00h2 M286.25 607.90h2 M286.25 595.80h2 M286.25 583.70h2 M286.25 571.60h2 M286.25 559.50h2" stroke="#999" stroke-width="0.7" fill="none"/>
<text class="b s" x="284.95" y="623.30" font-size="7.2" text-anchor="end">0.0</text>
<text class="b s" x="284.95" y="611.20" font-size="7.2" text-anchor="end">0.2</text>
<text class="b s" x="284.95" y="599.10" font-size="7.2" text-anchor="end">0.4</text>
<text class="b s" x="284.95" y="587.00" font-size="7.2" text-anchor="end">0.6</text>
<text class="b s" x="284.95" y="574.90" font-size="7.2" text-anchor="end">0.8</text>
<text class="b s" x="284.95" y="562.80" font-size="7.2" text-anchor="end">1.0</text>
<text class="b s" x="295.75" y="635.90" font-size="7.4" text-anchor="middle">-2</text>
<text class="b s" x="313.81" y="635.90" font-size="7.4" text-anchor="middle">-1</text>
<text class="b s" x="331.88" y="635.90" font-size="7.4" text-anchor="middle">0</text>
<text class="b s" x="349.94" y="635.90" font-size="7.4" text-anchor="middle">1</text>
<text class="b s" x="368.00" y="635.90" font-size="7.4" text-anchor="middle">2</text>
<text class="b s" x="331.88" y="641.90" font-size="7.4" text-anchor="middle">x(mm)</text>
<text class="b s" transform="translate(274.30 616.80) rotate(-90)" x="0" y="0" font-size="7.7" textLength="53.6" lengthAdjust="spacingAndGlyphs">Relative Intensity</text>
<path d="M295.75 580.32 L295.85 579.71 L295.95 578.96 L296.05 578.10 L296.15 577.16 L296.25 576.16 L296.35 575.14 L296.45 574.12 L296.55 573.16 L296.65 572.27 L296.75 571.48 L296.85 570.82 L296.95 570.31 L297.05 569.96 L297.15 569.80 L297.26 569.81 L297.36 570.00 L297.46 570.34 L297.56 570.82 L297.66 571.45 L297.76 572.19 L297.86 573.02 L297.96 573.91 L298.06 574.85 L298.16 575.80 L298.26 576.73 L298.36 577.62 L298.46 578.43 L298.56 579.15 L298.66 579.74 L298.76 580.20 L298.86 580.51 L298.96 580.66 L299.06 580.63 L299.16 580.38 L299.26 579.89 L299.36 579.20 L299.46 578.32 L299.56 577.27 L299.66 576.10 L299.76 574.83 L299.86 573.50 L299.96 572.15 L300.06 570.84 L300.17 569.58 L300.27 568.43 L300.37 567.41 L300.47 566.57 L300.57 565.91 L300.67 565.48 L300.77 565.27 L300.87 565.31 L300.97 565.68 L301.07 566.38 L301.17 567.38 L301.27 568.66 L301.37 570.15 L301.47 571.83 L301.57 573.62 L301.67 575.47 L301.77 577.32 L301.87 579.11 L301.97 580.77 L302.07 582.24 L302.17 583.49 L302.27 584.46 L302.37 585.13 L302.47 585.47 L302.57 585.48 L302.67 585.16 L302.77 584.55 L302.87 583.64 L302.98 582.48 L303.08 581.08 L303.18 579.48 L303.28 577.73 L303.38 575.88 L303.48 573.97 L303.58 572.05 L303.68 570.17 L303.78 568.39 L303.88 566.76 L303.98 565.30 L304.08 564.07 L304.18 563.10 L304.28 562.40 L304.38 562.01 L304.48 561.93 L304.58 562.32 L304.68 563.20 L304.78 564.55 L304.88 566.32 L304.98 568.46 L305.08 570.88 L305.18 573.50 L305.28 576.23 L305.38 578.98 L305.48 581.63 L305.58 584.12 L305.68 586.33 L305.78 588.21 L305.89 589.68 L305.99 590.69 L306.09 591.20 L306.19 591.20 L306.29 590.72 L306.39 589.77 L306.49 588.39 L306.59 586.61 L306.69 584.50 L306.79 582.11 L306.89 579.52 L306.99 576.81 L307.09 574.07 L307.19 571.37 L307.29 568.82 L307.39 566.47 L307.49 564.41 L307.59 562.70 L307.69 561.39 L307.79 560.52 L307.89 560.13 L307.99 560.26 L308.09 561.06 L308.19 562.50 L308.29 564.54 L308.39 567.11 L308.49 570.13 L308.59 573.50 L308.69 577.10 L308.80 580.82 L308.90 584.54 L309.00 588.13 L309.10 591.47 L309.20 594.46 L309.30 596.99 L309.40 598.99 L309.50 600.38 L309.60 601.12 L309.70 601.19 L309.80 600.59 L309.90 599.35 L310.00 597.49 L310.10 595.10 L310.20 592.24 L310.30 589.01 L310.40 585.51 L310.50 581.86 L310.60 578.19 L310.70 574.60 L310.80 571.23 L310.90 568.18 L311.00 565.55 L311.10 563.43 L311.20 561.88 L311.30 560.97 L311.40 560.72 L311.50 561.15 L311.60 562.28 L311.71 564.06 L311.81 566.44 L311.91 569.34 L312.01 572.68 L312.11 576.36 L312.21 580.25 L312.31 584.24 L312.41 588.20 L312.51 592.01 L312.61 595.56 L312.71 598.73 L312.81 601.43 L312.91 603.56 L313.01 605.07 L313.11 605.91 L313.21 606.05 L313.31 605.51 L313.41 604.30 L313.51 602.47 L313.61 600.08 L313.71 597.21 L313.81 593.96 L313.91 590.43 L314.01 586.75 L314.11 583.03 L314.21 579.41 L314.31 576.01 L314.41 572.93 L314.51 570.29 L314.62 568.17 L314.72 566.65 L314.82 565.77 L314.92 565.56 L315.02 566.05 L315.12 567.22 L315.22 569.04 L315.32 571.46 L315.42 574.39 L315.52 577.75 L315.62 581.44 L315.72 585.34 L315.82 589.34 L315.92 593.32 L316.02 597.15 L316.12 600.72 L316.22 603.92 L316.32 606.66 L316.42 608.84 L316.52 610.40 L316.62 611.31 L316.72 611.52 L316.82 611.02 L316.92 609.82 L317.02 607.98 L317.12 605.55 L317.22 602.63 L317.32 599.34 L317.43 595.78 L317.53 592.10 L317.63 588.44 L317.73 584.92 L317.83 581.69 L317.93 578.87 L318.03 576.55 L318.13 574.83 L318.23 573.77 L318.33 573.41 L318.43 573.71 L318.53 574.60 L318.63 576.05 L318.73 578.02 L318.83 580.46 L318.93 583.31 L319.03 586.48 L319.13 589.88 L319.23 593.43 L319.33 597.02 L319.43 600.55 L319.53 603.94 L319.63 607.08 L319.73 609.89 L319.83 612.28 L319.93 614.21 L320.03 615.60 L320.13 616.43 L320.23 616.67 L320.34 616.36 L320.44 615.54 L320.54 614.23 L320.64 612.47 L320.74 610.33 L320.84 607.86 L320.94 605.15 L321.04 602.27 L321.14 599.32 L321.24 596.39 L321.34 593.56 L321.44 590.93 L321.54 588.58 L321.64 586.58 L321.74 584.99 L321.84 583.86 L321.94 583.23 L322.04 583.12 L322.14 583.58 L322.24 584.61 L322.34 586.18 L322.44 588.23 L322.54 590.71 L322.64 593.52 L322.74 596.57 L322.84 599.78 L322.94 603.01 L323.04 606.19 L323.14 609.18 L323.25 611.91 L323.35 614.28 L323.45 616.20 L323.55 617.62 L323.65 618.50 L323.75 618.79 L323.85 618.60 L323.95 618.02 L324.05 617.09 L324.15 615.82 L324.25 614.27 L324.35 612.49 L324.45 610.52 L324.55 608.45 L324.65 606.35 L324.75 604.27 L324.85 602.29 L324.95 600.49 L325.05 598.91 L325.15 597.61 L325.25 596.64 L325.35 596.03 L325.45 595.80 L325.55 595.95 L325.65 596.46 L325.75 597.32 L325.85 598.50 L325.95 599.96 L326.05 601.67 L326.16 603.56 L326.26 605.59 L326.36 607.69 L326.46 609.79 L326.56 611.84 L326.66 613.77 L326.76 615.51 L326.86 617.03 L326.96 618.27 L327.06 619.20 L327.16 619.78 L327.26 620.00 L327.36 619.90 L327.46 619.55 L327.56 618.98 L327.66 618.21 L327.76 617.27 L327.86 616.22 L327.96 615.10 L328.06 613.96 L328.16 612.88 L328.26 611.88 L328.36 611.04 L328.46 610.38 L328.56 609.93 L328.66 609.73 L328.76 609.73 L328.86 609.78 L328.96 609.87 L329.07 610.01 L329.17 610.19 L329.27 610.42 L329.37 610.67 L329.47 610.97 L329.57 611.29 L329.67 611.65 L329.77 612.03 L329.87 612.43 L329.97 612.85 L330.07 613.29 L330.17 613.73 L330.27 614.18 L330.37 614.63 L330.47 615.08 L330.57 615.51 L330.67 615.94 L330.77 616.35 L330.87 616.74 L330.97 617.10 L331.07 617.44 L331.17 617.74 L331.27 618.01 L331.37 618.24 L331.47 618.44 L331.57 618.59 L331.67 618.70 L331.77 618.77 L331.88 618.79 L331.98 618.77 L332.08 618.70 L332.18 618.59 L332.28 618.44 L332.38 618.24 L332.48 618.01 L332.58 617.74 L332.68 617.44 L332.78 617.10 L332.88 616.74 L332.98 616.35 L333.08 615.94 L333.18 615.51 L333.28 615.08 L333.38 614.63 L333.48 614.18 L333.58 613.73 L333.68 613.29 L333.78 612.85 L333.88 612.43 L333.98 612.03 L334.08 611.65 L334.18 611.29 L334.28 610.97 L334.38 610.67 L334.48 610.42 L334.58 610.19 L334.68 610.01 L334.79 609.87 L334.89 609.78 L334.99 609.73 L335.09 609.73 L335.19 609.93 L335.29 610.38 L335.39 611.04 L335.49 611.88 L335.59 612.88 L335.69 613.96 L335.79 615.10 L335.89 616.22 L335.99 617.27 L336.09 618.21 L336.19 618.98 L336.29 619.55 L336.39 619.90 L336.49 620.00 L336.59 619.78 L336.69 619.20 L336.79 618.27 L336.89 617.03 L336.99 615.51 L337.09 613.77 L337.19 611.84 L337.29 609.79 L337.39 607.69 L337.49 605.59 L337.59 603.56 L337.70 601.67 L337.80 599.96 L337.90 598.50 L338.00 597.32 L338.10 596.46 L338.20 595.95 L338.30 595.80 L338.40 596.03 L338.50 596.64 L338.60 597.61 L338.70 598.91 L338.80 600.49 L338.90 602.29 L339.00 604.27 L339.10 606.35 L339.20 608.45 L339.30 610.52 L339.40 612.49 L339.50 614.27 L339.60 615.82 L339.70 617.09 L339.80 618.02 L339.90 618.60 L340.00 618.79 L340.10 618.50 L340.20 617.62 L340.30 616.20 L340.40 614.28 L340.50 611.91 L340.61 609.18 L340.71 606.19 L340.81 603.01 L340.91 599.78 L341.01 596.57 L341.11 593.52 L341.21 590.71 L341.31 588.23 L341.41 586.18 L341.51 584.61 L341.61 583.58 L341.71 583.12 L341.81 583.23 L341.91 583.86 L342.01 584.99 L342.11 586.58 L342.21 588.58 L342.31 590.93 L342.41 593.56 L342.51 596.39 L342.61 599.32 L342.71 602.27 L342.81 605.15 L342.91 607.86 L343.01 610.33 L343.11 612.47 L343.21 614.23 L343.31 615.54 L343.41 616.36 L343.52 616.67 L343.62 616.43 L343.72 615.60 L343.82 614.21 L343.92 612.28 L344.02 609.89 L344.12 607.08 L344.22 603.94 L344.32 600.55 L344.42 597.02 L344.52 593.43 L344.62 589.88 L344.72 586.48 L344.82 583.31 L344.92 580.46 L345.02 578.02 L345.12 576.05 L345.22 574.60 L345.32 573.71 L345.42 573.41 L345.52 573.77 L345.62 574.83 L345.72 576.55 L345.82 578.87 L345.92 581.69 L346.02 584.92 L346.12 588.44 L346.22 592.10 L346.32 595.78 L346.43 599.34 L346.53 602.63 L346.63 605.55 L346.73 607.98 L346.83 609.82 L346.93 611.02 L347.03 611.52 L347.13 611.31 L347.23 610.40 L347.33 608.84 L347.43 606.66 L347.53 603.92 L347.63 600.72 L347.73 597.15 L347.83 593.32 L347.93 589.34 L348.03 585.34 L348.13 581.44 L348.23 577.75 L348.33 574.39 L348.43 571.46 L348.53 569.04 L348.63 567.22 L348.73 566.05 L348.83 565.56 L348.93 565.77 L349.03 566.65 L349.13 568.17 L349.24 570.29 L349.34 572.93 L349.44 576.01 L349.54 579.41 L349.64 583.03 L349.74 586.75 L349.84 590.43 L349.94 593.96 L350.04 597.21 L350.14 600.08 L350.24 602.47 L350.34 604.30 L350.44 605.51 L350.54 606.05 L350.64 605.91 L350.74 605.07 L350.84 603.56 L350.94 601.43 L351.04 598.73 L351.14 595.56 L351.24 592.01 L351.34 588.20 L351.44 584.24 L351.54 580.25 L351.64 576.36 L351.74 572.68 L351.84 569.34 L351.94 566.44 L352.04 564.06 L352.15 562.28 L352.25 561.15 L352.35 560.72 L352.45 560.97 L352.55 561.88 L352.65 563.43 L352.75 565.55 L352.85 568.18 L352.95 571.23 L353.05 574.60 L353.15 578.19 L353.25 581.86 L353.35 585.51 L353.45 589.01 L353.55 592.24 L353.65 595.10 L353.75 597.49 L353.85 599.35 L353.95 600.59 L354.05 601.19 L354.15 601.12 L354.25 600.38 L354.35 598.99 L354.45 596.99 L354.55 594.46 L354.65 591.47 L354.75 588.13 L354.85 584.54 L354.95 580.82 L355.06 577.10 L355.16 573.50 L355.26 570.13 L355.36 567.11 L355.46 564.54 L355.56 562.50 L355.66 561.06 L355.76 560.26 L355.86 560.13 L355.96 560.52 L356.06 561.39 L356.16 562.70 L356.26 564.41 L356.36 566.47 L356.46 568.82 L356.56 571.37 L356.66 574.07 L356.76 576.81 L356.86 579.52 L356.96 582.11 L357.06 584.50 L357.16 586.61 L357.26 588.39 L357.36 589.77 L357.46 590.72 L357.56 591.20 L357.66 591.20 L357.76 590.69 L357.86 589.68 L357.97 588.21 L358.07 586.33 L358.17 584.12 L358.27 581.63 L358.37 578.98 L358.47 576.23 L358.57 573.50 L358.67 570.88 L358.77 568.46 L358.87 566.32 L358.97 564.55 L359.07 563.20 L359.17 562.32 L359.27 561.93 L359.37 562.01 L359.47 562.40 L359.57 563.10 L359.67 564.07 L359.77 565.30 L359.87 566.76 L359.97 568.39 L360.07 570.17 L360.17 572.05 L360.27 573.97 L360.37 575.88 L360.47 577.73 L360.57 579.48 L360.67 581.08 L360.77 582.48 L360.88 583.64 L360.98 584.55 L361.08 585.16 L361.18 585.48 L361.28 585.47 L361.38 585.13 L361.48 584.46 L361.58 583.49 L361.68 582.24 L361.78 580.77 L361.88 579.11 L361.98 577.32 L362.08 575.47 L362.18 573.62 L362.28 571.83 L362.38 570.15 L362.48 568.66 L362.58 567.38 L362.68 566.38 L362.78 565.68 L362.88 565.31 L362.98 565.27 L363.08 565.48 L363.18 565.91 L363.28 566.57 L363.38 567.41 L363.48 568.43 L363.58 569.58 L363.69 570.84 L363.79 572.15 L363.89 573.50 L363.99 574.83 L364.09 576.10 L364.19 577.27 L364.29 578.32 L364.39 579.20 L364.49 579.89 L364.59 580.38 L364.69 580.63 L364.79 580.66 L364.89 580.51 L364.99 580.20 L365.09 579.74 L365.19 579.15 L365.29 578.43 L365.39 577.62 L365.49 576.73 L365.59 575.80 L365.69 574.85 L365.79 573.91 L365.89 573.02 L365.99 572.19 L366.09 571.45 L366.19 570.82 L366.29 570.34 L366.39 570.00 L366.49 569.81 L366.60 569.80 L366.70 569.96 L366.80 570.31 L366.90 570.82 L367.00 571.48 L367.10 572.27 L367.20 573.16 L367.30 574.12 L367.40 575.14 L367.50 576.16 L367.60 577.16 L367.70 578.10 L367.80 578.96 L367.90 579.71 L368.00 580.32" stroke="#111" stroke-width="1.18" fill="none" stroke-linejoin="round"/>
<text class="b s" x="289.25" y="562.30" font-size="8.2">- 0.838</text>
</g>
<g id="plot8">
<rect x="418.75" y="553.25" width="90.75" height="73.0" fill="#fff" stroke="#a6a6a6" stroke-width="1.1"/>
<path d="M428.25 626.25v-2 M446.31 626.25v-2 M464.38 626.25v-2 M482.44 626.25v-2 M500.50 626.25v-2 M437.28 626.25v-1.2 M455.34 626.25v-1.2 M473.41 626.25v-1.2 M491.47 626.25v-1.2 M418.75 620.00h2 M418.75 607.90h2 M418.75 595.80h2 M418.75 583.70h2 M418.75 571.60h2 M418.75 559.50h2" stroke="#999" stroke-width="0.7" fill="none"/>
<text class="b s" x="417.45" y="623.30" font-size="7.2" text-anchor="end">0.0</text>
<text class="b s" x="417.45" y="611.20" font-size="7.2" text-anchor="end">0.2</text>
<text class="b s" x="417.45" y="599.10" font-size="7.2" text-anchor="end">0.4</text>
<text class="b s" x="417.45" y="587.00" font-size="7.2" text-anchor="end">0.6</text>
<text class="b s" x="417.45" y="574.90" font-size="7.2" text-anchor="end">0.8</text>
<text class="b s" x="417.45" y="562.80" font-size="7.2" text-anchor="end">1.0</text>
<text class="b s" x="428.25" y="635.40" font-size="7.4" text-anchor="middle">-2</text>
<text class="b s" x="446.31" y="635.40" font-size="7.4" text-anchor="middle">-1</text>
<text class="b s" x="464.38" y="635.40" font-size="7.4" text-anchor="middle">0</text>
<text class="b s" x="482.44" y="635.40" font-size="7.4" text-anchor="middle">1</text>
<text class="b s" x="500.50" y="635.40" font-size="7.4" text-anchor="middle">2</text>
<text class="b s" x="464.38" y="641.15" font-size="7.4" text-anchor="middle">x(mm)</text>
<text class="b s" transform="translate(406.55 616.80) rotate(-90)" x="0" y="0" font-size="7.7" textLength="53.6" lengthAdjust="spacingAndGlyphs">Relative Intensity</text>
<path d="M428.25 591.70 L428.35 591.38 L428.45 590.99 L428.55 590.56 L428.65 590.09 L428.75 589.61 L428.85 589.14 L428.95 588.69 L429.05 588.28 L429.15 587.93 L429.25 587.65 L429.35 587.45 L429.45 587.35 L429.55 587.33 L429.65 587.37 L429.76 587.44 L429.86 587.56 L429.96 587.71 L430.06 587.89 L430.16 588.11 L430.26 588.35 L430.36 588.62 L430.46 588.90 L430.56 589.20 L430.66 589.52 L430.76 589.84 L430.86 590.16 L430.96 590.47 L431.06 590.78 L431.16 591.07 L431.26 591.35 L431.36 591.60 L431.46 591.83 L431.56 592.03 L431.66 592.19 L431.76 592.32 L431.86 592.41 L431.96 592.46 L432.06 592.47 L432.16 592.40 L432.26 592.24 L432.36 591.99 L432.46 591.66 L432.56 591.26 L432.67 590.80 L432.77 590.30 L432.87 589.78 L432.97 589.26 L433.07 588.74 L433.17 588.25 L433.27 587.81 L433.37 587.43 L433.47 587.12 L433.57 586.90 L433.67 586.76 L433.77 586.73 L433.87 586.87 L433.97 587.23 L434.07 587.80 L434.17 588.56 L434.27 589.47 L434.37 590.48 L434.47 591.56 L434.57 592.65 L434.67 593.71 L434.77 594.68 L434.87 595.53 L434.97 596.21 L435.07 596.69 L435.17 596.96 L435.27 597.00 L435.37 596.85 L435.48 596.54 L435.58 596.06 L435.68 595.45 L435.78 594.71 L435.88 593.87 L435.98 592.96 L436.08 592.00 L436.18 591.04 L436.28 590.11 L436.38 589.22 L436.48 588.42 L436.58 587.72 L436.68 587.16 L436.78 586.75 L436.88 586.50 L436.98 586.42 L437.08 586.64 L437.18 587.25 L437.28 588.20 L437.38 589.46 L437.48 590.96 L437.58 592.62 L437.68 594.36 L437.78 596.09 L437.88 597.72 L437.98 599.16 L438.08 600.35 L438.18 601.22 L438.28 601.72 L438.39 601.84 L438.49 601.61 L438.59 601.07 L438.69 600.23 L438.79 599.14 L438.89 597.84 L438.99 596.39 L439.09 594.87 L439.19 593.33 L439.29 591.85 L439.39 590.49 L439.49 589.32 L439.59 588.38 L439.69 587.73 L439.79 587.38 L439.89 587.37 L439.99 587.78 L440.09 588.62 L440.19 589.83 L440.29 591.37 L440.39 593.18 L440.49 595.17 L440.59 597.25 L440.69 599.33 L440.79 601.33 L440.89 603.15 L440.99 604.71 L441.09 605.95 L441.19 606.80 L441.30 607.24 L441.40 607.26 L441.50 606.94 L441.60 606.32 L441.70 605.42 L441.80 604.27 L441.90 602.90 L442.00 601.37 L442.10 599.72 L442.20 598.00 L442.30 596.29 L442.40 594.63 L442.50 593.08 L442.60 591.69 L442.70 590.52 L442.80 589.59 L442.90 588.94 L443.00 588.60 L443.10 588.58 L443.20 588.97 L443.30 589.79 L443.40 591.01 L443.50 592.58 L443.60 594.44 L443.70 596.52 L443.80 598.74 L443.90 601.02 L444.00 603.28 L444.10 605.43 L444.21 607.38 L444.31 609.07 L444.41 610.44 L444.51 611.42 L444.61 611.99 L444.71 612.13 L444.81 611.80 L444.91 611.01 L445.01 609.81 L445.11 608.24 L445.21 606.37 L445.31 604.29 L445.41 602.10 L445.51 599.89 L445.61 597.76 L445.71 595.80 L445.81 594.12 L445.91 592.77 L446.01 591.83 L446.11 591.34 L446.21 591.30 L446.31 591.66 L446.41 592.39 L446.51 593.47 L446.61 594.86 L446.71 596.51 L446.81 598.37 L446.91 600.39 L447.01 602.49 L447.12 604.60 L447.22 606.65 L447.32 608.58 L447.42 610.33 L447.52 611.83 L447.62 613.04 L447.72 613.91 L447.82 614.42 L447.92 614.55 L448.02 614.24 L448.12 613.49 L448.22 612.32 L448.32 610.78 L448.42 608.95 L448.52 606.91 L448.62 604.75 L448.72 602.57 L448.82 600.47 L448.92 598.53 L449.02 596.86 L449.12 595.52 L449.22 594.58 L449.32 594.07 L449.42 594.02 L449.52 594.42 L449.62 595.26 L449.72 596.49 L449.82 598.08 L449.93 599.96 L450.03 602.07 L450.13 604.32 L450.23 606.63 L450.33 608.91 L450.43 611.09 L450.53 613.07 L450.63 614.78 L450.73 616.16 L450.83 617.16 L450.93 617.74 L451.03 617.87 L451.13 617.57 L451.23 616.85 L451.33 615.74 L451.43 614.29 L451.53 612.57 L451.63 610.65 L451.73 608.61 L451.83 606.55 L451.93 604.55 L452.03 602.71 L452.13 601.11 L452.23 599.81 L452.33 598.87 L452.43 598.34 L452.53 598.23 L452.63 598.50 L452.73 599.11 L452.84 600.04 L452.94 601.27 L453.04 602.74 L453.14 604.43 L453.24 606.26 L453.34 608.19 L453.44 610.15 L453.54 612.07 L453.64 613.90 L453.74 615.57 L453.84 617.04 L453.94 618.24 L454.04 619.16 L454.14 619.75 L454.24 619.99 L454.34 619.91 L454.44 619.54 L454.54 618.90 L454.64 618.01 L454.74 616.91 L454.84 615.62 L454.94 614.20 L455.04 612.70 L455.14 611.16 L455.24 609.63 L455.34 608.18 L455.44 606.85 L455.54 605.68 L455.64 604.72 L455.75 604.00 L455.85 603.54 L455.95 603.36 L456.05 603.46 L456.15 603.78 L456.25 604.34 L456.35 605.10 L456.45 606.04 L456.55 607.13 L456.65 608.34 L456.75 609.62 L456.85 610.94 L456.95 612.25 L457.05 613.50 L457.15 614.66 L457.25 615.68 L457.35 616.54 L457.45 617.20 L457.55 617.65 L457.65 617.86 L457.75 617.86 L457.85 617.71 L457.95 617.43 L458.05 617.02 L458.15 616.51 L458.25 615.91 L458.35 615.23 L458.45 614.51 L458.55 613.76 L458.66 613.02 L458.76 612.30 L458.86 611.63 L458.96 611.03 L459.06 610.53 L459.16 610.14 L459.26 609.87 L459.36 609.73 L459.46 609.72 L459.56 609.76 L459.66 609.84 L459.76 609.96 L459.86 610.11 L459.96 610.30 L460.06 610.51 L460.16 610.76 L460.26 611.03 L460.36 611.32 L460.46 611.62 L460.56 611.93 L460.66 612.25 L460.76 612.57 L460.86 612.89 L460.96 613.20 L461.06 613.49 L461.16 613.76 L461.26 614.01 L461.36 614.24 L461.46 614.43 L461.57 614.59 L461.67 614.71 L461.77 614.80 L461.87 614.85 L461.97 614.84 L462.07 614.47 L462.17 613.64 L462.27 612.38 L462.37 610.69 L462.47 608.61 L462.57 606.17 L462.67 603.42 L462.77 600.39 L462.87 597.15 L462.97 593.74 L463.07 590.21 L463.17 586.64 L463.27 583.08 L463.37 579.58 L463.47 576.22 L463.57 573.03 L463.67 570.08 L463.77 567.42 L463.87 565.08 L463.97 563.12 L464.07 561.56 L464.17 560.42 L464.27 559.73 L464.38 559.50 L464.48 559.73 L464.58 560.42 L464.68 561.56 L464.78 563.12 L464.88 565.08 L464.98 567.42 L465.08 570.08 L465.18 573.03 L465.28 576.22 L465.38 579.58 L465.48 583.08 L465.58 586.64 L465.68 590.21 L465.78 593.74 L465.88 597.15 L465.98 600.39 L466.08 603.42 L466.18 606.17 L466.28 608.61 L466.38 610.69 L466.48 612.38 L466.58 613.64 L466.68 614.47 L466.78 614.84 L466.88 614.85 L466.98 614.80 L467.08 614.71 L467.18 614.59 L467.29 614.43 L467.39 614.24 L467.49 614.01 L467.59 613.76 L467.69 613.49 L467.79 613.20 L467.89 612.89 L467.99 612.57 L468.09 612.25 L468.19 611.93 L468.29 611.62 L468.39 611.32 L468.49 611.03 L468.59 610.76 L468.69 610.51 L468.79 610.30 L468.89 610.11 L468.99 609.96 L469.09 609.84 L469.19 609.76 L469.29 609.72 L469.39 609.73 L469.49 609.87 L469.59 610.14 L469.69 610.53 L469.79 611.03 L469.89 611.63 L469.99 612.30 L470.09 613.02 L470.20 613.76 L470.30 614.51 L470.40 615.23 L470.50 615.91 L470.60 616.51 L470.70 617.02 L470.80 617.43 L470.90 617.71 L471.00 617.86 L471.10 617.86 L471.20 617.65 L471.30 617.20 L471.40 616.54 L471.50 615.68 L471.60 614.66 L471.70 613.50 L471.80 612.25 L471.90 610.94 L472.00 609.62 L472.10 608.34 L472.20 607.13 L472.30 606.04 L472.40 605.10 L472.50 604.34 L472.60 603.78 L472.70 603.46 L472.80 603.36 L472.90 603.54 L473.00 604.00 L473.11 604.72 L473.21 605.68 L473.31 606.85 L473.41 608.18 L473.51 609.63 L473.61 611.16 L473.71 612.70 L473.81 614.20 L473.91 615.62 L474.01 616.91 L474.11 618.01 L474.21 618.90 L474.31 619.54 L474.41 619.91 L474.51 619.99 L474.61 619.75 L474.71 619.16 L474.81 618.24 L474.91 617.04 L475.01 615.57 L475.11 613.90 L475.21 612.07 L475.31 610.15 L475.41 608.19 L475.51 606.26 L475.61 604.43 L475.71 602.74 L475.81 601.27 L475.91 600.04 L476.02 599.11 L476.12 598.50 L476.22 598.23 L476.32 598.34 L476.42 598.87 L476.52 599.81 L476.62 601.11 L476.72 602.71 L476.82 604.55 L476.92 606.55 L477.02 608.61 L477.12 610.65 L477.22 612.57 L477.32 614.29 L477.42 615.74 L477.52 616.85 L477.62 617.57 L477.72 617.87 L477.82 617.74 L477.92 617.16 L478.02 616.16 L478.12 614.78 L478.22 613.07 L478.32 611.09 L478.42 608.91 L478.52 606.63 L478.62 604.32 L478.72 602.07 L478.82 599.96 L478.93 598.08 L479.03 596.49 L479.13 595.26 L479.23 594.42 L479.33 594.02 L479.43 594.07 L479.53 594.58 L479.63 595.52 L479.73 596.86 L479.83 598.53 L479.93 600.47 L480.03 602.57 L480.13 604.75 L480.23 606.91 L480.33 608.95 L480.43 610.78 L480.53 612.32 L480.63 613.49 L480.73 614.24 L480.83 614.55 L480.93 614.42 L481.03 613.91 L481.13 613.04 L481.23 611.83 L481.33 610.33 L481.43 608.58 L481.53 606.65 L481.63 604.60 L481.74 602.49 L481.84 600.39 L481.94 598.37 L482.04 596.51 L482.14 594.86 L482.24 593.47 L482.34 592.39 L482.44 591.66 L482.54 591.30 L482.64 591.34 L482.74 591.83 L482.84 592.77 L482.94 594.12 L483.04 595.80 L483.14 597.76 L483.24 599.89 L483.34 602.10 L483.44 604.29 L483.54 606.37 L483.64 608.24 L483.74 609.81 L483.84 611.01 L483.94 611.80 L484.04 612.13 L484.14 611.99 L484.24 611.42 L484.34 610.44 L484.44 609.07 L484.54 607.38 L484.65 605.43 L484.75 603.28 L484.85 601.02 L484.95 598.74 L485.05 596.52 L485.15 594.44 L485.25 592.58 L485.35 591.01 L485.45 589.79 L485.55 588.97 L485.65 588.58 L485.75 588.60 L485.85 588.94 L485.95 589.59 L486.05 590.52 L486.15 591.69 L486.25 593.08 L486.35 594.63 L486.45 596.29 L486.55 598.00 L486.65 599.72 L486.75 601.37 L486.85 602.90 L486.95 604.27 L487.05 605.42 L487.15 606.32 L487.25 606.94 L487.35 607.26 L487.45 607.24 L487.56 606.80 L487.66 605.95 L487.76 604.71 L487.86 603.15 L487.96 601.33 L488.06 599.33 L488.16 597.25 L488.26 595.17 L488.36 593.18 L488.46 591.37 L488.56 589.83 L488.66 588.62 L488.76 587.78 L488.86 587.37 L488.96 587.38 L489.06 587.73 L489.16 588.38 L489.26 589.32 L489.36 590.49 L489.46 591.85 L489.56 593.33 L489.66 594.87 L489.76 596.39 L489.86 597.84 L489.96 599.14 L490.06 600.23 L490.16 601.07 L490.26 601.61 L490.36 601.84 L490.47 601.72 L490.57 601.22 L490.67 600.35 L490.77 599.16 L490.87 597.72 L490.97 596.09 L491.07 594.36 L491.17 592.62 L491.27 590.96 L491.37 589.46 L491.47 588.20 L491.57 587.25 L491.67 586.64 L491.77 586.42 L491.87 586.50 L491.97 586.75 L492.07 587.16 L492.17 587.72 L492.27 588.42 L492.37 589.22 L492.47 590.11 L492.57 591.04 L492.67 592.00 L492.77 592.96 L492.87 593.87 L492.97 594.71 L493.07 595.45 L493.17 596.06 L493.27 596.54 L493.38 596.85 L493.48 597.00 L493.58 596.96 L493.68 596.69 L493.78 596.21 L493.88 595.53 L493.98 594.68 L494.08 593.71 L494.18 592.65 L494.28 591.56 L494.38 590.48 L494.48 589.47 L494.58 588.56 L494.68 587.80 L494.78 587.23 L494.88 586.87 L494.98 586.73 L495.08 586.76 L495.18 586.90 L495.28 587.12 L495.38 587.43 L495.48 587.81 L495.58 588.25 L495.68 588.74 L495.78 589.26 L495.88 589.78 L495.98 590.30 L496.08 590.80 L496.19 591.26 L496.29 591.66 L496.39 591.99 L496.49 592.24 L496.59 592.40 L496.69 592.47 L496.79 592.46 L496.89 592.41 L496.99 592.32 L497.09 592.19 L497.19 592.03 L497.29 591.83 L497.39 591.60 L497.49 591.35 L497.59 591.07 L497.69 590.78 L497.79 590.47 L497.89 590.16 L497.99 589.84 L498.09 589.52 L498.19 589.20 L498.29 588.90 L498.39 588.62 L498.49 588.35 L498.59 588.11 L498.69 587.89 L498.79 587.71 L498.89 587.56 L498.99 587.44 L499.10 587.37 L499.20 587.33 L499.30 587.35 L499.40 587.45 L499.50 587.65 L499.60 587.93 L499.70 588.28 L499.80 588.69 L499.90 589.14 L500.00 589.61 L500.10 590.09 L500.20 590.56 L500.30 590.99 L500.40 591.38 L500.50 591.70" stroke="#111" stroke-width="1.18" fill="none" stroke-linejoin="round"/>
<text class="b s" x="423.00" y="564.05" font-size="8.2">0.841</text>
</g>
<g id="chartA">
<rect x="153.2" y="1.2" width="219.00" height="175.20" fill="#fff" stroke="#000" stroke-width="1.7"/>
<path d="M153.2 162.90h4.5 M153.2 133.55h4.5 M153.2 104.20h4.5 M153.2 74.85h4.5 M153.2 45.50h4.5 M153.2 16.15h4.5 M153.2 148.22h2.6 M153.2 118.88h2.6 M153.2 89.53h2.6 M153.2 60.18h2.6 M153.2 30.83h2.6 M153.2 1.48h2.6 M168.80 176.4v-4.5 M199.95 176.4v-4.5 M231.10 176.4v-4.5 M262.25 176.4v-4.5 M293.40 176.4v-4.5 M324.55 176.4v-4.5 M355.70 176.4v-4.5 M184.38 176.4v-2.6 M215.53 176.4v-2.6 M246.68 176.4v-2.6 M277.82 176.4v-2.6 M308.98 176.4v-2.6 M340.12 176.4v-2.6" stroke="#000" stroke-width="1.3" fill="none"/>
<text class="b t" x="149.6" y="165.80" font-size="8.6" text-anchor="end">0</text>
<text class="b t" x="149.6" y="136.45" font-size="8.6" text-anchor="end">100</text>
<text class="b t" x="149.6" y="107.10" font-size="8.6" text-anchor="end">200</text>
<text class="b t" x="149.6" y="77.75" font-size="8.6" text-anchor="end">300</text>
<text class="b t" x="149.6" y="48.40" font-size="8.6" text-anchor="end">400</text>
<text class="b t" x="149.6" y="19.05" font-size="8.6" text-anchor="end">500</text>
<text class="b t" x="168.80" y="188.2" font-size="8.6" text-anchor="middle">1.0</text>
<text class="b t" x="199.95" y="188.2" font-size="8.6" text-anchor="middle">1.5</text>
<text class="b t" x="231.10" y="188.2" font-size="8.6" text-anchor="middle">2.0</text>
<text class="b t" x="262.25" y="188.2" font-size="8.6" text-anchor="middle">2.5</text>
<text class="b t" x="293.40" y="188.2" font-size="8.6" text-anchor="middle">3.0</text>
<text class="b t" x="324.55" y="188.2" font-size="8.6" text-anchor="middle">3.5</text>
<text class="b t" x="355.70" y="188.2" font-size="8.6" text-anchor="middle">4.0</text>
<text class="b t" x="191.4" y="203.4" font-size="8.6" textLength="137" lengthAdjust="spacingAndGlyphs">Outer radius of the circular-ring (mm)</text>
<text class="b t" transform="translate(130.3 130.8) rotate(-90)" x="0" y="2.8" font-size="8.6" textLength="89" lengthAdjust="spacingAndGlyphs">FWHM of Airy disk (µm)</text>
<text x="262.9" y="215.2" font-size="10.4" text-anchor="middle" style="stroke:#000;stroke-width:0.15px">(a)</text>
<polyline points="181.26,45.50 206.18,75.44 231.10,93.63 256.02,105.08 280.94,113.59 305.86,119.46 330.78,124.45 355.70,128.27" fill="none" stroke="#000000" stroke-width="2.25" stroke-linejoin="round"/>
<rect x="179.31" y="43.55" width="3.91" height="3.91" fill="#000000"/><rect x="204.22" y="73.48" width="3.91" height="3.91" fill="#000000"/><rect x="229.15" y="91.68" width="3.91" height="3.91" fill="#000000"/><rect x="254.06" y="103.13" width="3.91" height="3.91" fill="#000000"/><rect x="278.99" y="111.64" width="3.91" height="3.91" fill="#000000"/><rect x="303.91" y="117.51" width="3.91" height="3.91" fill="#000000"/><rect x="328.82" y="122.50" width="3.91" height="3.91" fill="#000000"/><rect x="353.75" y="126.31" width="3.91" height="3.91" fill="#000000"/>
<polyline points="181.26,41.10 206.18,73.38 231.10,92.46 256.02,104.49 280.94,113.01 305.86,119.17 330.78,124.16 355.70,127.97" fill="none" stroke="#e8141c" stroke-width="2.25" stroke-linejoin="round"/>
<circle cx="181.26" cy="41.10" r="2.18" fill="#e8141c"/><circle cx="206.18" cy="73.38" r="2.18" fill="#e8141c"/><circle cx="231.10" cy="92.46" r="2.18" fill="#e8141c"/><circle cx="256.02" cy="104.49" r="2.18" fill="#e8141c"/><circle cx="280.94" cy="113.01" r="2.18" fill="#e8141c"/><circle cx="305.86" cy="119.17" r="2.18" fill="#e8141c"/><circle cx="330.78" cy="124.16" r="2.18" fill="#e8141c"/><circle cx="355.70" cy="127.97" r="2.18" fill="#e8141c"/>
<polyline points="181.26,34.64 206.18,69.57 231.10,90.70 256.02,103.32 280.94,112.12 305.86,118.58 330.78,123.86 355.70,127.68" fill="none" stroke="#0a18f0" stroke-width="2.25" stroke-linejoin="round"/>
<path d="M181.26 32.00L183.79 36.48L178.73 36.48Z" fill="#0a18f0"/><path d="M206.18 66.92L208.71 71.41L203.65 71.41Z" fill="#0a18f0"/><path d="M231.10 88.05L233.63 92.54L228.57 92.54Z" fill="#0a18f0"/><path d="M256.02 100.67L258.55 105.16L253.49 105.16Z" fill="#0a18f0"/><path d="M280.94 109.48L283.47 113.96L278.41 113.96Z" fill="#0a18f0"/><path d="M305.86 115.94L308.39 120.42L303.33 120.42Z" fill="#0a18f0"/><path d="M330.78 121.22L333.31 125.70L328.25 125.70Z" fill="#0a18f0"/><path d="M355.70 125.04L358.23 129.52L353.17 129.52Z" fill="#0a18f0"/>
<polyline points="181.26,30.24 206.18,67.51 231.10,89.53 256.02,102.44 280.94,111.54 305.86,118.29 330.78,123.57 355.70,129.15" fill="none" stroke="#cf33e8" stroke-width="2.25" stroke-linejoin="round"/>
<path d="M181.26 32.88L183.79 28.40L178.73 28.40Z" fill="#cf33e8"/><path d="M206.18 70.16L208.71 65.67L203.65 65.67Z" fill="#cf33e8"/><path d="M231.10 92.17L233.63 87.69L228.57 87.69Z" fill="#cf33e8"/><path d="M256.02 105.08L258.55 100.60L253.49 100.60Z" fill="#cf33e8"/><path d="M280.94 114.18L283.47 109.70L278.41 109.70Z" fill="#cf33e8"/><path d="M305.86 120.93L308.39 116.45L303.33 116.45Z" fill="#cf33e8"/><path d="M330.78 126.22L333.31 121.73L328.25 121.73Z" fill="#cf33e8"/><path d="M355.70 131.79L358.23 127.31L353.17 127.31Z" fill="#cf33e8"/>
<polyline points="181.26,24.96 206.18,63.70 231.10,87.18 256.02,100.97 280.94,110.36 305.86,116.53 330.78,121.81 355.70,126.51" fill="none" stroke="#40801e" stroke-width="2.25" stroke-linejoin="round"/>
<path d="M181.26 22.08L183.68 24.96L181.26 27.83L178.85 24.96Z" fill="#40801e"/><path d="M206.18 60.82L208.59 63.70L206.18 66.57L203.77 63.70Z" fill="#40801e"/><path d="M231.10 84.30L233.52 87.18L231.10 90.05L228.69 87.18Z" fill="#40801e"/><path d="M256.02 98.10L258.44 100.97L256.02 103.85L253.60 100.97Z" fill="#40801e"/><path d="M280.94 107.49L283.36 110.36L280.94 113.24L278.52 110.36Z" fill="#40801e"/><path d="M305.86 113.65L308.28 116.53L305.86 119.40L303.44 116.53Z" fill="#40801e"/><path d="M330.78 118.94L333.19 121.81L330.78 124.69L328.36 121.81Z" fill="#40801e"/><path d="M355.70 123.63L358.12 126.51L355.70 129.38L353.28 126.51Z" fill="#40801e"/>
<polyline points="181.26,19.97 206.18,61.06 231.10,84.54 256.02,98.92 280.94,108.60 305.86,112.71 330.78,162.61 355.70,125.33" fill="none" stroke="#08087a" stroke-width="2.25" stroke-linejoin="round"/>
<path d="M178.62 19.97L183.10 17.44L183.10 22.50Z" fill="#08087a"/><path d="M203.53 61.06L208.02 58.53L208.02 63.59Z" fill="#08087a"/><path d="M228.46 84.54L232.94 82.01L232.94 87.07Z" fill="#08087a"/><path d="M253.37 98.92L257.86 96.39L257.86 101.45Z" fill="#08087a"/><path d="M278.30 108.60L282.78 106.07L282.78 111.13Z" fill="#08087a"/><path d="M303.22 112.71L307.70 110.18L307.70 115.24Z" fill="#08087a"/><path d="M328.13 162.61L332.62 160.08L332.62 165.14Z" fill="#08087a"/><path d="M353.06 125.33L357.54 122.80L357.54 127.86Z" fill="#08087a"/>
<rect x="286.2" y="2.2" width="85" height="68.6" fill="#fff" stroke="#9a9aa8" stroke-width="0.6"/>
<path d="M286.8 8.70H307.8" stroke="#000000" stroke-width="1.9"/><rect x="295.43" y="6.83" width="3.74" height="3.74" fill="#000000"/>
<text class="b t" x="309.8" y="11.60" font-size="8.6" textLength="54.8" lengthAdjust="spacingAndGlyphs">slit width 50µm</text>
<path d="M286.8 19.96H307.8" stroke="#e8141c" stroke-width="1.9"/><circle cx="297.30" cy="19.96" r="2.09" fill="#e8141c"/>
<text class="b t" x="309.8" y="22.86" font-size="8.6" textLength="59.6" lengthAdjust="spacingAndGlyphs">slit width 100µm</text>
<path d="M286.8 31.22H307.8" stroke="#0a18f0" stroke-width="1.9"/><path d="M297.30 28.69L299.72 32.98L294.88 32.98Z" fill="#0a18f0"/>
<text class="b t" x="309.8" y="34.12" font-size="8.6" textLength="59.6" lengthAdjust="spacingAndGlyphs">slit width 150µm</text>
<path d="M286.8 42.48H307.8" stroke="#cf33e8" stroke-width="1.9"/><path d="M297.30 45.01L299.72 40.72L294.88 40.72Z" fill="#cf33e8"/>
<text class="b t" x="309.8" y="45.38" font-size="8.6" textLength="59.6" lengthAdjust="spacingAndGlyphs">slit width 200µm</text>
<path d="M286.8 53.74H307.8" stroke="#40801e" stroke-width="1.9"/><path d="M297.30 50.99L299.61 53.74L297.30 56.49L294.99 53.74Z" fill="#40801e"/>
<text class="b t" x="309.8" y="56.64" font-size="8.6" textLength="59.6" lengthAdjust="spacingAndGlyphs">slit width 250µm</text>
<path d="M286.8 65.00H307.8" stroke="#08087a" stroke-width="1.9"/><path d="M294.77 65.00L299.06 62.58L299.06 67.42Z" fill="#08087a"/>
<text class="b t" x="309.8" y="67.90" font-size="8.6" textLength="59.6" lengthAdjust="spacingAndGlyphs">slit width 300µm</text>
</g>
<text x="263" y="647.4" font-size="10.6" text-anchor="middle" style="stroke:#000;stroke-width:0.15px">(b)</text>
</svg></body></html>
